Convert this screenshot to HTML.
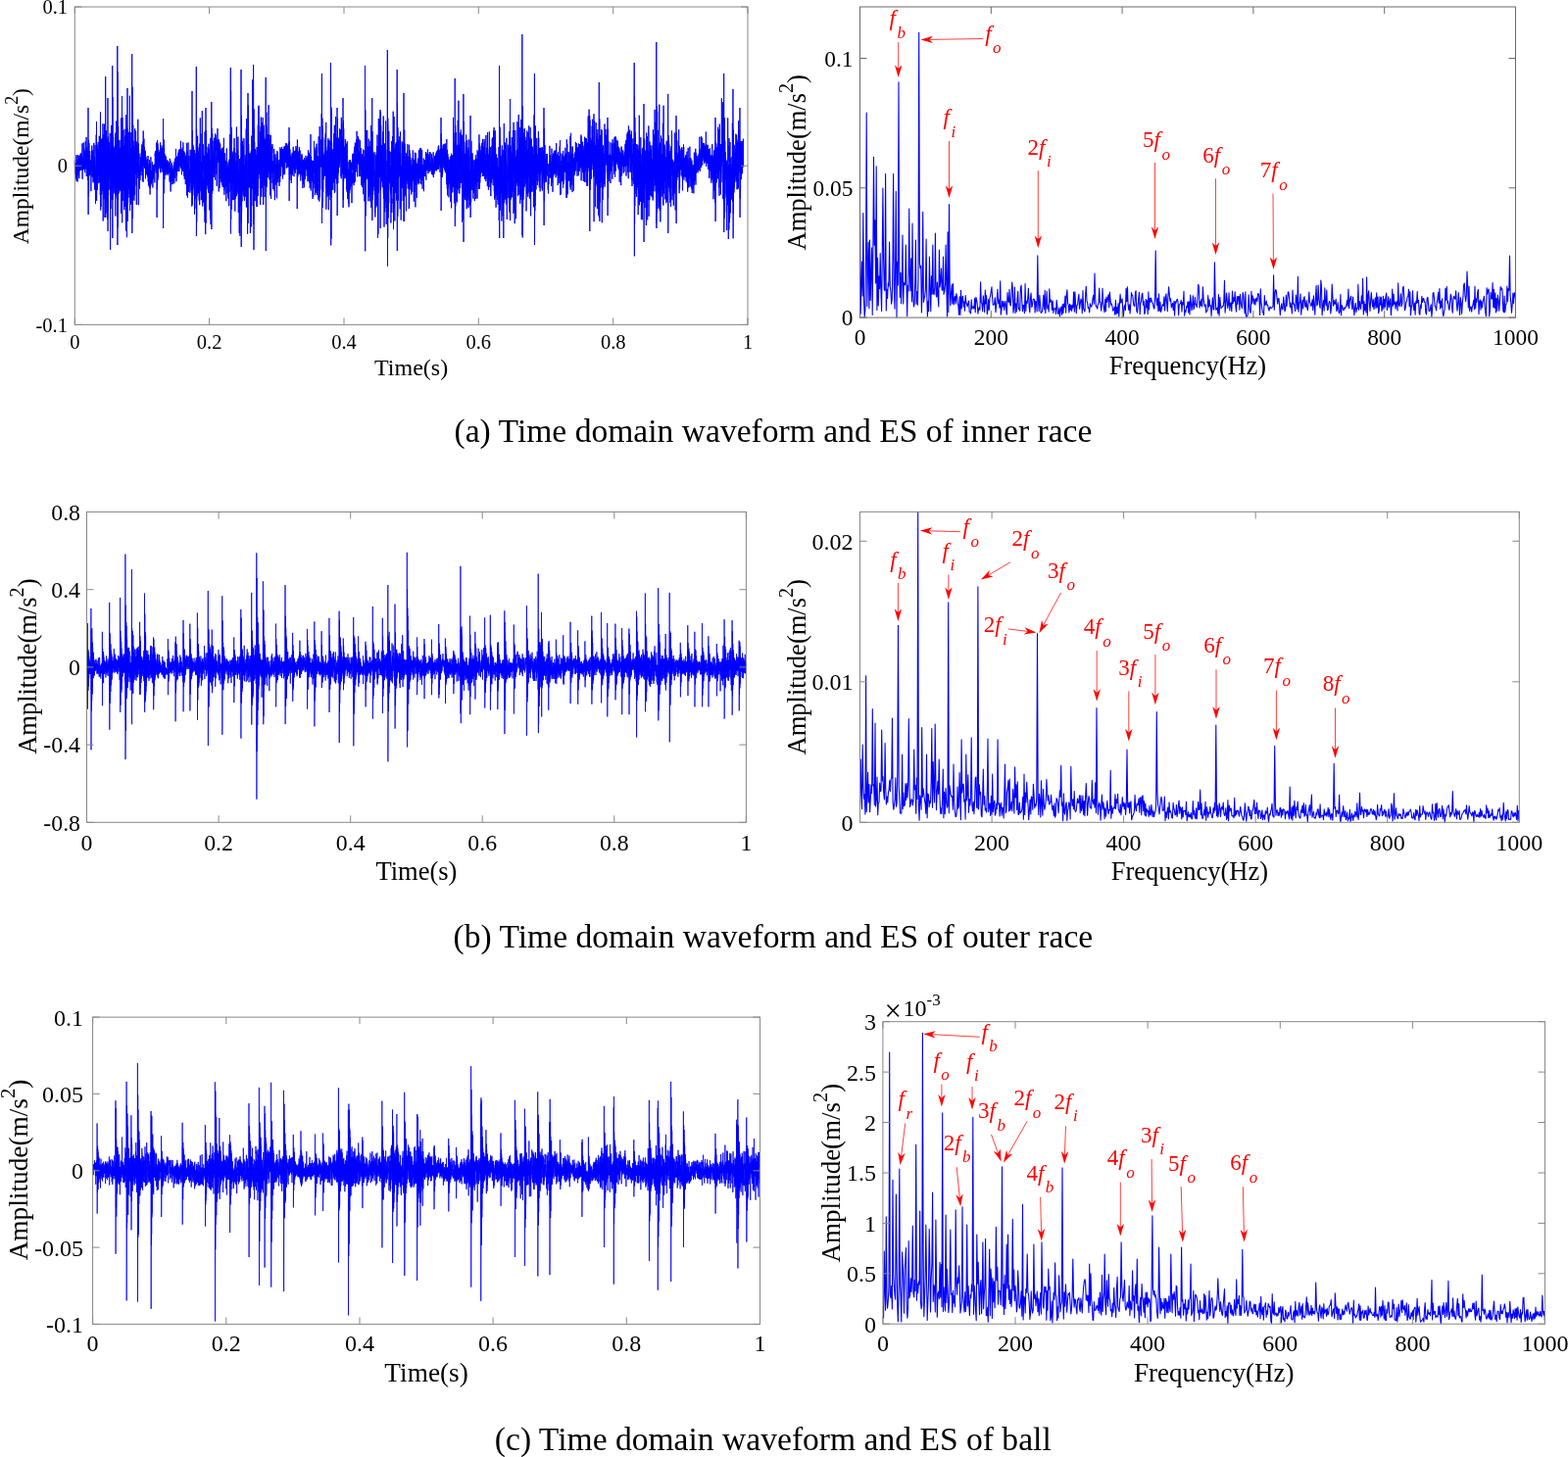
<!DOCTYPE html><html><head><meta charset="utf-8"><title>Time domain waveform and ES</title><style>html,body{margin:0;padding:0;background:#fff}svg{display:block}text{font-family:"Liberation Serif","Times New Roman",serif}</style></head><body>
<svg width="1600" height="1487" viewBox="0 0 1600 1487">
<rect width="1600" height="1487" fill="#fff"/>
<path d="M76.3 163.5l.1 7.3.1 6.6.1-9.2.1 0 .1 9 .1 0 .1-6 .1 3.8.1-6.6.1 12.5.1-14.4.1 9.7.1-6.4.1 12.8.1-16.6.1 5 .1-12.7.1 25.3.1 1.2.1-17.1.1-1.1.1 18 .1-15.6.1-2.7.1-3.2.1 8.5.1 11.3.1 2.6.1-27.3.1 11.3.1-3.9.1 8.7.1-.7.1-.3.1 4.8.1-4.5.1 5.5.1-4.9.1-10.6.1 7.2.1 4.6.1-16.6.1 2.7.1 8.4.1 12 .1-21.1.1-.3.1 12.8.1-14.1.1 15.3.1-4.1.1 1.1.1-4.7.1 2 .1-11.2.1 12.2.1-5.8.1 2.6.1-1.7.1 7.3.1-5.8.1-10.2.1 3.7.1 13.9.1-5.6.1 4.1.1-2.2.1-.8.1 4 .1-12.2.1-3.4.1 5.3.1 4.3.1-4.7.1 6.6.1-13.3.1-9.5.1 36.4.1-22.4.1 2.4.1-1.2.1 3.4.1 9 .1-10.6.1 2.4.1-1.9.1-.8.1 3.4.1-21 .1 26.6.1-6.4.1 6.7.1-8.4.1-13.1.1 12.2.1 6.1.1 3.9.1-14.4.1 9.8.1-10.4.1 10.4.1-1.2.1-3.7.1 12.6.1-22.5.1 18.8.1-10.3.1-2.4.1-15.4.1 15.3.1-2.9.1 11.1.1-3 .1-1 .1-8.9.1 17.3.1-11.7.1-20.7.1 32.4.1 7.7.1-11.2.1-3.3.1-15.5.1 10.2.1-5.7.1 16.3.1-5.8.1-2.9.1 10.2.1-10.1.1 5.2.1-4.6.1 14.9.1 6.1.1-31.5.1 12.3.1-54.6.1 109 .1-34 .1-39.2.1 54.6.1-57.6.1 54.6.1-42.4.1 24.5.1-33.4.1 30.1.1-19.4.1 20.5.1-23 .1 23.6.1-16.2.1 11.1.1-14.6.1 20.8.1-13.9.1 4.6.1-6.1.1 12.4.1-1.1.1-11.2.1 15 .1-12.9.1 3 .1 13.5.1 12.8.1-17.5.1-9.3.1.1.1-14.5.1 14.8.1 1.1.1-5.1.1 9.9.1-26 .1 28.2.1 3.7.1-4.1.1-21.2.1 22.5.1 2.7.1-17 .1-7.5.1 20.8.1-14.4.1 18 .1-27.1.1 33.1.1-10.5.1 2.3.1 7 .1-11.5.1-10.3.1 21.1.1-38.5.1 23.6.1-1.2.1 16.1.1-10.1.1-14 .1 28 .1-4.5.1 2.2.1 7.5.1-29.5.1 22 .1-37.9.1 45.2.1-14.2.1-6.2.1 16.6.1 18.5.1-23.9.1-10.2.1 15.2.1-20.2.1 35.4.1-36.2.1-30.5.1 18.9.1-.9.1-31.6.1 81 .1-17.8.1-42.1.1 40.5.1-31.6.1 24.9.1-31.1.1 46.1.1-40.2.1 27.2.1-23.3.1 21.7.1-26.9.1 24.5.1-6.9.1-1.3.1-15.2.1 23.2.1-20.8.1 19.4.1-2.3.1 14.1.1-.7.1-41.5.1 21.5.1 13.4.1-14.2.1-26.8.1 31 .1 13.5.1-23 .1 25.5.1-28.9.1-10.7.1 17.4.1 13.5.1-12.2.1 34.2.1-66.7.1-18 .1 52.7.1 47.4.1-31.5.1 17.8.1 10.2.1-40 .1.6.1 11 .1-40.9.1 25.3.1 24.3.1-33.3.1 40.5.1-21.8.1 11.7.1-27.3.1 13.9.1 7.7.1-20.7.1-5.1.1 5.6.1-21.8.1 54.4.1-36.4.1-32.4.1 42.3.1 56.9.1-81.6.1 30.3.1-22 .1 9.6.1-9 .1-15.8.1 28.6.1-17.4.1 55.1.1-10.7.1-20.5.1-45.5.1 64.4.1-12.9.1-27.4.1 32.2.1 20.9.1 18.3.1-75.1.1 52.3.1-40.5.1-4.7.1 41.6.1-40 .1-77.7.1 144 .1-6.3.1-77.1.1 78.9.1-75 .1 42.8.1-52.3.1 72.7.1-51 .1 30.1.1-34.7.1 37.7.1-45.9.1 43 .1-22 .1 35.9.1-48.3.1 34.2.1-8.7.1 2.9.1-17.7.1 62.5.1-123.7.1 136 .1-24.4.1-72.1.1 75.1.1-73 .1 57.7.1-55.1.1 38.8.1-30 .1 24.8.1-32.1.1 47.9.1-48.6.1 37.5.1-7.9.1 2.4.1-31.1.1 29.1.1-8.3.1 13 .1-11 .1-32.8.1 30.3.1-9.8.1-4.4.1 103 .1-90.8.1-11.7.1 10.2.1 50.3.1-20.4.1-42.8.1 7.8.1-.8.1 46.7.1-41.4.1-34.3.1 41.3.1-38.2.1 14.3.1 1.3.1 43.9.1-.5.1.8.1-53.1.1-2.8.1-67.8.1 176 .1-1.2.1-142.5.1 104.6.1-65.6.1 57.1.1-56.9.1 51 .1-49.5.1 52.2.1-43 .1 17.1.1 1.4.1 21.6.1-27.1.1 11.7.1-23.3.1 40.4.1-31.3.1 27.1.1-16.7.1 27.5.1-32.5.1-6.6.1 37.3.1-20.7.1-23.6.1-15.7.1 29.6.1 33.2.1 21.9.1-46.8.1 10.9.1 7.9.1 3.1.1-3.6.1-20.3.1-14.7.1 42.4.1-75.8.1 12.5.1 47.3.1-15.7.1-34.1.1 68.7.1-8.4.1-.1.1 11.2.1-48.6.1 26.3.1-135.7.1 203 .1-22.1.1-154.4.1 158.7.1-83.7.1 74.5.1-71.1.1 52.5.1-75.3.1 67.4.1-53.1.1 43.3.1-33.7.1 44.5.1-53.1.1 50.1.1-30.5.1 11.1.1-9.6.1 6.4.1-11.1.1-17.9.1 52.3.1-33.4.1 13.2.1-24.3.1 23.7.1-21.9.1 40.7.1-37.4.1 33.6.1-17.3.1 14.4.1-22.7.1 24.9.1-22.2.1 51.2.1-97.2.1 70 .1-14.2.1 32.3.1-16.7.1-52.3.1 29.5.1 39.1.1-18.2.1-92 .1 29.5.1 99.8.1-91.2.1 46.8.1-62.7.1 72.7.1-44 .1 56.2.1-71.9.1 53.1.1-13.4.1 19.5.1-35.4.1 24.9.1-31.5.1 27.1.1-29.3.1 46.4.1-30.3.1 13.3.1-3.8.1-20.7.1 59.5.1 1.6.1-82.4.1 33.1.1-11.3.1-13.4.1 70.8.1-72.4.1 34.6.1-11.9.1-7.3.1 4.6.1 27.7.1-10 .1-4.9.1-24.1.1 88.3.1-98 .1 63.3.1-83.7.1 45.7.1-34.2.1 53.2.1-52.5.1 35.2.1.1.1-1 .1 78.5.1-26.9.1 3.7.1-45.2.1 8.1.1-91.9.1 124 .1 12 .1-94.6.1 77.2.1-53.2.1 51.3.1-51 .1 35.7.1-28.8.1 39.1.1-39.4.1 31 .1-58.5.1 48 .1-18 .1 16.2.1-21.3.1 30.5.1-32.4.1 26.5.1-23.2.1 27.9.1 8.7.1-100 .1 95.1.1 22.4.1-24.7.1 11.5.1-50.8.1 15.9.1 39.1.1-71.2.1 47.9.1 25.7.1-57.3.1 10.3.1 39.3.1 2.5.1-23 .1 11.8.1-28.5.1 6 .1 33.7.1-2.7.1-19.3.1-35.3.1-91.1.1 183 .1-20.9.1-128.3.1 124.2.1-98.9.1 108.5.1-76.2.1 35.3.1-33.5.1 55.2.1-75.8.1 67.7.1-51.5.1 56.7.1-49.5.1 40.8.1-32.7.1 35.4.1-45.7.1 28.5.1-14.2.1 41.7.1-55.5.1-.1.1 25.4.1 23.4.1-37.9.1 11 .1 27.8.1-67.6.1 25.9.1 32.3.1-3.5.1-29.6.1-7.4.1 11.1.1 1.3.1 16.2.1-43.9.1 42 .1-8.9.1-2.7.1 11.6.1-18.2.1-13.1.1 64.5.1-34.2.1-24.5.1-2.3.1 31.2.1-18.6.1 8 .1.8.1 12.6.1-26 .1-2.9.1-6 .1 20.9.1 2.1.1-15.1.1-33.1.1 53.9.1-2.2.1-27.4.1 42.8.1 20.3.1-51.2.1-5.9.1 1.1.1 4.7.1-1.3.1 25 .1-24.2.1 28 .1 7.6.1-18.4.1 14.2.1-2.8.1-6.2.1-3.2.1-7.5.1 14.9.1-5.7.1-5.9.1-4.1.1-4.2.1-3.8.1 6.5.1-3 .1-2.9.1 8.1.1-2.7.1 12.7.1-13.7.1-9 .1 18.7.1-22.9.1 20.6.1-18.3.1-6.9.1 16 .1 6.5.1-9.5.1 9 .1 5.2.1-21.2.1 31.3.1-30.1.1 17.4.1-18 .1 14.7.1-24.1.1 23.6.1 17.5.1-52.3.1 29 .1 1.4.1-1.2.1 3 .1-6.1.1 10.1.1-28.2.1 27.5.1-12.8.1-6.4.1 14.7.1-10.1.1 13.2.1 4.2.1-1.7.1-17 .1.5.1 17.8.1-17 .1 17.3.1-9.4.1-4.3.1 24.3.1-23 .1 8.3.1 10.4.1-18.2.1 3.7.1-.2.1 5.7.1 3.7.1 5.7.1-8.7.1 7.2.1-4.6.1-6.6.1-2.7.1 3.4.1 1.6.1 4.9.1-9.3.1-1.3.1 13.6.1 0 .1 4.7.1-5 .1 1.5.1-18.1.1 5.1.1 21.3.1-15.9.1 8.2.1 11.8.1-14.8.1 7.4.1-7.1.1-1.2.1 9.1.1-15.7.1 10.5.1 7.1.1 6.6.1-28.3.1 22.6.1-6.1.1-1.4.1-4.2.1 16.5.1 8 .1-18.3.1 11.7.1-8.6.1-16.8.1 19.2.1-9 .1 12.8.1-29.2.1 23.9.1-5.5.1 3.8.1 3.2.1-11.9.1 9 .1 4.7.1-2.8.1-1.8.1-3 .1-.5.1 6.5.1-2.4.1-18.2.1 15.9.1-11.5.1 12.2.1-5.8.1 6.4.1 9 .1-10.2.1-10.2.1-3.1.1.9.1 10.8.1-2 .1 5.2.1-10.2.1-4.1.1 3.5.1 6.2.1-8.3.1 1.6.1-3.1.1 4 .1-3.1.1 5.7.1.3.1 11 .1-19.1.1-.1.1 7.1.1-17.4.1 1.7.1-3.9.1 11.9.1.5.1-4.4.1-4.5.1-4.3.1 16.2.1-5.7.1 12.1.1-12.2.1-8.3.1 1.2.1-11.6.1 11 .1 7.1.1 2 .1-7.2.1 63.5.1-13.7.1-53.2.1 38.5.1-50.6.1 45.5.1-36.7.1 25.6.1-27 .1 33.2.1-37.2.1 27.5.1-12.7.1 19.4.1-19 .1 13 .1-19 .1 16.8.1-14 .1 13.4.1-7 .1-9.7.1 11.2.1-5 .1-.3.1-6.1.1 9.2.1 5.4.1-8.6.1-.5.1-7.4.1 9.7.1-2.3.1 2 .1-.1.1-16.9.1 30.9.1-20.8.1 9.4.1-5.6.1 10.9.1-11.4.1 6.9.1-9 .1-5.1.1 17.6.1 2.5.1-18.1.1-5.2.1 13.2.1 14 .1-3.1.1-16.6.1-5.1.1 12.7.1 8.4.1-16.4.1 16.9.1-4.3.1-.1.1.3.1-7.6.1 10.3.1-7.3.1-42.7.1 112 .1-27.8.1-53.4.1 44.9.1-54.3.1 55 .1-51.9.1 42.4.1-44.7.1 48.5.1-40.6.1 28 .1-20.9.1 24.9.1-25.9.1 16.6.1-13 .1 17.4.1-17.1.1 11.5.1-7.8.1-4.2.1 13.2.1-8.8.1 9.6.1 4 .1-3.4.1-.4.1-15.3.1 13 .1.7.1 1.9.1-6.3.1 0 .1-3.9.1 8.4.1 3.5.1-7.6.1-6.1.1.9.1 11.6.1-3.2.1-5.4.1 6.1.1 5.6.1-10.5.1 3.8.1-4.2.1-3.6.1 9.1.1 4.5.1-2.3.1-10.1.1 4.7.1-4.3.1 7.8.1-7.1.1 8.4.1 1.3.1-3.9.1 1 .1 1.1.1-1.7.1-5.7.1 11.1.1 7.5.1-14.2.1-9.5.1 5.9.1 15.3.1-10.7.1-4.2.1 1.7.1-5.9.1 6.8.1 24.7.1-22.3.1 9.2.1 1.3.1 5.6.1-2.7.1-6 .1-9.7.1-.1.1 3.4.1-3.8.1 11.2.1 3.1.1-18.5.1 9.8.1 5.6.1-7.4.1 10.1.1-15.8.1 19.7.1-5.3.1-2.5.1 0 .1 7.2.1-14.6.1 1.5.1 3.8.1-3.8.1 7 .1-10 .1 10.4.1 3.3.1-6.4.1-.1.1-4 .1-2.5.1-7.3.1 20.7.1 1.6.1-13.3.1-7.5.1 1.6.1 7.7.1.6.1.1.1-14.8.1 13.5.1-4 .1 10.6.1-15.4.1 7.1.1.6.1 0 .1-1.5.1-20.6.1 14.7.1-.7.1 9.9.1 4.4.1 5 .1-11.5.1-5.7.1-.7.1 11.9.1-15.5.1 8.5.1-12.6.1 9.9.1-2.5.1 5.5.1-.6.1-5.5.1-4.3.1-1.3.1 10.4.1 3.8.1-12.6.1-6.7.1 13.2.1-.7.1 0 .1-6.1.1-4.9.1 14.3.1-10.6.1-7.9.1 6.3.1 10.4.1 5.2.1-11.6.1-10.4.1 4.2.1-5.1.1 14.1.1-3.5.1 6.9.1-10.9.1 6 .1 4.7.1-3.2.1-7.7.1-2.6.1.7.1-12.7.1 12.9.1 13.8.1-16.5.1 16.1.1 2.1.1-15.2.1 11.1.1-5 .1 4.4.1-2.6.1 13.4.1-22.7.1-2.8.1 12.9.1-13 .1 3.4.1-3 .1-2.5.1 24.3.1-18.3.1 8.8.1-8.2.1 9.5.1-21.4.1 3.7.1 15.6.1-4.2.1 2.1.1-.2.1-6.4.1 18.3.1 4.5.1-24.5.1 7.6.1 7.9.1 2.3.1 8.2.1-11.9.1 14.7.1-18.7.1-1.3.1 9.9.1-17.2.1 2.7.1 6 .1 10.1.1-.8.1 3.3.1 11.2.1-20.9.1-7.7.1 24.8.1-20.4.1 6.9.1-3.8.1-6.7.1-2.1.1 18.4.1-16.1.1 13.6.1 25.3.1-53.6.1 23.7.1 4.5.1-19.7.1 10.9.1 12.6.1-9.2.1-1.2.1 6.8.1 27.5.1-31.4.1 14.1.1 1.7.1-13.7.1-27 .1 43.8.1-19.4.1 24 .1 2.1.1-16.2.1-17.1.1 8.9.1.3.1-12.8.1 10.4.1 15.4.1 5.5.1-8.8.1-9.1.1 10.1.1-1 .1 5 .1 4 .1 6.2.1-5.6.1-38.3.1 10.7.1-4.5.1 19.5.1 3.9.1-14.2.1 18.7.1-23.6.1 16.1.1-10.3.1 25.2.1-41.5.1 26.1.1-7.4.1 23.4.1-.7.1-23 .1 39.3.1-48.4.1-69.2.1 73.9.1 31.4.1-46.8.1 57.2.1-75.4.1 66.8.1-42.5.1 36.6.1-46.4.1 43.7.1-41.8.1 37.3.1-23.3.1 21.3.1-29 .1 31.6.1-24.2.1 19.2.1-15.1.1 15.5.1-11.7.1-.9.1 28.8.1-46.1.1 65.5.1-49.8.1-1 .1 24.5.1 20.6.1-37.6.1 27.9.1-46.9.1 19.5.1 2.2.1-2.8.1-13.5.1 15.6.1-12 .1 3.5.1 18.2.1-34.2.1-10.8.1-74 .1 173 .1-2.4.1-107.2.1 95.2.1-86.8.1 54.9.1-50.1.1 55.7.1-40.1.1 35.1.1-34.3.1 36.2.1-58.5.1 57.6.1-46.6.1 21.5.1-17.1.1 20.7.1-19.3.1 22.9.1-2.4.1-5.5.1 20.1.1 6.9.1-9.2.1-12.5.1-16.1.1 38.7.1 6.4.1-53.5.1 12.3.1-5.4.1 24.9.1 26.1.1-62.6.1 2 .1 43.1.1-23.4.1-15.6.1-32.3.1 30 .1 15.4.1 18.3.1 5.8.1-9.1.1 14.4.1-30.3.1 11.8.1 9 .1 18.5.1-26.3.1 10.8.1-17 .1 31.8.1-38.2.1 18.9.1-47.9.1 63.5.1-64.6.1-22 .1 69.4.1-49.1.1 21.4.1 55.7.1-15.5.1-37.3.1 16.7.1-13.4.1 10.5.1-24.3.1 40.1.1 19.3.1-9.1.1-15 .1 20.6.1-20.5.1 4.3.1 2.4.1-6.4.1 8.1.1-32.2.1 20.7.1-15.6.1 51.3.1-34.1.1 11.6.1 34 .1-92.3.1 77.3.1-49.3.1 1.5.1-9.4.1 36.4.1 48.1.1-72.8.1 16.5.1-72.8.1 118 .1-42.6.1-52.4.1 71.1.1-67.7.1 55.2.1-23.7.1 25.6.1-43.7.1 30.9.1-25 .1 33.5.1-27.4.1 19.4.1-23.3.1 24.3.1-20.5.1 19.5.1-18.9.1 14.7.1-18.2.1 14.5.1 18.9.1-19.4.1-22.4.1 19.2.1 27.4.1-6.4.1 5.6.1-49.5.1 24.2.1-14.3.1 1 .1 23.4.1-29 .1 24.5.1-8.8.1 46.7.1-38.3.1 6.2.1 6.9.1-19.1.1 28.8.1-19.6.1 44.3.1-45.2.1 9 .1-46.6.1 29.5.1-7.8.1 66.5.1-47.2.1 13.6.1-46.5.1 6.5.1 15.5.1-.9.1-66 .1 130 .1-43 .1-60.2.1 67.2.1-59.9.1 49.2.1-32.4.1 33.2.1-51.7.1 44.2.1-26.2.1 40.4.1-36.8.1 11 .1-4 .1 8 .1-7.8.1 5.9.1-10.2.1 15.8.1-6.9.1-26 .1 19.5.1 2.3.1-15.3.1 30.5.1-39.8.1 9.6.1 3.6.1-1 .1 19.9.1-8.3.1-10 .1 14.7.1-29.5.1 8.1.1-9.1.1 44.6.1-47.2.1 31 .1 4 .1-7.5.1-26.1.1 14.3.1.8.1-9.7.1-.7.1-1.2.1 3.1.1 9.3.1-3.2.1 27.4.1-17.7.1 29.7.1-30.6.1-2.8.1 12.3.1-3.4.1-22.5.1 20.1.1-5.2.1-26.6.1 22.4.1-8.3.1 6.7.1-1.5.1-7.8.1 19 .1-13.3.1 17.3.1-.9.1-14 .1 17.1.1 27.6.1-32.5.1-20.6.1 31.5.1-21.5.1 13.2.1 15.7.1-16 .1 26.8.1-46.7.1 21.5.1-10.1.1 5.4.1 20 .1-14.4.1-20.9.1 5.2.1 16 .1 4.8.1-8.4.1 16.5.1-20.4.1 25.2.1-11.5.1-21 .1 11.4.1 8.9.1-10.4.1 5.6.1-6.6.1-10.8.1 15.9.1 21.3.1-27.9.1 16.5.1-25.6.1 2.4.1 13.5.1-6.1.1 25.7.1 4 .1-18.3.1-8.9.1-13.3.1 27.3.1 3.7.1-.7.1-1.1.1-12 .1 21.7.1-29 .1 28.2.1-47.9.1 32.6.1-2.8.1 24 .1-26 .1 30.2.1-37.1.1 20.5.1-11.9.1-3.2.1-5.5.1-5.5.1 3.3.1 5.6.1 19 .1 7.6.1-25.9.1 6.1.1 12.1.1-6.3.1-13.7.1.7.1 21.4.1 10.4.1 8.8.1-20.5.1-1.9.1 14.7.1-34.1.1-11.9.1 38.5.1-21.7.1 12.5.1-10 .1 5.9.1 3.8.1-15.1.1 3.6.1 16.4.1-13.3.1 16.2.1-8.5.1-9.7.1 2 .1 30.4.1-32.4.1 27 .1-21.7.1-7.5.1 33.6.1-6.6.1-29.3.1 7.5.1 37.1.1-47.5.1 24.4.1 8.7.1-22.8.1 13.9.1-10.9.1-3.8.1-35 .1 23.8.1 10.5.1 2.3.1-4.3.1-2.5.1 17.9.1-18.9.1-97 .1 153 .1 16.5.1-145.9.1 131.3.1-89.9.1 52.8.1-57 .1 83.9.1-71 .1 50.8.1-34.1.1 32.8.1-34.1.1 28.2.1-30.8.1 31.9.1-32.8.1 29.1.1-17.8.1 15.8.1-23.9.1 25.5.1-3.4.1-5.7.1 30 .1-28.6.1 28.4.1-10.9.1-13 .1-10.8.1 7.1.1-24.2.1 17.6.1-8.3.1 19.7.1 3.4.1-43.5.1 62.9.1-53 .1 36.8.1-26.9.1 37.8.1-34 .1 3.7.1 47.3.1-28.1.1-24.8.1-7 .1 14.4.1 17.3.1-9.8.1 25 .1-5.6.1-24 .1 4.9.1-13.9.1 10.8.1-7.8.1 14.1.1-14.2.1-37.4.1 70.5.1-22.7.1 12.6.1-19.6.1.9.1 26.6.1-19.9.1-1 .1 6.9.1-8.8.1-22.5.1 16.5.1 18.5.1-10.5.1-37.5.1 56 .1-37.2.1 38.5.1 20.2.1-19.5.1-22.3.1 12.6.1 10.2.1 1.8.1 4 .1 2.2.1-10 .1 41.8.1-64.8.1 3 .1 4.2.1-18.3.1 33.7.1-13.3.1 58.4.1-63 .1 13.2.1-23 .1-5.7.1 23.3.1 24.7.1-36.8.1-11.8.1-1.7.1 33 .1-122 .1 160 .1 20.9.1-105.4.1 81.1.1-109.7.1 98.6.1-75.6.1 57.6.1-54.6.1 61.6.1-61 .1 51.7.1-34.5.1 7.9.1-25.4.1 42.9.1-26 .1 20 .1-17.2.1 4.3.1-.1.1 26.1.1-30.4.1 17.6.1-33 .1 47.1.1 4.8.1-10.2.1-48.9.1 16.4.1 16.4.1 4.3.1-6.1.1 32.5.1-36.4.1 24.9.1-17.9.1 5.4.1-6.9.1 19.1.1-35 .1 14.9.1 28.2.1-30 .1 19.6.1-18 .1-11.6.1 33.6.1-11.4.1-2.4.1.8.1-50.1.1 42.4.1 37.6.1-31.5.1 16.7.1-75.5.1 77.7.1 12 .1-46.6.1 31.8.1-3.5.1-3.8.1 11.2.1-6.6.1 45.3.1-53.4.1-19 .1-31.3.1-40 .1 133 .1-5.2.1-115.3.1 78.5.1-37 .1 42.9.1-44.9.1 26.4.1-3.6.1 19.7.1-29.3.1 31.2.1-35.3.1 24.9.1-22.5.1 16.8.1-6.9.1 10.7.1-22.3.1 23.7.1-23.1.1 22.2.1 8.6.1 49.7.1-9.3.1-68.3.1 49.5.1-37.3.1-8.8.1 19.7.1-28.9.1 42.3.1-31.6.1 18.3.1 34.7.1 13.2.1-46.3.1-46.5.1 11.9.1 17.5.1-8.3.1-2.7.1 29.2.1-39.7.1 26.6.1 19.6.1-111.3.1 81.2.1 19.9.1-22.6.1 50.2.1.1.1-79.8.1 32.7.1 43 .1-140.1.1 163 .1-4.7.1-91.9.1 122.5.1-143.4.1 89.3.1-69.6.1 64.8.1-38.7.1 47.2.1-59.5.1 60.1.1-46.5.1 19.1.1-10.8.1 32.1.1-27.4.1-1.6.1-17.9.1 16.6.1-3.4.1-11.9.1 14 .1 37.7.1-45.5.1 12.7.1 15.8.1 9.9.1 12.7.1-52.4.1 1 .1 17.5.1 1.9.1 4.9.1-33.6.1 13.4.1 47.7.1-45.8.1-9.7.1 25.6.1-3.4.1 2.4.1-29.7.1 24.5.1-9.3.1-3.1.1-35.1.1 72.4.1-91.4.1 83.7.1-23.7.1 13.7.1-22.4.1-10 .1-42 .1 26.6.1 43.6.1-21.1.1 2.2.1 18.1.1-29.2.1 7.4.1 16.4.1 5.5.1-32.1.1 18.9.1-29.9.1 7.5.1 47.2.1 20.1.1-48.5.1 16.2.1 8.1.1-7 .1-48.5.1 37.3.1-47.1.1 24.9.1 55.8.1-48.2.1-22.9.1 71.8.1-11.2.1-25.4.1 9.6.1-48.7.1 55.4.1-55.4.1 66.9.1-11.8.1-25.5.1-4 .1 7.8.1-31 .1-4.3.1-3.3.1 43.5.1-20.5.1 23.9.1-35.6.1 77.7.1-34.7.1-9.2.1 5.4.1-42.8.1 60.9.1-11.9.1 7.5.1-23.7.1 17.3.1-37.4.1.9.1 59.8.1 0 .1-58.7.1 8.3.1 38.9.1-30.8.1 23.3.1-40 .1 41.1.1-13.8.1-21.2.1 8 .1-19.3.1-57.9.1 177 .1-24.4.1-95.8.1 60.2.1-68.6.1 60.8.1-73.5.1 76.2.1-61.1.1 44 .1-31.4.1 27.5.1-19.2.1 21.9.1-16 .1 25 .1-22.4.1 4.2.1-4.2.1 21.6.1-21.6.1-9.7.1 9.2.1-21.6.1 26.6.1-21.1.1 30.7.1-23.8.1-42.3.1 55.3.1-1.1.1-18.2.1 33.1.1-8.6.1 1.6.1-13 .1 27 .1-45.8.1 21.5.1-.5.1 5.9.1-1.8.1 36.8.1-57.3.1 34.7.1-26.8.1 15.7.1 1.2.1-10.9.1-18.1.1 27.9.1 7.8.1-15.9.1 45.3.1-24.4.1 2.2.1-9.3.1 15.4.1-33 .1 17.5.1-6.4.1 2.1.1 5.1.1 5.3.1-28.2.1 7 .1-9.3.1 24.2.1-6.1.1-.8.1 10 .1-3.9.1 22.6.1-5.9.1-3.6.1 3.2.1-21.6.1 1.2.1-.4.1 9.4.1-17.1.1 1.5.1 5 .1 12.4.1-25 .1 36.7.1 6 .1-4.2.1-32.9.1 14.8.1 9 .1 22.7.1-27.1.1 10 .1 14.1.1-40.5.1 13.6.1-17 .1 17.8.1-7.1.1 15.7.1-16.3.1 12.9.1-12.5.1 5 .1 16 .1-13.6.1-1.7.1 10.5.1-7.1.1-12.4.1-3.6.1 13.9.1 27.6.1-35.7.1-12.7.1 24.2.1 7.1.1-13.5.1 1 .1-7.7.1 17.2.1-27.1.1 9.4.1 21.6.1-23.1.1 12.9.1-9.3.1 3.5.1 3.3.1-3 .1 7.9.1 3.2.1-5.6.1.3.1-7.5.1 2 .1 19.1.1-26.4.1 9.1.1-9.7.1 1.6.1 4.1.1-3.3.1 20.5.1-31.2.1-4.2.1 13.1.1 11.5.1-12.6.1 10.2.1-20.2.1 20.6.1 6.9.1-3.7.1-1.2.1-14.8.1 7.2.1-3.4.1 5.7.1-16.5.1 12.4.1-2.3.1-13.4.1 12 .1 7.6.1-3 .1-13.4.1 6.9.1 10.6.1-18.6.1 24.4.1 6.1.1-11.2.1 8.2.1-16 .1-2.4.1 2.5.1 2.6.1 4.1.1-18.3.1 26 .1-24.5.1 4 .1 2.7.1-4.8.1 17.7.1-22.8.1 4.1.1-5.5.1 27.8.1-20.5.1 3.2.1 18.8.1-17.3.1-3.5.1 7.2.1-10.2.1-1.7.1 8.7.1-1 .1-9.6.1 14.9.1-12.6.1-7 .1 11.4.1-3.4.1 3 .1-6.7.1 19.5.1 1.7.1-7 .1-2 .1-13 .1-3.2.1 6.6.1-5.3.1 13.7.1 1.2.1 8.3.1-21.7.1 5.2.1 4.9.1 10.8.1-2.5.1-11.9.1 4.3.1-8.6.1 7.5.1 7.4.1 4.1.1-9.1.1-12.6.1-2.5.1 21.8.1-9.5.1 10 .1-38.5.1 75 .1-9.7.1-51.1.1 34.8.1-31.9.1 35.3.1-22.7.1 24.3.1-31.6.1 20.6.1-13.5.1 13.8.1-15.5.1 14.6.1-8.9.1 14.2.1-12.6.1 11.8.1-15.2.1 7.3.1-3.2.1-4.5.1 25.6.1-20 .1 11.1.1-15.9.1-2.3.1 1 .1 2.5.1-2.6.1-4.9.1 17.2.1-15.6.1 14 .1 7.7.1-14.7.1-1.3.1 3.1.1 7 .1-9.4.1 6 .1-20 .1 15.3.1-.6.1 6.6.1-8.4.1-8.1.1 17.3.1-2.8.1 11.1.1-13.6.1-12.6.1 20.3.1-6.1.1 2.4.1-3.7.1 3.4.1-3.2.1 5.3.1-10 .1-5.8.1 1.3.1 19 .1-23.5.1 4.2.1-3.3.1 14.5.1-2.2.1-9.5.1-8 .1 19.6.1-9.2.1-1.3.1 5.7.1-5.3.1 6.2.1-13.2.1 21.2.1-14.1.1 6 .1-3.3.1 51.6.1-6.7.1-63.8.1 47.1.1-41.5.1 27.1.1-20.1.1 25.2.1-22.3.1 19.9.1-23.5.1 20.8.1-18.3.1 18.1.1-17 .1 14.1.1-12 .1 8.7.1-4.3.1 8.3.1-5.4.1-4.3.1-12.9.1 27.5.1-12.4.1-4.1.1 8.2.1-5.8.1 2.8.1-6.6.1-6.3.1 15.4.1-4.4.1-.9.1 2.5.1 1.5.1 16.9.1-17 .1 9.3.1-4.6.1-6.5.1-.7.1 8.2.1.4.1-1.1.1 6.3.1-20.3.1-1.3.1 15.6.1-14.2.1 6.9.1 15.1.1-15.8.1 2.2.1 4.3.1 13.3.1-6.7.1 14.1.1-18.4.1 2.3.1 7 .1 1.2.1-21.3.1 23.9.1-18.7.1 5.3.1-9.5.1 24.3.1-14.6.1-9.7.1 12.1.1 10.7.1 4.7.1-10.7.1-15 .1-4.5.1 12.7.1-7.3.1-1.1.1 3.4.1 12.7.1-14.1.1 15.5.1-10.2.1-6.4.1-2.7.1 10.7.1-11.6.1-3.9.1 4.9.1 9.2.1-3.5.1 2.5.1-.5.1-6.6.1-3.8.1 10.1.1-7.3.1 4.6.1.7.1 10.8.1-13.5.1 4.7.1-4.2.1-7.3.1 2.3.1.1.1 12.2.1 11 .1-12.4.1-4 .1-2.3.1-12.1.1 10.8.1-12 .1 19.1.1 7.2.1-20.8.1 21.2.1 4.8.1-10.9.1-9.7.1-8.3.1 11.9.1-9.9.1 10.3.1 18 .1-5.8.1 6.6.1-16.4.1 21.6.1-7.3.1-6.6.1-19.9.1 4.4.1 10.8.1-6.6.1 5.5.1-35.3.1 52.7.1 4.7.1-.9.1-5.6.1-12.9.1-15.5.1 14.7.1.7.1-1.2.1-4 .1 14.3.1-19.3.1 8.9.1-3.5.1-3.8.1 0 .1-2.7.1 21.9.1-17.4.1 27.1.1 7.7.1-22.8.1-10.3.1-.8.1 1.8.1-6.6.1 36.3.1-16.6.1-4.3.1 8.3.1-15.8.1-3.5.1 3.9.1 2.9.1-31.6.1 32.3.1.8.1-17.4.1-9 .1 40.3.1 1.3.1-35 .1 3.4.1 4 .1 16.7.1-14 .1 31.7.1-3.9.1-42 .1 43.8.1-17.2.1-12.5.1 4.9.1 22.3.1-8 .1-18.9.1 16.4.1-34 .1 29 .1-32.3.1 30.1.1-20.8.1 13 .1 6 .1 23.8.1-32.7.1 8.4.1-4.9.1 15.2.1 6.9.1.3.1-15 .1-17.9.1 21.9.1 13.4.1-4.9.1 5.6.1 8.6.1-22.5.1 4.9.1-5.4.1-41.3.1 17 .1-9.7.1 26 .1-4.7.1 19.7.1 17.9.1-3.5.1-23 .1-16.1.1-33.8.1 43.9.1 27.8.1-22.3.1-17.2.1 32.2.1-13.3.1-19.4.1 7.3.1-6.5.1 7.2.1 1.5.1-27.9.1 9 .1 12.9.1-5.8.1 11.7.1-.2.1-9.5.1 3.9.1-48.2.1 47 .1-88.2.1 153 .1-26 .1-73.8.1 70.9.1-78.5.1 91.4.1-81.3.1 75.1.1-48.6.1 27.5.1-42.9.1 42 .1-43.6.1 55.6.1-39.2.1 17.8.1-15.7.1 24.1.1-13.8.1 6.4.1-6.5.1-4.5.1 7.1.1-13 .1 12.3.1-9.1.1 17.6.1-17.9.1 1 .1-7.7.1 8.1.1 16.6.1-7.1.1-30.2.1 35.1.1-7.2.1-33.8.1 21.3.1-.9.1 35.5.1.5.1-26.3.1-41.4.1 88.8.1-2.4.1-50.6.1 7.1.1 28.3.1-42.5.1 16.3.1 15.4.1-8.8.1 10.5.1-19 .1 23 .1 9.9.1-9.3.1-24.6.1-17.2.1 40.2.1 8.8.1-29.9.1-18.6.1 34.1.1-43.2.1 52.2.1-50.4.1 16.9.1 54.3.1-50.8.1 17.1.1-1.1.1 12.6.1-17.2.1 15.2.1-18.1.1-21.2.1-7.2.1 5.9.1 5.2.1 9.8.1 14.3.1 20.6.1-48.4.1 32.6.1-14.3.1 34.9.1-41 .1-21.4.1 33 .1-110.7.1 173 .1 13.4.1-138.2.1 131.4.1-134 .1 81 .1-74 .1 85.4.1-57.9.1 38.9.1-37.4.1 25.8.1-6.7.1 27.4.1-29.3.1 19.6.1-24.8.1 15.7.1-4.5.1 13.9.1-30.3.1 25.8.1 15.8.1-31.8.1 17 .1-13 .1-7.9.1 28.5.1-20.4.1-30.2.1 34.2.1-1.2.1 7.2.1-19.5.1-4.1.1 29.2.1-21.5.1-32.7.1 69.2.1-55.5.1 1.9.1 50.1.1 2.1.1-22.7.1-40.5.1 41.4.1-14.1.1-2 .1 3.7.1-42.4.1 34.4.1 29 .1-30 .1-7.4.1 34.2.1-25.6.1 15.3.1 13.7.1-8.4.1-34.2.1 18.9.1 28.6.1-46.7.1 19.8.1-50.6.1 110 .1-5.8.1-73.3.1 34.4.1-54.7.1 58.4.1-26.5.1 34.5.1-29.5.1 17.4.1-32.7.1 34.3.1-35.8.1 32.4.1-7.4.1 5.6.1-22.9.1 21.1.1-16.5.1 18.1.1-13.6.1-8.9.1-5.9.1-4 .1-7.3.1 24.5.1 11.4.1-10.8.1-4.3.1 4.3.1 8.4.1-31.1.1-1.5.1-.2.1 3.8.1 4.1.1 16.8.1-.7.1-11.5.1 35.6.1-34.6.1 36.7.1-62.4.1 19.9.1 20.7.1-9.7.1 8 .1-32.9.1 7.2.1 16.4.1 9.6.1-17.1.1 5.3.1 5 .1 7.6.1 16.2.1-2.7.1-9.6.1 14 .1-77.8.1 112 .1-13.6.1-59.4.1 64.8.1-80.6.1 62.4.1-54.3.1 45.4.1-27.6.1 29.9.1-28.5.1 31.8.1-27.9.1 21.2.1-24.4.1 16.5.1-10.5.1 16.2.1-9.4.1 10.9.1-3.4.1-17.1.1-12.3.1 19.5.1-15.7.1 35.7.1-15.3.1.1.1-11.6.1 10 .1-6 .1-12.1.1 35.6.1-12.8.1-6.3.1 14.8.1-13.2.1 28.9.1-9.3.1-9.4.1 21.1.1-51.7.1 4.5.1 8.7.1 6 .1-.4.1 15.9.1 0 .1 23.9.1-37.8.1 14.8.1 23.4.1-14.2.1-16.7.1 27.5.1-13.7.1 21.3.1-21.1.1-4.9.1 29.7.1-20.3.1-15.1.1 10.3.1-22.9.1 7.7.1-3.5.1 29.8.1-3.7.1-15.8.1-2.3.1 12.9.1-4 .1 9.2.1-6.2.1-11.1.1-13.1.1 10.6.1-4.2.1 9.7.1-5.8.1-5.9.1 22.7.1-23.4.1 4.3.1-5.5.1 6.6.1 13.3.1-3.2.1-6.2.1 31 .1-21.2.1-3 .1-1.2.1 5.1.1.6.1-10.1.1 3.9.1-24.1.1 15.8.1.5.1-11.5.1 10.8.1-1.1.1-15 .1 2.2.1 14 .1 13.2.1-8.9.1-14.6.1 26.6.1-16.6.1-3.5.1 17.6.1-33.6.1 17.6.1 15.7.1-6.9.1-17.8.1-12 .1 13.1.1 1.1.1 4.5.1-22.8.1 3.8.1 36 .1-20.6.1-7.2.1 9.5.1-8.3.1-2.9.1 19.6.1-28 .1 14.2.1-11.9.1 9.9.1 4.5.1-18.6.1 12.2.1-15.7.1 12.3.1-20.5.1 38.1.1-11.4.1 10.9.1 4.1.1-16.9.1 21.7.1-18.2.1-18.6.1 9.8.1 14.1.1-3.8.1-13 .1-11.5.1 24.2.1-5.2.1-5 .1 9.1.1-7.4.1 1.1.1-14.3.1 26 .1-9.1.1-3.7.1 14.8.1-5.3.1-4.2.1 20 .1-13.4.1 9.2.1-8.6.1 2.6.1-2.5.1-16.7.1-7.5.1 6 .1 23.5.1-15.9.1 23.1.1-26.1.1-2.3.1 15.9.1-5.3.1-11.1.1 1.5.1 19.2.1 2.9.1 14.5.1-19.6.1 4.1.1-8.4.1-8.2.1 29.8.1-9.3.1-6 .1 19.5.1-21.1.1 4.9.1-12.8.1-4.6.1-.2.1 15 .1-7.5.1.7.1-13 .1 45.7.1-24.8.1 8.3.1-13.6.1-14.9.1 13.4.1 1.3.1 13.6.1-16.3.1 1.4.1 20.2.1-26.7.1 18.1.1 27.3.1-31.8.1-11.4.1.8.1 5.3.1 3 .1-104.4.1 147 .1 42.3.1-144.1.1 96.8.1-63.8.1 75.1.1-75.5.1 54.6.1-66.4.1 49.5.1-23.9.1 24.9.1-35.5.1 33.2.1-32.4.1 31.2.1-29.3.1 14.6.1-9.3.1 22.6.1-26.6.1-19.2.1 27.9.1 21.8.1-21.6.1 20.8.1-32.4.1 21.7.1-13.6.1 8.2.1-14 .1 53.6.1-44.3.1 2.8.1-1.8.1 33.3.1-53.5.1 38.7.1-21.3.1 19.1.1-5.9.1 5.2.1 23.1.1-18.8.1-38 .1 48.4.1-24.5.1 37.7.1-56.2.1 49.6.1-4 .1-19.7.1-13.6.1 37.8.1-24.1.1-12.5.1 11.1.1 16.4.1-24.4.1-13.4.1-24.4.1 21.6.1 62.4.1-61.9.1 5.8.1 15.7.1-7.9.1-8.7.1 29.5.1 21 .1-20.1.1-85.4.1 125 .1-19.3.1-71.7.1 69.8.1-41.6.1 35.7.1-37.4.1 22.9.1-29 .1 16.9.1-2.6.1 25.9.1-38.2.1 34 .1-29 .1 14.8.1-14.4.1 11.7.1 1.3.1 5.3.1-8.9.1-7.1.1-6.2.1-2.6.1 24.9.1 18.7.1-7.1.1-9.8.1 35.2.1-14.1.1 18.4.1-47 .1 1.3.1 26.2.1-43.9.1 19.7.1 4.8.1-18.8.1 7.3.1 32.3.1-9.4.1 17.5.1-48.4.1 16.7.1-24.4.1 37.8.1 11 .1-55 .1 6.3.1 54.1.1-60.3.1 42 .1-53.7.1 23.7.1 26.3.1-9.3.1-2.1.1 66.6.1-87.6.1 23.4.1-26 .1 86.3.1-86.1.1 16.2.1 27.8.1-75.8.1 27.7.1 42.6.1-3.5.1-34.3.1-29.8.1 30.8.1 23.1.1-55.3.1 58.8.1-47.5.1 15.7.1 19.6.1 11.7.1-1 .1-13.7.1-35 .1-18.9.1 121 .1-34.7.1-84.1.1 80.2.1-68.9.1 67.2.1-64.5.1 58.2.1-38 .1 32.1.1-27.2.1 27.4.1-24 .1 28 .1-15 .1 9.4.1-31.1.1 32.1.1-11.2.1 9 .1-10 .1 3.8.1 18.9.1-50.4.1 51 .1-14.1.1-43 .1 38.2.1-32.2.1 37.3.1-24.4.1-34.5.1 78.9.1-36.2.1 41.8.1-26.4.1 16.6.1-19.6.1 34.1.1 23.9.1-67.9.1 12.5.1-29.7.1 28.3.1 3 .1 25 .1 13.6.1-38.1.1 33.7.1-64.6.1-.6.1 23 .1-17.1.1 33.6.1 11.8.1-74.8.1 68 .1-38.5.1 53.3.1-30.5.1-11.3.1 64.5.1-4 .1-20.2.1-8.8.1-10.4.1 20.7.1-.2.1 7.5.1-.1.1-35.4.1 22.4.1-149.3.1 180 .1 40.6.1-144.1.1 115.4.1-122.1.1 85.4.1-72.4.1 88.6.1-84.7.1 77.9.1-57.5.1 57.9.1-66 .1 57.1.1-73.1.1 52.9.1-31.8.1 27.2.1-6.5.1 11.4.1-32.9.1 28.8.1-27.1.1 26.8.1-13.6.1 10.5.1-10.6.1 3.7.1-18 .1 39.5.1-7.5.1 11.1.1-16.9.1-11.7.1 9.1.1 49.1.1-30.7.1-4.1.1-5.4.1 7.3.1-6.8.1-31.2.1 7.4.1-20.1.1 73.1.1-14.2.1 4.8.1-54.4.1 6.9.1 30.4.1-1.2.1-19.5.1-24.9.1-5.7.1 51.5.1-36.5.1 25.4.1-42.2.1-23.7.1 47.9.1-1.6.1 74.1.1-73.3.1 52.7.1-26 .1-34.1.1 56.7.1-91.1.1 66.6.1-30.5.1 30.3.1-28.4.1 29 .1-12.1.1 51.6.1-74.7.1 6.1.1 23.4.1-.9.1 17.5.1-8 .1-21.9.1-1.4.1-9.7.1-9.3.1 3.6.1 13 .1 1.4.1 12 .1-31.5.1 43 .1 1.3.1-24.6.1 38.4.1-24.1.1 25.8.1-14.2.1-93.3.1-26.4.1 185 .1-44.2.1-106.7.1 111.4.1-81.8.1 86.2.1-90.9.1 46.3.1-24.7.1 52.9.1-49.6.1 26.5.1-38.5.1 38.3.1-36.8.1 36.9.1-13.6.1 7.3.1-17.3.1 21.6.1-19.8.1 4.5.1 7.9.1-16.6.1 20.8.1-36.8.1 24.3.1 4.2.1 38.3.1 7.2.1-38.4.1 5.2.1-45.7.1 51.4.1 4.3.1-33.6.1 54 .1-40.1.1 26.2.1 28.1.1-18.4.1-30.8.1-2.5.1 4.9.1 12.3.1-17.7.1-3.9.1 4.2.1-28.4.1 12.3.1 34.5.1-4.7.1 5.3.1-19.3.1-15.6.1-9.4.1 25.2.1 13.9.1 8.2.1 10.2.1-58.6.1 36.3.1 3 .1-40.2.1 42.7.1-9.1.1-8.8.1-75.3.1 131 .1-32.7.1-48.7.1 81.3.1-81.6.1 56.5.1-68.3.1 58.7.1-23.7.1 31.7.1-52.4.1 38.1.1-20.2.1 21.1.1-15 .1 9.1.1-20.3.1 20.2.1-12.1.1 5 .1-5.5.1 33.4.1-37.7.1 52.5.1-30 .1-23.5.1-5.6.1 24.5.1.1.1.6.1 2.1.1-2.4.1-22.5.1 13.4.1-18.2.1 17 .1 13.6.1-1.5.1-35.8.1 40.6.1-23.8.1 28.6.1-21.7.1 12.9.1 1.1.1 6 .1-1.7.1-12.8.1-17.1.1 13.8.1 17.8.1-18.5.1 40.7.1-33.5.1-31.8.1 63.4.1-28.3.1-17.7.1-12.1.1 8.6.1 22.7.1-27.9.1 1 .1 25.3.1-5.5.1 12.9.1-7.8.1-21.9.1 33.1.1-30.6.1 10.9.1-.2.1 12.3.1-17.2.1 11.4.1.7.1 17.6.1-20.4.1 5.1.1-15.4.1 9.1.1 2.6.1 5.4.1 1 .1 1.4.1-17.3.1 26 .1.1.1-20.7.1-14 .1 13.1.1 6 .1-27.1.1 21.2.1 10.3.1-8.7.1-9.8.1 16.1.1-13.7.1 13.1.1-5.6.1-2 .1 31.3.1-41.8.1 7.3.1 1.6.1 2.9.1 4.6.1-17.6.1 14.8.1-9.5.1 28 .1-40.2.1 19.1.1-.9.1 13.9.1-1.4.1-14.2.1 39.2.1-48.1.1 21.1.1.4.1-8.8.1-19.6.1 17.4.1-9.2.1 24.2.1-7 .1-15.3.1 20.6.1 14.9.1-19.8.1-3.4.1-1.7.1-9.5.1.6.1 10.6.1-10 .1 6.6.1-2.5.1 10.4.1-16 .1 9.6.1-15.3.1 25.4.1-24.6.1 22.1.1-15.6.1 14.7.1-2 .1-15.5.1 22.2.1-24.2.1-11.2.1 13.1.1 21.1.1-20.4.1 6.8.1-2.5.1 1.8.1-10 .1-5.8.1 12.6.1-9.9.1 17.3.1-25.8.1 30.1.1 1.3.1-6.4.1-10.6.1-1.4.1 22.8.1-15.9.1-1.4.1-18.8.1 25.2.1 9.7.1 2.4.1-12.7.1-6.1.1 2.6.1 2.8.1 6.2.1-6.4.1-.6.1-21.2.1 22.5.1 8.5.1-5.3.1-1.8.1 16 .1-17.6.1-1.7.1.3.1 9.6.1-6.2.1-4.6.1-4.6.1 4.3.1 13.2.1-16.6.1-7.2.1 14.6.1 19 .1-28.3.1-1.8.1 8 .1 3.3.1-12.9.1 2.4.1 6.4.1 1 .1-3.2.1-7 .1 6.9.1 10.1.1-4.7.1-6.5.1-2.1.1 7.2.1-10.7.1 10.6.1-13 .1-5.8.1 6.4.1 5.4.1-4 .1 20.8.1-28.1.1 17.8.1.8.1-4.6.1 4.1.1-7.4.1 2 .1-1.9.1-9.5.1 5.6.1 7.5.1-3.2.1 4.7.1-14 .1 15.9.1-5.3.1-15.6.1 14.7.1-3.6.1-2.6.1 16.1.1-13.7.1-5.9.1 6.1.1-3.1.1 11.3.1-7 .1 2.8.1-2.3.1 10.1.1-5.1.1-8 .1 8.4.1-8.4.1-7.2.1 9.5.1 1.4.1-3.6.1 11.2.1-2.6.1 4.3.1-1.5.1-18.4.1 18.1.1-5.4.1 2.7.1.7.1-.8.1-.4.1-4 .1 4.8.1-5 .1 4.2.1 1 .1-.6.1-13.6.1 20.8.1-7.4.1-6 .1 1 .1 11 .1.7.1-7.4.1-8.7.1 3 .1 5.7.1 1.9.1-.9.1-.5.1 8.7.1-.1.1-9.4.1-14.2.1 11.8.1 14 .1-4.7.1-7.4.1 6.5.1-8.8.1 6.7.1.4.1 3.7.1-12.6.1.6.1-.5.1-2.1.1 5.6.1-9.6.1 15.9.1-12.8.1 8.3.1.4.1 1.4.1-9.1.1 2.6.1-6.6.1 14.5.1-8.2.1 8.4.1-10.8.1-6.6.1 17.2.1-15 .1 15.4.1-18.4.1 9.7.1-3 .1 12.2.1-20.1.1 12.6.1 2.7.1-10.8.1 13 .1-3.8.1.7.1 3.1.1-14.2.1-4.6.1 19.8.1-19.2.1 3.5.1 11.1.1-7.9.1-10.6.1 20.3.1-.7.1 3.3.1-24.1.1 8.2.1 14.1.1-5.3.1-6.5.1 7.2.1-11.5.1 8.7.1-9.8.1 7.2.1.9.1 6.5.1-7.8.1-4.1.1 19.6.1-17.8.1-6.2.1 2.8.1 4.2.1 5 .1 7.3.1-1.5.1-4.7.1 5.9.1-50.9.1 95 .1-30.3.1-48.2.1 44.1.1-39.1.1 39.7.1-25.7.1 22.1.1-29.7.1 33.1.1-17.9.1 11 .1-22.5.1 27.4.1-20.3.1 18.2.1-22.3.1 13.2.1-8.3.1 6.7.1-1.2.1 6.4.1-16.1.1 9.4.1-11.8.1 10.3.1-15.7.1 14.6.1-1.4.1-9.7.1 8 .1-12.2.1 20.4.1 3.5.1-18.9.1 4.3.1 11.6.1 5.8.1-4.4.1-6.5.1 2.5.1 9.4.1-2.3.1-15.2.1-6.2.1-4.3.1 25.9.1 3.9.1-18.6.1 10.4.1-12.1.1-1.5.1 15.5.1-2.6.1 17.7.1 0 .1-26.8.1-16.2.1 46.2.1-2.6.1-11.3.1-14.5.1 32.7.1-23.2.1-16.6.1 46.6.1-13.7.1-23.6.1-5.1.1 25.6.1-21.9.1-.7.1 31.5.1-16.9.1 6.8.1-3.3.1-6.8.1 18.7.1 11.3.1-6.5.1-.6.1-15.4.1-16 .1 21.1.1 3.1.1-2.6.1-18.5.1 13.4.1-2.4.1 10.9.1-9.3.1 5.5.1-23.4.1 16.9.1-17.9.1 11.9.1 3 .1 31.6.1-24 .1 11.7.1-31.1.1 10.6.1-.9.1 9.2.1-25 .1 55.8.1-45.5.1 18.7.1 10.6.1-4.9.1-11.6.1-6 .1-14.1.1 30.8.1 1.3.1-31.4.1-2.1.1 38.2.1-5.7.1-18.6.1 10.9.1-18 .1 26.2.1-2 .1-69.3.1 35.7.1-9.8.1 22.2.1 19.6.1-35.4.1-7.3.1 32.9.1 1.4.1-16.7.1 12.5.1 27.7.1-43.8.1-2.9.1 51.4.1-71.9.1 58.6.1-114.1.1 151 .1-25.9.1-65.5.1 78.5.1-90.3.1 82.4.1-55.8.1 50.4.1-42.8.1 26 .1-53 .1 56.5.1-36.4.1 14.5.1-8.5.1 14.5.1-27.9.1 23.2.1-22.2.1 26.5.1-3.1.1 34.4.1-23 .1-11.8.1 19.3.1 6.1.1-25.4.1 2.6.1 2.8.1-54.1.1 19.5.1 50.9.1-50.5.1 24.3.1 15.1.1-4.9.1-74.7.1 64.3.1 18 .1-16.6.1-20.9.1 14.3.1 8.2.1 17.1.1-6.1.1 16.7.1-32.3.1-11.1.1 1.3.1 12.2.1-32.5.1 21.6.1-4.1.1 39.2.1-16.2.1 2.1.1-35.7.1 28.4.1 1.1.1 1.8.1-41.2.1 49.1.1 5.3.1-23.3.1 7.5.1-34 .1 5.6.1 19.7.1 11 .1-4.1.1-30.9.1 22 .1-4.8.1 71.2.1-28.7.1-22.6.1-18.2.1-.1.1 13 .1 43.6.1-42.8.1 21.4.1 31.7.1-28.6.1-11 .1-13.5.1-74.8.1 151 .1-45.8.1-77 .1 64.9.1-36.7.1 48.9.1-44.5.1 25.1.1-37.2.1 56 .1-44 .1 33.5.1-33.2.1 46.9.1-37.2.1 2.9.1-9.5.1 8.6.1-4.8.1 21.9.1-17.8.1 18.6.1 9.3.1-42.6.1-5.1.1 45.8.1-56.5.1 22.3.1 44.7.1-46.9.1 14.1.1 7.6.1 33.9.1-42.4.1 25.1.1-52.8.1 58.7.1 9.3.1-39.9.1 33.1.1-53.9.1 48.6.1-32.9.1 34.5.1-9.5.1-13.2.1 16.8.1-27.5.1 27.3.1-41.3.1 10.4.1 48.5.1-69.7.1 32.4.1 22 .1-21.3.1 3.2.1-13 .1-.7.1-6.2.1 45.6.1-28.3.1 16.4.1 17.1.1-13.9.1 4.7.1-25.9.1 12.2.1-11.7.1 8 .1-65 .1 104 .1-12.2.1-58.8.1 50.5.1-54.8.1 59.9.1-46 .1 30.3.1-47.2.1 40.2.1-20.5.1 30.7.1-26.7.1 11 .1-21.4.1 23.6.1-24.2.1 15.7.1-15.7.1 18.6.1-3 .1 6.2.1-16.4.1 27.8.1-8.3.1 12.4.1-4.3.1 13.3.1-39.6.1 27.8.1-11.8.1-6.1.1 12 .1 11.6.1-7.2.1 6.6.1-17.2.1 10.5.1-25.2.1 21.2.1-12.7.1 20.6.1 11.9.1-20.5.1-18.4.1-.3.1-3.2.1 22.2.1-.9.1-6.8.1 6.1.1-12.1.1-4.1.1-1.6.1 23.2.1-30.5.1 44.7.1-21 .1 2.6.1-6.7.1 2.8.1-18.4.1 24.4.1-19.7.1 23.8.1-14.4.1-5.3.1-7.9.1 26.9.1 12.6.1-49.3.1 32.7.1-8.2.1-1.8.1-19.8.1 8.1.1-6.1.1-1.8.1 9.8.1 8.6.1-19.4.1 3.8.1 8.1.1 25.6.1-15.3.1-12.7.1 10.7.1-17.4.1-20.8.1 30.2.1-3.5.1-6.3.1-11.2.1 46.2.1-19.8.1-23 .1 17 .1 19.5.1-26.9.1 21.5.1-26.7.1-1.1.1 15.7.1 8.9.1-20 .1 9.9.1-1.1.1 3.3.1-1.5.1 5.4.1-21.5.1-3.9.1 23.1.1 4.8.1-24.1.1-6.5.1 8.4.1-7.2.1 3.9.1 8.2.1 3.8.1 5.7.1-8.1.1 19.5.1-38.1.1 30.3.1-16.4.1-1.2.1 5.2.1-.6.1 8.8.1-4.4.1-13.9.1.7.1 24 .1-14.9.1 20.2.1-19.9.1-1.7.1 17.1.1-33.3.1 33.7.1-30.9.1 34.8.1-28.5.1 32 .1-16.8.1 10 .1-19.3.1 13.9.1-7.1.1-5.2.1 15.3.1-4.6.1-10.1.1 15.1.1-16.3.1 27.2.1-47.1.1 11.8.1 32.4.1-8 .1-5.3.1-11.3.1-2 .1-3.9.1-1 .1 29.3.1-16.1.1 4.5.1-9.6.1 10 .1 21.3.1-16.6.1-38.5.1 32.4.1-15.3.1 16.8.1 3 .1-3.8.1 3.4.1-14.2.1 17.6.1 19 .1-36.6.1 4.7.1 12.9.1-3.5.1-12.3.1 5.3.1 18.7.1-32.2.1-16.5.1 35.1.1 14.2.1-28.8.1-4.7.1 32.1.1 8.8.1-2.2.1-12 .1 8.6.1-9 .1-.1.1 17.5.1-28.3.1-15.5.1 50 .1-26 .1 3.2.1 4.7.1-12.3.1 16.8.1-27.8.1 17.3.1 10.4.1-21.8.1 4.8.1-20.2.1 19.3.1 8.2.1-35.2.1 26 .1-2.3.1-17.2.1 31.4.1-7.1.1 10.6.1-42.9.1 44.5.1 4.2.1.5.1-47.3.1 11.8.1 28.7.1.7.1-49.9.1 48.2.1-10.9.1 12.5.1-52.9.1 53.2.1 12.1.1-26.8.1-1.6.1 10.2.1 7.3.1 19.2.1-15.7.1-47.5.1 60.9.1-50.5.1-17.5.1 16.6.1 17 .1-16.2.1.6.1 46.2.1-33.7.1 28.1.1 19.7.1-54.4.1 32.4.1-19 .1 28.8.1-41.8.1 8 .1 17.3.1 11.5.1-3.2.1-15.8.1 15.6.1 7.3.1-29.6.1 4.6.1-12.2.1 3.1.1 39.6.1-24.5.1 19.5.1 9.7.1-28.5.1 8.2.1-13.2.1 16.7.1-21.2.1 16.6.1-8 .1-15.5.1-13.7.1 42.1.1 32.9.1-8.6.1-55.8.1-93.6.1 158 .1 18 .1-113.6.1 80.3.1-79.6.1 58.9.1-47.7.1 49.2.1-45.2.1 69.4.1-62.2.1 48.7.1-38.5.1 24 .1-28.1.1 38.3.1-33.6.1 16.6.1-19.7.1 12.4.1-12.2.1 17.8.1 10.3.1 37.1.1-38.1.1 10 .1-49.1.1 46.5.1-18 .1-10.7.1 42.2.1.8.1-53.7.1 1.2.1 63.6.1-38.8.1-28.5.1 47.9.1-19 .1-1.3.1 10.2.1 3.7.1 48.5.1-34.5.1-17.7.1-12.7.1-36.1.1-15.9.1 24.5.1 27.1.1 29.6.1-20.9.1-29.6.1 28.1.1-9.4.1-23.9.1 51 .1-5.2.1-51.8.1 21.6.1-9.6.1 15.8.1 30.3.1-55.7.1 40.7.1-21.7.1-2.1.1 2.5.1 38.3.1-39.4.1 42.7.1-39.1.1 17.4.1-46.4.1 50.8.1-10.8.1.2.1 42.9.1-41.2.1-4.7.1 17.8.1-15.2.1-10.8.1-2.8.1-4.3.1-12.7.1-2.3.1 35.1.1-15.4.1 8.7.1 10.7.1.9.1 14.3.1-31.7.1-19.2.1 34.3.1 1.4.1 10.8.1 9.9.1-5.4.1-32.1.1 46.4.1-82.2.1 20 .1 19.1.1 16.4.1-38 .1 31.2.1-57.7.1-24.3.1 124 .1-15.4.1-69.5.1 64 .1-55.5.1 25.8.1-19.8.1 48.3.1-27.9.1 17.5.1-27.6.1 24.2.1-31.8.1 12.1.1 1.8.1 3.8.1-7.2.1 14.9.1-26.6.1 14.4.1-11.2.1 42.1.1-61.3.1 25.3.1 30.5.1-21 .1-4.1.1 6.1.1 14.1.1-58 .1 55.8.1-22.3.1 11.1.1-8 .1 48.4.1-93.2.1 12.9.1 39.9.1-30.7.1 27.2.1-18.8.1 23.4.1 37.4.1-24.6.1-.6.1 3.1.1 34.1.1-46 .1-20.8.1 5 .1 30.4.1-63.7.1 48.2.1-14.9.1 14.6.1 15.4.1-24.4.1 27.5.1 4.1.1 19.7.1-52.7.1-11.3.1 16.7.1 8.5.1-4.6.1-26.6.1 33.7.1-11.6.1-10.9.1 12.1.1-11.5.1-8.5.1 23.6.1-56 .1 65.6.1-17.5.1-6.5.1 7.3.1 27.2.1-29.4.1 24.6.1-20 .1-17.5.1-5.8.1 19.4.1 11.2.1-65.7.1 56.1.1-48 .1 64.3.1-25.4.1-33.6.1 60.9.1 7.6.1-53.7.1-15.3.1 18.7.1 9.1.1 23.8.1-21.9.1-12.8.1 30.7.1 30.3.1-67.2.1 55.7.1 4 .1-21.3.1-38.1.1 57.8.1-32.6.1-44.1.1 35.1.1 14.9.1 14.2.1 17.8.1-70.7.1 65.1.1-35.4.1-20.2.1 37.3.1-9.3.1-29.3.1-106.5.1 205 .1-5 .1-126.5.1 133.9.1-133.2.1 88.5.1-51.7.1 65.8.1-61.4.1 45.1.1-64.1.1 72.2.1-54.4.1 48.7.1-62.3.1 54.3.1-36 .1 40.4.1-47.4.1 21.7.1-12.4.1-4.9.1-4.4.1 43.8.1-39.4.1-20.1.1 11 .1 27.6.1 12.8.1-1.8.1-41.1.1 39.9.1-15.8.1-2.4.1 11.7.1 14 .1-29.4.1 26.3.1-7 .1-33.8.1 9.6.1 62.6.1-22.5.1-40.1.1 36.3.1-36.4.1-5.1.1.5.1-14.7.1 64.8.1-8.3.1-8.1.1-.2.1-29.5.1 10.2.1 27.2.1-7.6.1 16.1.1-17.5.1 20.4.1-66.1.1 22.1.1 24 .1-3.9.1-19 .1 16.5.1-25.5.1 22 .1-42.7.1 33 .1 35.3.1-1.7.1-9.6.1-45.3.1 41.2.1-24.4.1 46.2.1-38.4.1 31.4.1-11.8.1-9.1.1 26.6.1-71.8.1 66.5.1-12.1.1-41.9.1 14.4.1 63.6.1-53.9.1-12.4.1 39 .1-19.2.1 13.7.1 0 .1-46 .1 13.6.1 33.1.1 7.2.1-36.5.1 9.4.1 9.9.1-10.4.1 27.7.1-10.2.1-.4.1-35.4.1 22.2.1 17.3.1-4.8.1-32.2.1 12.5.1 15.4.1-3.2.1-19.2.1 17.9.1-1.1.1 7.3.1 29.7.1-51.6.1 12.7.1-16.8.1-38.3.1 57.8.1-15.7.1 15.7.1-100.2.1 175 .1-32.2.1-77.4.1 74.7.1-72.9.1 67.9.1-67.5.1 56.6.1-70.9.1 55.3.1-23 .1 29.3.1-37.7.1 23.2.1-6.9.1 24.9.1-38.8.1 29.6.1-14.8.1 5.5.1-15.1.1-11.1.1 13.9.1-21.7.1 35.6.1-4 .1-15.6.1 4 .1 28.1.1-10.9.1-20.3.1 6.8.1 12.3.1-6.3.1-2 .1.9.1-9.6.1-2.7.1 20.3.1-43.5.1 28.4.1 6.1.1-27.9.1 26.1.1 16.5.1 2 .1-9.9.1.7.1 15.3.1-18.2.1 6.5.1-28.6.1 11.4.1 17.3.1-24.5.1 16.3.1 23.9.1-25.7.1-18.8.1 18 .1 9.2.1-8.8.1 8.7.1-14.7.1 4.1.1 7.9.1-14.2.1-10.7.1 17.3.1-11.7.1 6 .1 12.7.1-2.7.1-17.3.1 13.5.1-6.8.1 30.9.1-28 .1 30.2.1-44.1.1 19.8.1-6.6.1 18.6.1-7 .1 12.1.1-1.5.1-13.5.1 6.5.1-.4.1-1.4.1-17.5.1 4.2.1-10 .1 24.1.1 3.9.1-71.7.1 120 .1-31.7.1-67.2.1 74.3.1-65.3.1 51.2.1-42.8.1 37.1.1-37.7.1 38.3.1-21.7.1 15.1.1-17.3.1 22.9.1-23.4.1 19 .1-18.5.1 9.1.1-4.6.1 4.2.1.2.1-14.3.1 20.2.1 8.7.1-3.3.1-4.2.1-6.8.1 2.3.1-14.1.1 14.6.1 1.3.1.5.1-9 .1 4.7.1-14.6.1 20.5.1-2 .1 1 .1 3.1.1-3.6.1 4.6.1 12.7.1-4.6.1-5.6.1 14.2.1-16.9.1-13.6.1 3.2.1 18.1.1-.9.1-9.2.1 2.4.1-12.8.1 4.2.1-1.2.1 4.9.1-11.1.1 6.7.1-22.5.1 17 .1 5.1.1 3.5.1 3.3.1 3.9.1-10.9.1-3.1.1-9.3.1 11.2.1-5.6.1 5.4.1 4.7.1-6.8.1-.4.1 7.4.1 0 .1-1.1.1 17 .1-20.9.1 15.3.1-32.9.1 21.5.1-3.9.1-.8.1 18.3.1-28.7.1 18.7.1-15.2.1-2.3.1 3.5.1 33.1.1-15.2.1-6.2.1 7 .1-10.7.1-14.2.1 2.7.1 14.3.1 5.9.1-16.5.1.1.1 8.7.1 5 .1-21.4.1-1.5.1 3.6.1 3.9.1 10.6.1-6.3.1 12 .1-23.6.1 23.3.1-2.9.1-4.4.1-1.2.1-14.7.1 5.6.1 14.2.1-10 .1.2.1-11 .1 28.1.1-9.8.1 4.3.1-11.2.1-6.5.1 10 .1-21.9.1 28.8.1-10.1.1 7.5.1 6.9.1-8.9.1-4.4.1 7 .1-.1.1-5.7.1 6.1.1-15.3.1 3.2.1 5.4.1-9.2.1 31.7.1-12.1.1-21.7.1 21.5.1-18 .1 5.2.1 3.5.1 3.2.1 10.2.1 3.7.1 2.5.1-21.8.1 5.1.1-3.4.1 15.3.1-12 .1-10.8.1 19.7.1-2.5.1-1.2.1-26 .1 10.2.1-8.9.1-7.6.1 31.8.1-6 .1 30.2.1-27.7.1 7.2.1-6.3.1-.7.1 26.5.1-28.7.1 9.1.1 9.8.1-7.7.1-16.6.1 17.5.1-24.9.1 10.6.1 6.5.1 11.5.1-.9.1-24.8.1 14 .1-3.2.1-.5.1-7.6.1 1.1.1 13.9.1-8.7.1 6.1.1-9.5.1 26.6.1-17.2.1-20.4.1 34.1.1-7.9.1-12.2.1 19.3.1-17.6.1-3.4.1-6.5.1 7.9.1-1.8.1 9.9.1-9.7.1-.3.1-3.1.1-4 .1-.3.1.7.1 6 .1 2.4.1 8.4.1-16.8.1-8.4.1 24.7.1-16.1.1 11 .1.8.1 12.3.1-10.9.1-12.9.1 2 .1-5 .1 22.4.1 22.8.1-43 .1 11.3.1-10.5.1-17.3.1 11.7.1 47.6.1-24 .1-2.2.1-28.6.1 35.3.1-6.1.1-21 .1 43.2.1-18.2.1 12.6.1-4.3.1-22.9.1 6.4.1 2.8.1-1 .1 5.7.1-5.4.1-8.4.1 19.1.1-13.6.1 8.9.1-20.6.1-4.2.1 8.2.1-5.3.1 21.7.1-2.2.1-7.7.1 7 .1-12.7.1 10.8.1 15.6.1-3.8.1-18.1.1-29.7.1 31.6.1 23 .1-24.9.1 12.8.1 8.6.1-54.3.1 3.1.1 33.1.1-.2.1 3.1.1-15 .1-.3.1-3.4.1 28.5.1-10.9.1-14.3.1 8.4.1 20.8.1-19.3.1-12.9.1 39.6.1-46.7.1 21.2.1-20.6.1 6.3.1 7.1.1 5.5.1.8.1 6.2.1-10.3.1-2.4.1 21.8.1-10.8.1 20.4.1-9.6.1-9.1.1-14.8.1 5.4.1-1.2.1 6.3.1 7.3.1-22 .1 1.4.1 20.5.1-9.6.1-7.5.1 15.6.1-3 .1-13.5.1 3.2.1-9 .1 13.2.1-10 .1 1.1.1-14.4.1 27.5.1-7.5.1 9.5.1-16.5.1-1.1.1-9.7.1 18.6.1-10.6.1 6 .1-14.7.1 16.2.1 2.2.1-10.4.1 9.1.1 5.8.1 10.4.1-22 .1-7.7.1 10.7.1-8.6.1 13.3.1-11.1.1-1.1.1 11.9.1 9.4.1-11 .1-2.8.1-6.8.1 25.2.1-32.6.1 8.3.1 7.9.1 7.6.1-4.1.1-10.2.1-.1.1.4.1 18.6.1-10.9.1-4.2.1 1.7.1 3.9.1-7.6.1-10.4.1 24.2.1-24.6.1 21.4.1-.1.1.6.1-17.7.1 3 .1-6 .1 18.5.1 4.1.1-33.2.1 15.8.1 30.9.1-14.5.1-11.2.1-14.5.1-4.4.1 30.9.1-18.2.1 9.4.1 1.2.1 1.4.1 8.9.1-3.2.1-5.8.1-8.8.1 20.6.1-31.4.1 20.5.1-13.1.1 20.3.1 2.8.1-26.5.1 6.5.1 29.8.1-28.7.1 25.3.1-24.6.1-3.9.1 9.5.1 4.2.1-1.7.1-1.4.1 9.8.1-15.8.1 13.2.1 14.7.1-26.4.1-19.5.1 9.4.1 16.3.1 7.6.1-3 .1-25.5.1 7.8.1 22.3.1-15.4.1-18.1.1 19.9.1-.9.1 9.7.1 16.2.1-37.8.1 3.1.1-1.5.1-8.6.1 20.1.1 4.7.1-13.4.1 25.6.1 11.4.1-25.4.1 4.1.1 3.7.1-16.1.1-10.7.1 22.1.1 22.5.1-5.2.1-13.5.1-12.1.1-3.8.1-9.2.1-27.4.1 52.6.1-36 .1 21 .1-6.7.1 8.6.1-26 .1 3.7.1-12.4.1-11.7.1 63.1.1-23.4.1-19.4.1-2.5.1 8.3.1-19.8.1 118 .1-49 .1-64.5.1 71.4.1-45.2.1 39.4.1-39.6.1 30.9.1-38.9.1 42.8.1-29.2.1 24.2.1-35.3.1 21.4.1-2.8.1 15.6.1-17.1.1 22.4.1-39.8.1 26.8.1-7.7.1-4.8.1 10.6.1-39.1.1 17 .1 18.4.1-7.6.1-15.7.1 2.4.1-12.2.1-9.1.1 40.2.1 11.3.1-11.1.1-13.4.1 17.2.1-20.7.1 35.6.1-26.8.1-8.2.1 27.5.1-36.7.1-20.3.1 109.9.1-52.5.1-13.6.1-22 .1 41.9.1-27.1.1-29.3.1 26.9.1 20.3.1 1.1.1-19.2.1-4.6.1 2.1.1 9 .1 52 .1-31.2.1-11.9.1-11 .1-8.5.1 28.1.1-31.4.1-20 .1 25.4.1-6.3.1 28.9.1 14.1.1-34.8.1 2.7.1-15.6.1 33.3.1 16.7.1 0 .1-29 .1 52.4.1-76.7.1 41 .1-9.4.1 6.6.1-42.6.1 67.5.1-47.2.1 7.2.1-17.4.1 7.6.1 44.2.1 13.3.1 12.5.1-41.8.1-17.9.1 7.6.1 12.8.1-20.3.1-76.1.1 138 .1-26.1.1-72.2.1 82.2.1-84.7.1 104.6.1-65.2.1 46.3.1-69.1.1 57.8.1-43.7.1 39.7.1-51.3.1 38 .1-11.7.1 17.8.1-17.8.1 24.8.1-34.7.1 29.4.1-10.7.1 4.1.1-45.9.1 36.1.1-37.6.1 24.6.1-23.7.1 23 .1 1.3.1 70 .1-31.2.1-.2.1-21.4.1-24.3.1 4.1.1 2.3.1 47.4.1-17.4.1-15.6.1-13.3.1 6.3.1 19 .1 9.8.1-44.5.1 35.1.1-15.1.1-3.5.1-8.3.1 20.8.1 7.2.1-17.6.1 11.2.1-17.7.1 27.5.1-19 .1 14 .1-56.4.1 64.2.1-21 .1-3.5.1 3.5.1 11 .1-5.4.1-12.3.1-25.9.1 2.6.1-7.9.1 34.6.1-10.8.1-17 .1 11 .1 4.6.1 1.7.1-10.7.1 19.8.1-12 .1 15.9.1-21.8.1 2.8.1 8.2.1 18 .1-16.2.1-23.1.1 29.3.1-11.4.1 27.5.1-62.2.1 100 .1-28.9.1-59.3.1 55.3.1-48.3.1 63.6.1-42.1.1 21 .1-36.9.1 26.2.1-11 .1 25.4.1-25.9.1 19.6.1-20.2.1 14.8.1-13 .1 10 .1-6.7.1 9.3.1-14.3.1 13.9.1-8.8.1 9.7.1-16.6.1 21 .1-2.6.1-17.3.1 29.1.1-41.6.1 12.9.1 8.5.1 1.8.1-9.2.1 1 .1 14.5.1-12 .1 10.2.1-3.8.1-5.3.1-1.2.1 3.6.1-2.4.1 2.9.1-1.3.1-19 .1 1.1.1 22.7.1 12.3.1-29.8.1-10.6.1 20 .1-6.3.1 3.1.1-3.4.1 7.8.1-5.1.1 1.8.1 0 .1-4.6.1 14.5.1-24.1.1 9.3.1-1.3.1 8.3.1 12.2.1-18.3.1 3.2.1 18.2.1-34 .1-3.5.1 16.9.1-7.4.1-9.6.1 8 .1 32.6.1-38.4.1 28.9.1-13 .1-19 .1 22.4.1 6.6.1-12.9.1 1.8.1 17.4.1-33.6.1 14.3.1 1.4.1-1.9.1-.2.1-11.3.1 14.8.1 4.1.1-9.9.1 2 .1-3.5.1 15 .1-12.4.1-.7.1 15.5.1-14.4.1 5.6.1-13.4.1-2.1.1 13.2.1 14.2.1-10 .1 8.4.1-.3.1-19.5.1 7 .1 8.7.1 7.7.1-11.9.1-10.8.1 7.6.1 3.8.1.1.1-10.6.1 5 .1 6.9.1 22.6.1-27.3.1 5.2.1 2.5.1-11.5.1 19.4.1-10.8.1 1.9.1 16.1.1-12.4.1-3.2.1-9.7.1 5.7.1 5.8.1-7.9.1 29.5.1-17.2.1 3.8.1-13.4.1-12.8.1 10.6.1-2.7.1 1.6.1-8.5.1 28.9.1-17 .1 14.1.1-3.9.1-13 .1-1.5.1 10.1.1-13.2.1 11.9.1 1 .1-1.8.1-.6.1-12.1.1.7.1 15.9.1-2.5.1 3.1.1-11.7.1 1.9.1-1.9.1 17.7.1-16 .1 9.8.1 4.7.1-12.6.1 3.9.1-9.8.1-.1.1 5.4.1-6.8.1 2.3.1 3.9.1 8.4.1-21.5.1.3.1-1.8.1 23.7.1-.3.1-14.6.1-8.3.1 9.7.1-13.6.1 25.6.1-19.6.1 30.2.1-13.9.1 2.9.1-21.1.1 14.8.1-7.8.1-11.2.1 18.5.1-19.7.1 23.6.1-29.1.1 29.2.1 2.6.1-20.9.1-12.8.1 41.3.1-36.5.1-2.6.1 10.7.1 23.2.1-4.8.1-20.1.1 36.4.1-44.8.1-9 .1 42.1.1-1.9.1-25.6.1 19.6.1-19 .1 15.9.1 1 .1-5.2.1-11 .1 1 .1 9.7.1-20.5.1-2 .1 11 .1 32.1.1-10.4.1-6.2.1-10.3.1-11.6.1 29 .1-27.4.1 37 .1-22.4.1 11.8.1-2.3.1-22.4.1 25 .1-6.8.1-24.9.1 23 .1 25.9.1-4.3.1-8.8.1-11.1.1-.3.1 31.9.1-8.7.1 2.9.1-20 .1-6.2.1 9.8.1-11.3.1 11.5.1-4.2.1-22.5.1 11.3.1 22 .1-3.2.1-24.5.1 19.7.1 11.1.1-19 .1 29 .1-25.1.1 12.3.1-14.3.1-32.2.1-64.4.1 151 .1 46.4.1-162.6.1 130.1.1-80 .1 61.3.1-90.3.1 77.7.1-62.5.1 56.4.1-50.8.1 31.6.1-27.5.1 45.8.1-38.6.1 30.3.1-20.3.1 17.7.1-20.6.1 25.3.1-24.1.1 40.7.1-7.6.1-18.4.1 19.4.1-17.4.1-29.8.1 18.8.1-18.4.1 39.8.1-30.2.1 20.4.1-23 .1 36.9.1-23.9.1-16.3.1 15.4.1-1.4.1 11.7.1 42.2.1-30.1.1-1.6.1-33.3.1 16.4.1 23.4.1-39.1.1 11.1.1 42 .1-59.9.1 19.1.1-49.5.1 36.5.1 55.2.1-56.4.1 19.8.1 13.4.1-14.6.1-6.7.1 21.7.1 12.7.1-32.9.1 5.8.1 33.7.1-53.4.1 34.4.1-46.7.1 9.1.1 35.7.1-20.8.1 40.6.1-26.5.1 45.9.1-16.6.1-23.3.1-15.1.1-5.5.1-6.4.1 2.9.1 33.6.1-8.3.1 12.3.1-15.2.1 41.6.1-22.2.1-51.1.1 28.6.1 19.5.1-31.5.1 9.3.1 7.6.1 7.4.1 15.1.1-23.2.1-3.5.1 2 .1-34.7.1 34.6.1-76.1.1 141 .1-37.4.1-68.4.1 64.1.1-47.1.1 44.2.1-59.4.1 50.8.1-38.1.1 56.4.1-54.9.1 29.9.1-31.2.1 23.5.1-25.7.1 28.6.1-17.1.1 13.1.1-11.6.1 20.5.1-18.5.1 29.9.1 20.5.1 10.9.1-34.1.1-8.1.1-52.3.1 61.3.1 2.4.1-16 .1-22.5.1 52.2.1-25.3.1-38.8.1-9.5.1 60.9.1 24.2.1-40 .1 2 .1-33.3.1 4.7.1 21.2.1 23 .1-30.4.1 30.4.1 2.1.1-23.1.1-52.5.1 4.7.1 8.2.1 79.4.1-58 .1 35.8.1-32.7.1-10.7.1 4.6.1 35.3.1 8.9.1-45 .1-14.5.1 52.3.1 2.9.1-19.6.1 11.2.1-40.3.1-2.5.1 5.8.1 37.6.1 7 .1-14.8.1-12.1.1-19.3.1 11.1.1 20.1.1-24.5.1-5.9.1 24.1.1 22.4.1-38.4.1-13.1.1 7.1.1 45.5.1-38.7.1 8.7.1 8.7.1-2.2.1 10.4.1 3.4.1-25.7.1 8.3.1-3.3.1 33.8.1-36.4.1-35.8.1 70.1.1-30.5.1 2.8.1-7.5.1-11.8.1 35.1.1-38.9.1 5.8.1 25.4.1-24.5.1-15.3.1-5.6.1 42.9.1-27.4.1 22.2.1 20.3.1-83.5.1 35.1.1 7.1.1 27.6.1-12.9.1 17.6.1-61.8.1 64.6.1-15.7.1-21.7.1 26.5.1-27.3.1 17.2.1 9.1.1-1.9.1 52.4.1-76.6.1-108.2.1 190 .1-4.8.1-97.9.1 87.3.1-109.3.1 101.5.1-62.2.1 67.5.1-101.4.1 92.9.1-56.1.1 46.7.1-64.3.1 60.5.1-38.5.1 13.6.1-15.5.1 40.6.1-15.6.1-11.3.1 4.5.1 41.6.1-22.6.1-5.1.1-24.2.1 32.3.1 5.2.1-44 .1 45.4.1-93.2.1 103.8.1-37.2.1-27.8.1 28.5.1 41.2.1-40.1.1-28 .1 45 .1 22.1.1-39.4.1 51.7.1-65.2.1-6.5.1 14.5.1 31.9.1-55.7.1-6.9.1 4.6.1 38.5.1-22.6.1 29.4.1-47.2.1 40.4.1 18.9.1-24.5.1-18.9.1 15.7.1 1.5.1 19.2.1-25.6.1 4.1.1-4 .1 5.4.1-2.1.1 17.8.1-63.2.1 81.9.1-44.3.1-22.3.1 68.5.1-1.5.1-57 .1-43.5.1 35.1.1 34.3.1 3.4.1.8.1 16.1.1-15.1.1-35.5.1 27.9.1-16.1.1-10.2.1 33.7.1-6.7.1-12.9.1 22.4.1-20.6.1-12.4.1 13.6.1 37.9.1-43.5.1 10.5.1-3.8.1 25.2.1-27.3.1 3.8.1 10.2.1 4.2.1-13.3.1 37.9.1-46.7.1 16.3.1-33.2.1 61.9.1-29.2.1-16.6.1.8.1 14.8.1-29.5.1 30.4.1-20.6.1 11.9.1 4.5.1 10.8.1-1.7.1-2.6.1-18.1.1-64.5.1 142 .1-33.1.1-66.9.1 53.7.1-47.7.1 46.2.1-41 .1 36.2.1-39.9.1 36.8.1-34.8.1 31.7.1-20.4.1 10.4.1-7.3.1 33.6.1-41.2.1 23.5.1-16.4.1 12.6.1 4.4.1 28.6.1-30.9.1 22.5.1-36.4.1 2.3.1 18 .1-23.4.1 52 .1-34.1.1-17.8.1-8.5.1 15.1.1-16.8.1 20.1.1 10.2.1-8 .1-37.9.1 5 .1 32.4.1-1.9.1 0 .1 35.3.1-16.7.1-11.5.1 16.3.1-9.5.1 17.5.1-19.1.1-18.4.1 16 .1-12.8.1 16.8.1 10.6.1-15.6.1 32 .1-17.2.1-7 .1 3.8.1-15.6.1 18.8.1-27.8.1 1.5.1 11.3.1 12.5.1 7.5.1-28.5.1 14 .1-47.5.1 29.2.1-8.9.1 36.3.1-13.5.1 6.3.1 29.5.1-41.3.1 9.8.1-2.2.1-10.7.1-9.9.1 6.2.1-17.6.1-30.8.1 110 .1-15.2.1-55.7.1 29.9.1-51.6.1 44.9.1-22 .1 25.7.1-40.6.1 33.9.1-20.3.1 20.2.1-18.4.1 20.4.1-16.7.1 13.8.1-15.3.1 13.4.1-4.4.1 11.2.1-17.8.1 12.7.1-20.9.1 11 .1-3.3.1 4.2.1-34.9.1 21.1.1 5.7.1-2.1.1 40.4.1-20.1.1-27.4.1-1 .1 26.6.1 17 .1-10.1.1-23.5.1 9.2.1-16.4.1 16.9.1-6.4.1-3.1.1 8.1.1 4.1.1 2.2.1-5.2.1-2.8.1-11.6.1 11.4.1 7.6.1 6.5.1-3.7.1-14 .1 3.5.1-14.5.1 17.6.1 3.4.1-21.3.1 5 .1-2.3.1 28.4.1-13.5.1-3.3.1.5.1 29.3.1-27.3.1.9.1-12.6.1 15.1.1-3.2.1 2.8.1 10.3.1-19.2.1-13.8.1 31.6.1-27.3.1-1.7.1 33.7.1-.9.1-5.3.1 1.7.1-2.5.1 3.5.1-7.3.1-8.5.1-3.6.1 10.6.1 8.3.1-16 .1-.7.1 14.6.1-12.3.1 15.7.1-4.1.1-8.3.1 3.6.1-13.7.1 12.9.1-4 .1-8.9.1 26.9.1-21.9.1-5.1.1 13.7.1-12.9.1 21.8.1-2.2.1 4.6.1-28.7.1 24.1.1-13.4.1 21.4.1-25.1.1 22.2.1-6 .1 17.8.1-12.2.1-21.3.1 22.5.1-28.2.1-5.6.1 22.7.1 11.3.1-9.3.1-5.6.1 21.5.1-12.8.1-7.4.1-2.3.1 21.6.1-16.8.1-1.3.1-9 .1 7.6.1-6.8.1 4.8.1 13 .1-32.5.1 19.2.1 3.9.1 6 .1-17.3.1 13.5.1-4.2.1 3.4.1 3.3.1 13 .1-8.7.1-20.3.1 13.4.1 8.3.1 2.1.1-.3.1-3.6.1-2.1.1-13.9.1 9.6.1-11.4.1 29.1.1-12.7.1 14.9.1 2.2.1-20.3.1 17.1.1-15.7.1 8 .1-17.2.1-.4.1 23.3.1-19.6.1 6.4.1-4.5.1 8.6.1-14.6.1 1.9.1 8.4.1 12.6.1 6.4.1-27.9.1 6.4.1 13.1.1-4.1.1-29.3.1 30 .1-12 .1-8 .1-8.6.1 16 .1-1.6.1 13.2.1-13.5.1 3.8.1 8.1.1.2.1-19.6.1 1.3.1-13.1.1 23.7.1 13.1.1-32.7.1 10.9.1-8.9.1 18.7.1-2.7.1-15.4.1 17.8.1-6.1.1-.7.1-7.5.1-1.5.1 13.9.1-13.7.1 8.7.1-1.3.1-2.3.1-6.5.1 7.7.1-4.8.1 9.3.1 4.8.1-2.7.1-10.9.1 1 .1-.9.1 11.2.1-4.6.1-6.5.1-5.4.1 1.2.1 6.1.1 2.7.1 5.8.1-7.7.1-13 .1 10.2.1 2.3.1-6.5.1-18.9.1 24 .1 3.7.1 5.3.1 2.2.1-18.6.1.4.1 7 .1-7.9.1-1.6.1 10.1.1-8 .1-4.6.1 17.5.1-10.3.1-1.9.1 14.1.1-32.1.1 10.1.1-6.5.1 25.3.1-10.7.1-9.4.1 12.5.1-19.7.1 24.1.1-8.2.1 2.5.1 9.8.1-10.9.1-1.8.1 8.1.1-4.5.1-11.1.1.7.1 3 .1-2 .1-4.5.1 11.3.1 4.1.1-6.3.1-.4.1 6.3.1-6.9.1-.5.1-5.8.1 15.6.1-17 .1 11.2.1 9.6.1-19.5.1 4.5.1 3.2.1 10.1.1-15.7.1 15 .1.5.1-7.9.1-8.1.1 7.5.1-.6.1 8.5.1-14.8.1 10.6.1-7.8.1-18 .1 21.5.1 10.5.1 3.5.1-3.6.1.5.1-10.5.1-8.8.1 11.3.1 2.9.1-7.7.1 12.8.1-5 .1-9.7.1-2.4.1 13.9.1.3.1 1.3.1-6.7.1-10.7.1 13.2.1 11.3.1-19.9.1.1.1-.4.1 3.1.1 11.3.1 6.5.1-14.5.1 8.1.1-3.5.1-11 .1 29.9.1-.5.1-2 .1-7 .1-5.4.1-3.9.1 11.4.1-19.2.1 14.8.1-10.3.1-8.8.1 5.4.1 14.9.1-2.2.1-5.7.1-3.2.1 21.3.1-.3.1-5.2.1-17.7.1 9.6.1 3.7.1 14.9.1-.1.1-19.2.1 16.4.1-22.9.1 21.1.1-11.7.1-6.4.1 2.2.1 7.1.1-26 .1 27 .1-6.1.1 9.4.1-16.6.1-2.4.1.3.1 11.4.1-8.4.1 25.3.1-8 .1-13.6.1 37.8.1-7.7.1-30.7.1 6.9.1 6.2.1-.9.1-23.6.1 14.2.1 11.5.1 15.8.1-22.9.1 18.2.1-13.8.1 8.2.1-30.2.1 29.3.1-10.4.1-22.2.1 55.6.1-26.4.1-60.4.1 106 .1-21.3.1-60.4.1 43 .1-37 .1 38.1.1-36.6.1 35 .1-40.3.1 20.9.1-10.8.1 29.3.1-35.4.1 26.5.1-15.5.1 10.4.1-16.8.1 10.8.1 0 .1 1.7.1-4.3.1-5.5.1-8 .1 22.4.1-2.4.1-40.1.1 52.4.1-29.8.1-16 .1-3.6.1 33.3.1 16.8.1-43.1.1 33.6.1-11.3.1 15.2.1 14.1.1-16.4.1-7.3.1 32.2.1-68 .1 35.8.1-41 .1 10.3.1 37.5.1-11.7.1 9.4.1-9.5.1-2.6.1-6.6.1-1 .1 6.1.1 18 .1 22 .1-41.1.1 10 .1-20.3.1 30.3.1-20.6.1 29.3.1-32.2.1 15.9.1-16.6.1-53 .1 43.5.1 22.7.1-9.6.1 6.4.1 1.9.1-2.5.1 1.5.1.6.1-25.3.1.7.1-19.3.1 32.2.1 1.2.1-49.9.1 98.8.1-42.2.1-6.9.1-3.8.1 33.6.1-6.2.1 28.3.1-23.9.1-107 .1 162 .1-37.9.1-52 .1 55.3.1-82.2.1 102.4.1-102.3.1 87.5.1-43.8.1 34.5.1-54.8.1 55.1.1-37.5.1 21.2.1-27.4.1 18.6.1-17.7.1 11.3.1-6.1.1 22.3.1-20.6.1 22.3.1 1.3.1 4.4.1 10.5.1-2.2.1 17.4.1-52.2.1 7.3.1 63.4.1-41.9.1-13.1.1 29.6.1-39.1.1 27.9.1-16.5.1 27.2.1-31.3.1 1.4.1-58.9.1 20.2.1 38.9.1 3.2.1-.3.1-5 .1 66.6.1-58.1.1-18.2.1 16.4.1 33.6.1 8.9.1 7.9.1-93.4.1 24.2.1-16.4.1 44.4.1 11.7.1 22.1.1-52.1.1 47.9.1-16.9.1-52.7.1-8.3.1 45.8.1-29.9.1 18.9.1-9 .1 46.5.1-41.8.1.9.1-4.1.1.1.1 6.5.1-11.2.1 33.2.1-28.7.1 31.4.1-25.7.1 13.6.1 6.4.1-3.5.1-.7.1-33.8.1 36.9.1-26.9.1-3.9.1-40.4.1 29.3.1 45.3.1 5.7.1-30.3.1-9.6.1-75 .1 133 .1 19.3.1-110.7.1 85.2.1-75.3.1 55.1.1-41 .1 24.2.1-33.2.1 48.8.1-48.3.1 43.4.1-28.7.1 12.4.1-5.7.1 8.4.1-11.7.1 20.2.1-30.1.1 19.3.1-5.8.1 0 .1-10.6.1 14.2.1-5.6.1-16.8.1 29.3.1-8.2.1-35.4.1 40.5.1 7.1.1-15 .1-17 .1 33 .1-10.7.1 6.7.1-43.6.1 9.3.1 16.1.1-14.6.1 44.7.1-11.2.1-18.8.1-18.2.1 48.2.1-31.4.1 10.3.1-.3.1-7.1.1 19.7.1-41.9.1 32.4.1-15.1.1 23.2.1-6.9.1 16.3.1-50.8.1-18.4.1 39.4.1-4.7.1-25.2.1 39.8.1-13.9.1 14.1.1-22.8.1 5.6.1-9.5.1.8.1 29.3.1-66.1.1 112 .1-38.2.1-33.9.1 52.9.1-52.6.1 45.4.1-51.2.1 36 .1-20.5.1 23.2.1-39.1.1 39.1.1-36.8.1 23.2.1-6.8.1 16.4.1-16.9.1 8.3.1-13.9.1 17.9.1-5.6.1-11.1.1-13.9.1 10.2.1 4.6.1 18.5.1-25.3.1 10.6.1-3.9.1-.9.1 6.4.1 5.3.1-11.2.1-4.5.1-12 .1 21 .1 8" stroke="#0000ff" stroke-width="0.95" fill="none" stroke-linejoin="bevel"/>
<rect x="76.3" y="7" width="686.7" height="324.4" fill="none" stroke="#888888" stroke-width="1"/>
<path d="M76.3 331.4v-7M76.3 7v7M213.6 331.4v-7M213.6 7v7M351 331.4v-7M351 7v7M488.3 331.4v-7M488.3 7v7M625.7 331.4v-7M625.7 7v7M763 331.4v-7M763 7v7M76.3 331.4h7M763 331.4h-7M76.3 169.2h7M763 169.2h-7M76.3 7h7M763 7h-7" stroke="#888888" stroke-width="1" fill="none"/>
<text x="76.3" y="355.6" font-size="20.5" text-anchor="middle">0</text>
<text x="213.6" y="355.6" font-size="20.5" text-anchor="middle">0.2</text>
<text x="351" y="355.6" font-size="20.5" text-anchor="middle">0.4</text>
<text x="488.3" y="355.6" font-size="20.5" text-anchor="middle">0.6</text>
<text x="625.7" y="355.6" font-size="20.5" text-anchor="middle">0.8</text>
<text x="763" y="355.6" font-size="20.5" text-anchor="middle">1</text>
<text x="69" y="338.6" font-size="20.5" text-anchor="end">-0.1</text>
<text x="69" y="176.4" font-size="20.5" text-anchor="end">0</text>
<text x="69" y="14.2" font-size="20.5" text-anchor="end">0.1</text>
<text x="419.6" y="382.5" font-size="24" text-anchor="middle">Time(s)</text>
<text transform="translate(29 169.6) rotate(-90)" font-size="23.5" text-anchor="middle">Amplitude(m/s<tspan font-size="17.9" dy="-11.3">2</tspan><tspan dy="11.3">)</tspan></text>
<svg x="877.5" y="7" width="669.0" height="318.1" viewBox="877.5 7 669.0 318.1" overflow="hidden"><polyline points="877.5,217.5 878.2,320.3 878.8,296.3 879.5,267.1 880.2,302.1 880.8,217.5 881.5,305.2 882.2,323.4 882.9,315.6 883.5,265.6 884.2,115.0 884.9,312.5 885.5,277.0 886.2,247.0 886.9,314.8 887.5,245.0 888.2,306.4 888.9,279.1 889.5,252.7 890.2,321.5 890.9,250.3 891.5,160.2 892.2,250.3 892.9,224.7 893.6,289.0 894.2,169.8 894.9,316.4 895.6,263.4 896.2,311.9 896.9,281.8 897.6,294.6 898.2,258.5 898.9,294.6 899.6,317.6 900.2,264.7 900.9,192.0 901.6,264.7 902.3,295.3 902.9,296.8 903.6,177.5 904.3,317.0 904.9,295.2 905.6,304.4 906.3,288.9 906.9,291.9 907.6,247.0 908.3,292.6 908.9,296.8 909.6,310.2 910.3,305.6 911.0,264.3 911.6,177.5 912.3,293.7 913.0,315.2 913.6,273.6 914.3,195.3 915.0,323.7 915.6,267.4 916.3,291.0 917.0,83.9 917.6,265.4 918.3,303.5 919.0,278.2 919.6,309.8 920.3,286.3 921.0,240.0 921.7,310.1 922.3,288.3 923.0,290.8 923.7,290.8 924.3,250.0 925.0,290.8 925.7,322.6 926.3,291.3 927.0,297.1 927.7,213.0 928.3,279.4 929.0,296.8 929.7,263.9 930.4,307.7 931.0,228.0 931.7,300.2 932.4,313.0 933.0,310.7 933.7,288.5 934.4,245.0 935.0,310.2 935.7,297.6 936.4,311.2 937.0,287.1 937.7,33.3 938.4,267.7 939.0,273.7 939.7,271.4 940.4,319.0 941.1,292.8 941.7,216.4 942.4,308.5 943.1,304.4 943.7,302.3 944.4,295.6 945.1,244.0 945.7,297.9 946.4,323.0 947.1,307.4 947.7,317.6 948.4,262.0 949.1,296.2 949.8,317.8 950.4,281.7 951.1,300.2 951.8,250.0 952.4,299.5 953.1,300.7 953.8,292.7 954.4,238.0 955.1,300.3 955.8,303.2 956.4,288.0 957.1,302.0 957.8,312.9 958.4,255.0 959.1,293.0 959.8,286.1 960.5,274.0 961.1,295.8 961.8,296.2 962.5,262.0 963.1,300.4 963.8,297.1 964.5,290.8 965.1,250.0 965.8,290.8 966.5,322.9 967.1,236.8 967.8,318.8 968.5,208.6 969.2,296.5 969.8,311.8 970.5,299.1 971.2,290.5 971.8,310.0 972.5,289.5 973.2,310.9 973.8,305.6 974.5,302.4 975.2,310.3 975.8,299.6 976.5,302.3 977.2,309.0 977.9,312.1 978.5,321.3 979.2,302.9 979.9,321.6 980.5,296.4 981.2,314.9 981.9,303.5 982.5,302.2 983.2,313.2 983.9,307.8 984.5,317.3 985.2,301.5 985.9,308.8 986.5,310.2 987.2,313.0 987.9,309.3 988.6,307.0 989.2,318.3 989.9,318.6 990.6,319.9 991.2,305.8 991.9,315.2 992.6,313.1 993.2,312.9 993.9,315.0 994.6,304.5 995.2,318.7 995.9,303.3 996.6,305.9 997.3,310.8 997.9,320.2 998.6,315.6 999.3,313.4 999.9,316.5 1000.6,287.8 1001.3,309.0 1001.9,309.2 1002.6,317.8 1003.3,301.7 1003.9,308.2 1004.6,318.6 1005.3,296.1 1005.9,310.0 1006.6,301.5 1007.3,320.7 1008.0,315.9 1008.6,305.5 1009.3,316.5 1010.0,303.8 1010.6,302.0 1011.3,297.0 1012.0,292.9 1012.6,304.5 1013.3,311.2 1014.0,311.3 1014.6,309.9 1015.3,303.8 1016.0,318.7 1016.7,311.4 1017.3,304.3 1018.0,295.3 1018.7,309.7 1019.3,306.1 1020.0,314.3 1020.7,286.8 1021.3,321.2 1022.0,316.2 1022.7,307.3 1023.3,312.9 1024.0,307.5 1024.7,316.5 1025.3,310.4 1026.0,307.4 1026.7,316.1 1027.4,321.1 1028.0,298.5 1028.7,307.6 1029.4,308.6 1030.0,295.4 1030.7,310.9 1031.4,311.9 1032.0,301.9 1032.7,288.1 1033.4,295.8 1034.0,319.2 1034.7,313.6 1035.4,293.1 1036.1,319.5 1036.7,309.7 1037.4,317.9 1038.1,304.6 1038.7,297.2 1039.4,315.6 1040.1,314.5 1040.7,317.3 1041.4,294.2 1042.1,291.1 1042.7,305.3 1043.4,317.8 1044.1,311.2 1044.8,312.4 1045.4,319.6 1046.1,289.6 1046.8,317.4 1047.4,307.3 1048.1,309.4 1048.8,303.7 1049.4,294.3 1050.1,313.3 1050.8,318.9 1051.4,304.4 1052.1,299.0 1052.8,313.5 1053.4,312.1 1054.1,305.7 1054.8,305.1 1055.5,305.9 1056.1,318.9 1056.8,307.2 1057.5,309.9 1058.1,318.0 1058.8,260.8 1059.5,307.4 1060.1,317.5 1060.8,301.2 1061.5,310.1 1062.1,319.2 1062.8,319.0 1063.5,318.0 1064.2,310.1 1064.8,301.3 1065.5,315.7 1066.2,296.4 1066.8,319.6 1067.5,310.1 1068.2,297.4 1068.8,314.9 1069.5,311.2 1070.2,318.1 1070.8,294.8 1071.5,308.4 1072.2,305.9 1072.8,307.0 1073.5,316.5 1074.2,307.0 1074.9,319.5 1075.5,314.7 1076.2,314.9 1076.9,314.8 1077.5,320.4 1078.2,306.4 1078.9,313.7 1079.5,320.2 1080.2,320.2 1080.9,314.0 1081.5,323.0 1082.2,316.1 1082.9,313.0 1083.6,321.3 1084.2,310.6 1084.9,319.8 1085.6,310.1 1086.2,313.7 1086.9,302.1 1087.6,319.2 1088.2,301.0 1088.9,295.8 1089.6,309.3 1090.2,311.4 1090.9,318.9 1091.6,310.4 1092.2,316.3 1092.9,311.3 1093.6,317.5 1094.3,311.4 1094.9,314.1 1095.6,298.1 1096.3,318.3 1096.9,297.9 1097.6,311.1 1098.3,319.7 1098.9,311.5 1099.6,311.3 1100.3,303.9 1100.9,300.2 1101.6,315.3 1102.3,309.9 1103.0,305.0 1103.6,306.9 1104.3,319.6 1105.0,296.6 1105.6,314.8 1106.3,316.5 1107.0,318.0 1107.6,301.2 1108.3,292.2 1109.0,307.6 1109.6,308.7 1110.3,314.4 1111.0,314.0 1111.7,318.9 1112.3,309.7 1113.0,312.5 1113.7,313.1 1114.3,311.0 1115.0,304.8 1115.7,301.4 1116.3,310.3 1117.0,279.0 1117.7,304.8 1118.3,312.9 1119.0,312.6 1119.7,315.2 1120.3,310.4 1121.0,310.3 1121.7,294.1 1122.4,308.6 1123.0,308.8 1123.7,317.2 1124.4,308.2 1125.0,294.3 1125.7,309.5 1126.4,314.6 1127.0,318.8 1127.7,305.4 1128.4,317.6 1129.0,303.0 1129.7,308.5 1130.4,304.0 1131.1,300.5 1131.7,313.8 1132.4,298.1 1133.1,306.2 1133.7,311.1 1134.4,310.0 1135.1,313.5 1135.7,317.1 1136.4,316.4 1137.1,313.5 1137.7,321.2 1138.4,306.2 1139.1,320.7 1139.7,313.5 1140.4,319.6 1141.1,309.6 1141.8,323.0 1142.4,310.0 1143.1,300.2 1143.8,309.1 1144.4,307.9 1145.1,304.8 1145.8,316.9 1146.4,323.0 1147.1,313.2 1147.8,311.2 1148.4,316.7 1149.1,294.4 1149.8,307.8 1150.5,292.9 1151.1,310.9 1151.8,316.5 1152.5,310.7 1153.1,320.0 1153.8,310.4 1154.5,298.6 1155.1,301.3 1155.8,301.8 1156.5,309.4 1157.1,311.8 1157.8,312.5 1158.5,298.3 1159.1,296.8 1159.8,317.1 1160.5,319.2 1161.2,311.4 1161.8,304.8 1162.5,298.2 1163.2,320.8 1163.8,309.2 1164.5,308.0 1165.2,300.9 1165.8,299.2 1166.5,311.3 1167.2,307.5 1167.8,320.4 1168.5,318.9 1169.2,305.3 1169.9,314.0 1170.5,306.5 1171.2,320.5 1171.9,297.7 1172.5,316.0 1173.2,304.4 1173.9,308.5 1174.5,304.0 1175.2,307.1 1175.9,309.0 1176.5,309.9 1177.2,314.0 1177.9,315.1 1178.5,304.8 1179.2,255.9 1179.9,305.5 1180.6,311.7 1181.2,304.3 1181.9,317.4 1182.6,299.9 1183.2,317.5 1183.9,308.4 1184.6,318.5 1185.2,315.8 1185.9,312.1 1186.6,310.5 1187.2,312.2 1187.9,302.9 1188.6,317.0 1189.3,304.1 1189.9,299.9 1190.6,308.9 1191.3,317.8 1191.9,302.7 1192.6,292.7 1193.3,301.1 1193.9,307.3 1194.6,304.7 1195.3,313.9 1195.9,311.0 1196.6,309.5 1197.3,316.6 1198.0,307.2 1198.6,322.0 1199.3,307.7 1200.0,309.2 1200.6,306.8 1201.3,305.3 1202.0,307.9 1202.6,321.8 1203.3,311.4 1204.0,310.4 1204.6,309.0 1205.3,306.4 1206.0,318.1 1206.6,308.6 1207.3,310.9 1208.0,297.4 1208.7,322.2 1209.3,316.5 1210.0,318.5 1210.7,312.5 1211.3,313.7 1212.0,307.8 1212.7,319.0 1213.3,307.9 1214.0,321.0 1214.7,301.0 1215.3,308.5 1216.0,316.6 1216.7,311.0 1217.4,301.7 1218.0,315.8 1218.7,313.0 1219.4,303.4 1220.0,310.8 1220.7,311.3 1221.4,313.5 1222.0,302.0 1222.7,290.2 1223.4,292.7 1224.0,314.1 1224.7,307.7 1225.4,312.0 1226.0,305.4 1226.7,312.9 1227.4,292.8 1228.1,304.9 1228.7,309.8 1229.4,313.0 1230.1,310.7 1230.7,319.0 1231.4,317.2 1232.1,316.9 1232.7,301.5 1233.4,313.2 1234.1,305.8 1234.7,312.2 1235.4,311.8 1236.1,322.5 1236.8,311.1 1237.4,303.8 1238.1,315.9 1238.8,316.0 1239.4,267.8 1240.1,303.2 1240.8,316.1 1241.4,315.8 1242.1,314.1 1242.8,320.1 1243.4,300.5 1244.1,322.2 1244.8,303.4 1245.5,311.7 1246.1,314.8 1246.8,313.3 1247.5,312.6 1248.1,312.7 1248.8,307.8 1249.5,286.2 1250.1,319.1 1250.8,311.2 1251.5,299.0 1252.1,305.2 1252.8,314.4 1253.5,310.1 1254.1,298.9 1254.8,316.9 1255.5,309.7 1256.2,309.0 1256.8,317.7 1257.5,297.1 1258.2,309.8 1258.8,303.7 1259.5,307.5 1260.2,297.9 1260.8,312.0 1261.5,318.2 1262.2,302.6 1262.8,310.4 1263.5,302.6 1264.2,302.6 1264.9,316.2 1265.5,300.3 1266.2,308.3 1266.9,312.9 1267.5,314.8 1268.2,298.5 1268.9,301.2 1269.5,311.4 1270.2,320.0 1270.9,297.9 1271.5,322.8 1272.2,323.3 1272.9,322.7 1273.5,318.7 1274.2,300.9 1274.9,313.0 1275.6,319.0 1276.2,319.1 1276.9,297.3 1277.6,310.0 1278.2,301.8 1278.9,304.9 1279.6,310.2 1280.2,305.2 1280.9,311.1 1281.6,304.8 1282.2,304.2 1282.9,307.8 1283.6,299.5 1284.3,299.9 1284.9,303.2 1285.6,321.4 1286.3,294.8 1286.9,307.7 1287.6,313.1 1288.3,318.1 1288.9,319.3 1289.6,321.5 1290.3,301.5 1290.9,311.3 1291.6,310.4 1292.3,307.0 1292.9,311.7 1293.6,311.3 1294.3,315.0 1295.0,317.2 1295.6,313.8 1296.3,313.1 1297.0,314.8 1297.6,314.3 1298.3,313.5 1299.0,312.7 1299.6,280.8 1300.3,316.3 1301.0,299.4 1301.6,295.6 1302.3,296.6 1303.0,303.9 1303.7,310.1 1304.3,305.0 1305.0,304.6 1305.7,313.7 1306.3,321.6 1307.0,314.6 1307.7,309.8 1308.3,315.0 1309.0,315.9 1309.7,303.0 1310.3,309.0 1311.0,317.8 1311.7,316.1 1312.3,301.2 1313.0,312.4 1313.7,304.4 1314.4,297.8 1315.0,299.1 1315.7,305.6 1316.4,313.8 1317.0,309.0 1317.7,313.3 1318.4,320.0 1319.0,296.0 1319.7,310.2 1320.4,310.0 1321.0,312.7 1321.7,317.7 1322.4,301.1 1323.1,306.1 1323.7,315.5 1324.4,282.4 1325.1,318.3 1325.7,310.1 1326.4,308.6 1327.1,300.1 1327.7,321.2 1328.4,312.2 1329.1,306.4 1329.7,315.0 1330.4,304.0 1331.1,302.8 1331.8,312.4 1332.4,313.3 1333.1,306.6 1333.8,314.2 1334.4,316.6 1335.1,309.1 1335.8,298.1 1336.4,308.2 1337.1,309.4 1337.8,312.4 1338.4,311.3 1339.1,305.8 1339.8,316.8 1340.4,301.9 1341.1,310.2 1341.8,321.1 1342.5,302.4 1343.1,291.6 1343.8,311.8 1344.5,310.8 1345.1,291.1 1345.8,304.5 1346.5,310.9 1347.1,314.5 1347.8,286.1 1348.5,292.9 1349.1,321.6 1349.8,312.2 1350.5,306.5 1351.2,317.1 1351.8,293.9 1352.5,308.3 1353.2,311.9 1353.8,296.0 1354.5,316.5 1355.2,316.1 1355.8,310.2 1356.5,307.4 1357.2,309.0 1357.8,320.0 1358.5,314.4 1359.2,290.1 1359.8,301.1 1360.5,312.2 1361.2,306.5 1361.9,310.7 1362.5,309.1 1363.2,305.3 1363.9,317.7 1364.5,315.8 1365.2,308.5 1365.9,317.0 1366.5,319.8 1367.2,317.5 1367.9,300.5 1368.5,321.7 1369.2,311.5 1369.9,313.4 1370.6,316.5 1371.2,316.5 1371.9,313.9 1372.6,314.8 1373.2,313.2 1373.9,311.1 1374.6,306.3 1375.2,312.6 1375.9,295.0 1376.6,314.6 1377.2,307.9 1377.9,304.2 1378.6,302.2 1379.2,309.9 1379.9,315.8 1380.6,303.1 1381.3,314.7 1381.9,321.8 1382.6,313.6 1383.3,309.3 1383.9,318.6 1384.6,314.5 1385.3,314.9 1385.9,290.3 1386.6,316.4 1387.3,307.6 1387.9,312.1 1388.6,315.4 1389.3,301.9 1390.0,309.8 1390.6,284.4 1391.3,321.0 1392.0,307.9 1392.6,316.9 1393.3,310.5 1394.0,319.0 1394.6,282.9 1395.3,322.3 1396.0,301.4 1396.6,296.7 1397.3,308.7 1398.0,317.5 1398.7,305.8 1399.3,298.6 1400.0,307.6 1400.7,313.2 1401.3,305.5 1402.0,315.8 1402.7,309.7 1403.3,303.8 1404.0,314.7 1404.7,298.9 1405.3,313.6 1406.0,303.0 1406.7,319.7 1407.3,316.8 1408.0,302.9 1408.7,311.3 1409.4,303.2 1410.0,317.4 1410.7,313.3 1411.4,302.2 1412.0,315.5 1412.7,305.3 1413.4,313.3 1414.0,302.6 1414.7,299.1 1415.4,316.4 1416.0,312.0 1416.7,302.7 1417.4,313.8 1418.1,308.4 1418.7,304.8 1419.4,321.7 1420.1,312.2 1420.7,295.0 1421.4,312.3 1422.1,300.1 1422.7,310.5 1423.4,308.0 1424.1,315.2 1424.7,308.9 1425.4,307.6 1426.1,317.0 1426.7,288.9 1427.4,310.5 1428.1,312.8 1428.8,307.1 1429.4,299.9 1430.1,312.8 1430.8,309.9 1431.4,293.9 1432.1,292.3 1432.8,302.6 1433.4,316.7 1434.1,314.8 1434.8,308.0 1435.4,308.0 1436.1,303.0 1436.8,302.2 1437.5,295.4 1438.1,312.6 1438.8,297.9 1439.5,321.7 1440.1,314.1 1440.8,311.5 1441.5,296.7 1442.1,309.6 1442.8,316.7 1443.5,309.4 1444.1,321.1 1444.8,307.3 1445.5,309.5 1446.2,297.6 1446.8,309.0 1447.5,306.2 1448.2,320.1 1448.8,321.3 1449.5,311.0 1450.2,314.6 1450.8,302.2 1451.5,308.6 1452.2,305.0 1452.8,304.5 1453.5,308.3 1454.2,308.4 1454.8,319.0 1455.5,320.9 1456.2,304.3 1456.9,303.4 1457.5,309.9 1458.2,317.4 1458.9,317.7 1459.5,314.6 1460.2,310.8 1460.9,323.1 1461.5,316.9 1462.2,299.2 1462.9,298.6 1463.5,304.8 1464.2,312.7 1464.9,313.1 1465.6,317.0 1466.2,308.6 1466.9,305.4 1467.6,298.4 1468.2,309.2 1468.9,294.6 1469.6,315.1 1470.2,307.0 1470.9,313.7 1471.6,304.8 1472.2,320.0 1472.9,322.7 1473.6,317.9 1474.2,315.9 1474.9,294.3 1475.6,306.3 1476.3,292.5 1476.9,309.3 1477.6,307.3 1478.3,314.5 1478.9,316.4 1479.6,308.4 1480.3,300.4 1480.9,302.3 1481.6,315.0 1482.3,319.3 1482.9,305.4 1483.6,302.2 1484.3,304.6 1485.0,305.2 1485.6,296.7 1486.3,308.9 1487.0,317.2 1487.6,310.6 1488.3,298.6 1489.0,311.7 1489.6,321.5 1490.3,303.5 1491.0,309.3 1491.6,320.1 1492.3,309.1 1493.0,301.9 1493.6,290.9 1494.3,289.0 1495.0,301.7 1495.7,307.6 1496.3,301.3 1497.0,277.1 1497.7,293.3 1498.3,314.1 1499.0,292.3 1499.7,317.5 1500.3,313.6 1501.0,313.0 1501.7,318.2 1502.3,312.9 1503.0,311.1 1503.7,306.3 1504.4,315.6 1505.0,292.2 1505.7,314.8 1506.4,304.9 1507.0,308.1 1507.7,298.4 1508.4,295.5 1509.0,320.5 1509.7,307.9 1510.4,306.1 1511.0,316.3 1511.7,307.2 1512.4,314.0 1513.1,307.3 1513.7,305.6 1514.4,302.2 1515.1,312.9 1515.7,318.1 1516.4,322.8 1517.1,293.9 1517.7,300.1 1518.4,296.0 1519.1,295.1 1519.7,322.8 1520.4,317.2 1521.1,298.2 1521.7,304.4 1522.4,305.1 1523.1,288.6 1523.8,313.5 1524.4,295.2 1525.1,314.4 1525.8,299.1 1526.4,318.9 1527.1,304.6 1527.8,317.2 1528.4,301.1 1529.1,306.4 1529.8,317.2 1530.4,308.0 1531.1,292.6 1531.8,295.6 1532.5,294.1 1533.1,296.8 1533.8,317.3 1534.5,318.7 1535.1,302.1 1535.8,318.7 1536.5,311.1 1537.1,310.4 1537.8,292.3 1538.5,307.7 1539.1,294.6 1539.8,296.4 1540.5,261.0 1541.1,301.2 1541.8,308.9 1542.5,319.3 1543.2,310.5 1543.8,299.4 1544.5,309.7 1545.2,298.6 1545.8,300.5 1546.5,304.9" stroke="#0000ff" stroke-width="1.1" fill="none" stroke-linejoin="round"/></svg>
<rect x="877.5" y="7" width="669.0" height="317.1" fill="none" stroke="#6a6a6a" stroke-width="1"/>
<path d="M877.5 324.1v-7M877.5 7v7M1011.3 324.1v-7M1011.3 7v7M1145.1 324.1v-7M1145.1 7v7M1278.9 324.1v-7M1278.9 7v7M1412.7 324.1v-7M1412.7 7v7M1546.5 324.1v-7M1546.5 7v7M877.5 324.1h7M1546.5 324.1h-7M877.5 191.8h7M1546.5 191.8h-7M877.5 59.5h7M1546.5 59.5h-7" stroke="#6a6a6a" stroke-width="1" fill="none"/>
<text x="877.5" y="351.5" font-size="23.4" text-anchor="middle">0</text>
<text x="1011.3" y="351.5" font-size="23.4" text-anchor="middle">200</text>
<text x="1145.1" y="351.5" font-size="23.4" text-anchor="middle">400</text>
<text x="1278.9" y="351.5" font-size="23.4" text-anchor="middle">600</text>
<text x="1412.7" y="351.5" font-size="23.4" text-anchor="middle">800</text>
<text x="1546.5" y="351.5" font-size="23.4" text-anchor="middle">1000</text>
<text x="870.5" y="332.3" font-size="23.4" text-anchor="end">0</text>
<text x="870.5" y="200" font-size="23.4" text-anchor="end">0.05</text>
<text x="870.5" y="67.7" font-size="23.4" text-anchor="end">0.1</text>
<text x="1212" y="381.8" font-size="26.5" text-anchor="middle">Frequency(Hz)</text>
<text transform="translate(822 165.8) rotate(-90)" font-size="26.5" text-anchor="middle">Amplitude(m/s<tspan font-size="20.1" dy="-12.7">2</tspan><tspan dy="12.7">)</tspan></text>
<text x="907.5" y="26.4" font-size="23" fill="#ff0000"><tspan font-style="italic">f</tspan><tspan font-style="italic" font-size="17" dx="1.5" dy="12.5">b</tspan></text>
<path d="M916.7 43.0L916.7 70.1" stroke="#ff0000" stroke-width="0.75" fill="none"/>
<path d="M916.7 79.0L913.0 66.5L916.7 70.1L920.4 66.5Z" fill="#ff0000"/>
<text x="1005.2" y="41.5" font-size="23" fill="#ff0000"><tspan font-style="italic">f</tspan><tspan font-style="italic" font-size="17" dx="1.5" dy="12.5">o</tspan></text>
<path d="M1003.2 39.5L948.4 40.4" stroke="#ff0000" stroke-width="0.75" fill="none"/>
<path d="M939.5 40.6L951.9 36.7L948.4 40.4L952.1 44.1Z" fill="#ff0000"/>
<text x="962.6" y="127" font-size="23" fill="#ff0000"><tspan font-style="italic">f</tspan><tspan font-style="italic" font-size="17" dx="1.5" dy="12.5">i</tspan></text>
<path d="M968.5 144.0L968.5 193.1" stroke="#ff0000" stroke-width="0.75" fill="none"/>
<path d="M968.5 202.0L964.8 189.5L968.5 193.1L972.2 189.5Z" fill="#ff0000"/>
<text x="1048.5" y="157.5" font-size="23" fill="#ff0000"><tspan>2</tspan><tspan font-style="italic">f</tspan><tspan font-style="italic" font-size="17" dx="1.5" dy="12.5">i</tspan></text>
<path d="M1059.3 174.2L1059.3 244.1" stroke="#ff0000" stroke-width="0.75" fill="none"/>
<path d="M1059.3 253.0L1055.6 240.5L1059.3 244.1L1063.0 240.5Z" fill="#ff0000"/>
<text x="1166" y="150" font-size="23" fill="#ff0000"><tspan>5</tspan><tspan font-style="italic">f</tspan><tspan font-style="italic" font-size="17" dx="1.5" dy="12.5">o</tspan></text>
<path d="M1178.5 166.0L1178.5 235.2" stroke="#ff0000" stroke-width="0.75" fill="none"/>
<path d="M1178.5 244.1L1174.8 231.6L1178.5 235.2L1182.2 231.6Z" fill="#ff0000"/>
<text x="1227.3" y="165.5" font-size="23" fill="#ff0000"><tspan>6</tspan><tspan font-style="italic">f</tspan><tspan font-style="italic" font-size="17" dx="1.5" dy="12.5">o</tspan></text>
<path d="M1240.5 182.3L1240.5 251.1" stroke="#ff0000" stroke-width="0.75" fill="none"/>
<path d="M1240.5 260.0L1236.8 247.5L1240.5 251.1L1244.2 247.5Z" fill="#ff0000"/>
<text x="1285.8" y="181" font-size="23" fill="#ff0000"><tspan>7</tspan><tspan font-style="italic">f</tspan><tspan font-style="italic" font-size="17" dx="1.5" dy="12.5">o</tspan></text>
<path d="M1299.0 197.6L1299.4 266.1" stroke="#ff0000" stroke-width="0.75" fill="none"/>
<path d="M1299.5 275.0L1295.7 262.5L1299.4 266.1L1303.1 262.5Z" fill="#ff0000"/>
<path d="M88.5 681.5l.1.9.1-1 .1-.8.1-.8.1-6 .1 3.1.1-1.3.1-39.6.1 87.6.1-10.5.1-50.6.1 36.8.1-32.7.1 38.3.1-41.4.1 37.3.1-32.6.1 27.6.1-24.9.1 16.3.1-21.5.1 26.6.1-22.2.1 14.4.1-11.7.1 12.4.1-6.9.1 7.9.1-11.6.1 9 .1-8 .1 12.4.1-9.6.1 7.6.1-9.6.1 11.7.1-10.6.1 6.1.1-3 .1 5.3.1 1.5.1-1.7.1-11.8.1-52.9.1 144.3.1-32.4.1-89.5.1 60.7.1-49.4.1 70.9.1-75.3.1 65 .1-74.1.1 65.9.1-49.2.1 50.8.1-53 .1 45.1.1-44.9.1 37.2.1-32.5.1 29.1.1-21.9.1 21.6.1-20.1.1 18 .1-19.8.1 24.7.1-26.5.1 22 .1-16.9.1 15.1.1-11.7.1 14.3.1-13.9.1 5.7.1-2.9.1 1 .1 11.1.1-12.7.1 1.5.1 5.3.1-2.2.1-2.6.1-5.2.1 4.4.1-1.1.1.6.1 1.4.1 5.4.1-6.1.1 6.6.1-6.1.1-2.3.1-3.7.1 6.5.1 4.1.1-4 .1-1.4.1-1.3.1 3.7.1.4.1.9.1.8.1 5.2.1-13.3.1 2.1.1 11.2.1-6.1.1 4.2.1-7.7.1 7.3.1-1.1.1-.7.1-3.1.1 5.7.1-5.7.1-.5.1-8.4.1 12.3.1-2.7.1 1.1.1 5.5.1-3.1.1-6.6.1-.6.1 13.4.1-11.4.1-2.3.1-2.1.1-4.2.1 2.7.1.1.1 16.5.1-4.9.1-4.1.1 3.6.1-5.9.1 7.2.1 3.3.1-4.2.1 3.8.1 3.6.1-11.7.1 3.9.1.5.1 2.2.1-8.7.1 3.6.1 1.7.1 2.4.1-5.8.1.6.1-4.4.1 10 .1-8.8.1 5.1.1-1.6.1-36.7.1 75.5.1-29.6.1-28.7.1 35.1.1-32 .1 29.2.1-27.3.1 29.2.1-30.8.1 29.2.1-29.3.1 31.8.1-29.4.1 17.2.1-14.2.1 15.2.1-11.4.1 10.7.1-10.6.1 13.3.1-10.5.1 10.4.1-13.9.1 8.7.1-5.9.1 9.7.1-11.4.1 5.1.1-4 .1 6.7.1-2.9.1-2 .1-1.8.1 5.2.1 10.2.1-5.4.1-3.7.1-2.7.1 6.2.1-9 .1 10.1.1-17.7.1 8.3.1-2.8.1 7 .1-2.2.1 9 .1-3.3.1-5.1.1 1.6.1-.1.1-2.7.1-2 .1 9.5.1-10.6.1-3.4.1 14.4.1 3 .1-12.6.1 7.6.1-6 .1 1.1.1.9.1-.8.1-5.3.1 6.8.1-7.1.1 6.9.1 1.7.1-13 .1 11.5.1-1.9.1-64.8.1 129.8.1-17.8.1-81 .1 56.6.1-54.8.1 70.1.1-64 .1 60.9.1-50.9.1 35.6.1-30.1.1 36.7.1-48.6.1 31.9.1-25.6.1 35.7.1-30.7.1 27.7.1-29.6.1 22.8.1-22.1.1 26.8.1-19.7.1 18.5.1-16.9.1 11.8.1-12.1.1 8.9.1-9.7.1 12.4.1-12.6.1-4.5.1.7.1 2.2.1 12.8.1-7.2.1.8.1-3.2.1.7.1 5 .1-6.6.1 4.7.1-6.1.1 3.1.1-1.6.1-13.5.1 16.2.1-6 .1 11.9.1-14.1.1 9 .1 7.4.1-17.3.1 14.1.1-13.4.1 9.9.1 6.3.1-5.9.1-12.6.1 7.5.1 2.8.1-1.6.1-1.3.1-.7.1-2.4.1 3.5.1-3.2.1 13.3.1-.2.1-5.7.1 3.7.1-4.8.1-3.1.1 4.4.1-1.5.1-3.6.1 3.9.1 1.2.1-3.5.1 10.4.1-13.6.1 14.9.1-8.4.1 2.1.1 3.5.1-5.1.1-5.8.1 3.3.1.3.1 3.2.1-12.3.1 11.6.1-1.9.1.6.1-8.9.1 1.7.1 8.4.1-8.4.1.7.1 10.3.1-6.5.1 9.1.1-2.7.1 11.1.1-5.8.1-6.6.1-7.8.1-3.8.1-60 .1 117 .1-10.5.1-72.7.1 75.8.1-68.9.1 48.2.1-34.8.1 31.5.1-35.7.1 27.2.1-32.1.1 51.9.1-45.2.1 42.6.1-34.8.1 17.4.1-10.2.1 20.4.1-26.5.1 19.5.1-20 .1 19.4.1-22.2.1 13 .1-9.8.1 20 .1-15.8.1 9.9.1-4.2.1 7 .1-8.9.1-1.2.1-2.2.1-2.9.1 13.6.1-8.2.1-8.4.1 9.2.1-10.5.1 11.9.1 5.8.1-18 .1 19.3.1-12.4.1 4.8.1 4.2.1-1.5.1-10.3.1 8.4.1 1.7.1 13.9.1-7.9.1-122.2.1 209.5.1-18.5.1-138.9.1 117.5.1-106.1.1 116.9.1-92.5.1 58.1.1-76.6.1 76 .1-72.2.1 74.5.1-59.1.1 45.1.1-49.8.1 57.7.1-54.6.1 43.9.1-35.9.1 41.3.1-38.9.1 39.1.1-40.8.1 34.5.1-29.3.1 28.1.1-12.1.1 8.2.1-16.7.1 17 .1-18.8.1 13.3.1-6 .1 7.1.1-3.8.1-9.2.1-12.7.1 6.8.1.6.1 17.1.1 10.5.1-17.8.1-13.4.1 17.7.1 4.4.1-6.6.1-1.6.1 13.7.1-7.2.1-9 .1 14 .1-.3.1 14.7.1-21.9.1-2 .1 0 .1-4.6.1 11.3.1 1.9.1 6.7.1-14 .1-12.3.1 2.4.1 17 .1-107.9.1 145.2.1 12.9.1-97.7.1 65.3.1-56.4.1 52.1.1-52.2.1 57.7.1-63.9.1 59.8.1-55.9.1 46.7.1-27.9.1 40.9.1-59.5.1 43.4.1-31.9.1 34.4.1-28.5.1 30.9.1-30.8.1 26 .1-22 .1 24.2.1-26 .1 20.5.1-12.7.1 6.6.1-11.8.1 9.2.1-7 .1-10.3.1 20 .1 11.1.1-22.2.1 5 .1 10.4.1-12.5.1-1.7.1-1.1.1-1.4.1 19 .1-1.8.1-3.2.1-20.9.1 31.6.1-24 .1 5.5.1-3.1.1 17.6.1-21.7.1 22.3.1-.3.1-29.4.1 12.6.1 12.1.1-15.8.1 19.1.1-28.2.1 18.2.1 11.5.1-12.9.1 12.8.1-24.1.1 15.2.1-16.9.1 3.6.1-9.1.1 5.9.1-2.2.1 12.3.1 7.4.1-19.5.1 24.7.1-14.2.1-.4.1 2.4.1-11.9.1 4 .1 15.1.1-15.1.1-33.4.1 62.3.1 11.4.1-59.3.1 59.8.1-41.1.1 33.8.1-47.3.1 47.8.1-45.1.1 36.6.1-18 .1 10.1.1-14.8.1 26 .1-27.2.1 23 .1-17.5.1 11 .1-12.7.1 11.6.1-10.4.1 10 .1-14.3.1 19.5.1-13.7.1 11.3.1-5.1.1 2.8.1-2.9.1 2.8.1-11.5.1 1.4.1 12.4.1-.9.1 3.4.1-17.6.1 9.5.1-6.2.1-5.2.1 21.5.1-2.2.1 5.4.1-31 .1 16.7.1-16.7.1 17.1.1-5.5.1-10 .1-60.3.1 119.9.1 1.5.1-100.4.1 90.4.1-65.4.1 42.8.1-49.3.1 70.1.1-52.5.1 36.4.1-50.4.1 61.2.1-40.1.1 36 .1-32.6.1 27.2.1-32.2.1 26.4.1-30.8.1 28.8.1-23.4.1 21.5.1-23.2.1 21.5.1-18 .1 21 .1-11.4.1 9.4.1-9 .1 7 .1-17.1.1 6 .1-12.6.1 26.4.1-4.8.1-1.2.1 3.4.1-2.1.1 5.8.1-15 .1-8.8.1 13.8.1-13.4.1 12.4.1 14.2.1-4.2.1-13.8.1 3.5.1-3.3.1-2.9.1 14.8.1-5.9.1-.7.1 2.2.1-3.1.1 11.2.1-19.1.1 2.3.1-.3.1-6.4.1.4.1-10.3.1 29.6.1-25.2.1 21.5.1-7.7.1 11.5.1-30 .1 18.4.1 7.7.1 6.5.1-14 .1.9.1 2.8.1 1.7.1-6.1.1 4.7.1-14 .1 29.3.1-13.7.1-6.6.1 14.5.1-4.7.1-26 .1 19.7.1 6.6.1-1.1.1-5.5.1 18.5.1-26.8.1-21.4.1 73.9.1-12.9.1-58.9.1 57.3.1-44.2.1 29.8.1-32.2.1 37.3.1-27.5.1 22 .1-34.4.1 29.3.1-24.3.1 28.2.1-19.4.1 17 .1-23.1.1 22.2.1-13 .1 12.1.1-13.4.1 10.5.1-12.9.1 10.6.1-8.2.1 12.3.1-8.6.1 3.2.1-6.5.1 5.9.1-3.1.1-2.4.1 2 .1-6.6.1.4.1 15.6.1-20.3.1 3.6.1 17.3.1-7.9.1-13.3.1 15.1.1-15.3.1 23.7.1-7.8.1-3.9.1 1.4.1-3.8.1.6.1 14.6.1-10.4.1-1.7.1-4.2.1-2.3.1 2.2.1 11 .1-2.5.1 3.5.1-19.7.1 2.5.1 5.3.1 9.7.1-11.9.1 3.6.1.6.1 8.4.1-9.1.1-.8.1 4.8.1.5.1-2.4.1-3.4.1 9.5.1-7.2.1.9.1-.4.1 7.6.1-.3.1-3.2.1-3.9.1 2 .1-1.2.1 1.3.1 7.5.1-5.8.1.3.1 2.6.1-.7.1-3.1.1 6.3.1-9.3.1-8.9.1 13.7.1 1.4.1-7.2.1 6.4.1-1.3.1 6.6.1-9 .1 10.6.1-16.9.1 1.1.1 3.2.1-4 .1 10.3.1-7.6.1 5.8.1 7.6.1-2.3.1-2.1.1 6 .1-16.7.1 6.7.1 9.7.1-13.3.1-1.1.1-1.8.1 16.8.1-12.4.1 2.1.1 1.7.1-.6.1-2.5.1 2.2.1 5.6.1-6.8.1-.7.1 3.2.1 2.6.1-2.3.1-2.3.1 1.2.1 1.6.1 3 .1-1.7.1-2.3.1-.9.1 4.1.1-5 .1 1.5.1 4.4.1-5.7.1-10.3.1 5.6.1 3.1.1-4.4.1 1 .1-25.6.1 57.1.1-11.1.1-35.2.1 31.8.1-30.1.1 30.9.1-19.2.1 11.2.1-16.7.1 21.9.1-16.1.1 15.6.1-20.5.1 15.1.1-9.9.1 10.1.1-9.6.1 5.8.1-3.9.1 5 .1-6.8.1 8.3.1-6.5.1 5 .1-9 .1 8.6.1-4.2.1 6 .1-6.7.1 2.5.1-5.2.1 4 .1.3.1 4.5.1.1.1 2.5.1-11.5.1 8.9.1-5.5.1-7.6.1 10.7.1-.3.1-2.3.1 1 .1 6.1.1-15.4.1 3.4.1 4.2.1 5 .1-3.7.1-1 .1-1.3.1-9.5.1 8.7.1 1.9.1-1.9.1-.8.1 5 .1-.1.1 1.7.1-8.8.1 15.6.1-9.6.1-1.5.1-4.1.1 10.8.1.3.1-4.8.1-.8.1-8 .1 8.1.1-6.6.1 5.8.1-2.4.1-4.6.1-17.5.1 81 .1-39.4.1-47.3.1 57.8.1-47.6.1 44.3.1-36.1.1 27.8.1-28.8.1 26.1.1-35.8.1 28.9.1-20.8.1 27.9.1-20.7.1 18.6.1-18.7.1 13.6.1-15.8.1 23.4.1-19.1.1 18.3.1-22.3.1 15.3.1-9.6.1 8.4.1-10.9.1 16.2.1-8.1.1 5.5.1-11.1.1.3.1 7.8.1 1.5.1-4.2.1 1.6.1.3.1-4.1.1.6.1 2.4.1.1.1-2.8.1 1.4.1 8.7.1-12.8.1 9 .1-17.5.1 13.4.1 4.6.1-11.1.1 7.1.1 2.9.1-6.3.1 5.2.1-9.6.1 3.3.1-7.3.1 13.2.1-.6.1 3.1.1 1.2.1 2 .1-2.2.1-11.3.1-.8.1 2.7.1 6.5.1 1.7.1-6.3.1 1.1.1 2 .1-1.7.1 6.3.1 1.6.1-4.5.1 4.6.1 6.2.1-14.3.1 0 .1-48.3.1 93.3.1-18.8.1-61.3.1 51.2.1-42.7.1 46.1.1-35.1.1 29.3.1-31.2.1 32.9.1-31.1.1 28 .1-31 .1 31.1.1-19.2.1 15 .1-19.6.1 17.2.1-18.2.1 18.9.1-13.6.1 14.6.1-17.2.1 15.4.1-11.8.1 10 .1-10.7.1 7.9.1-4.7.1 5.4.1-5.2.1.9.1-1.7.1-5 .1 7.9.1-11.3.1 11.1.1-6.3.1-2 .1 7.8.1-8.3.1 4.4.1-2.7.1 9.9.1.1.1-12.8.1 1 .1.7.1 5 .1-1.3.1 4.1.1.6.1 1.6.1 1 .1-4.8.1 0 .1 4.2.1-1.1.1-11.3.1 5.9.1.2.1-5.9.1 8.3.1-3.1.1-7.1.1 11.9.1-1 .1-42.2.1 88.8.1-24.4.1-48.8.1 56.6.1-50.9.1 40.6.1-29.1.1 26.2.1-26.3.1 20.3.1-17.7.1 14.2.1-18.9.1 22.5.1-18.7.1 22.2.1-20.8.1 17.2.1-15.8.1 16.4.1-15.1.1 10.8.1-14.1.1 15 .1-11.2.1 8.7.1-5.9.1 7 .1-7.5.1 2.9.1-5.6.1 1.2.1 3.1.1 5.7.1-9.5.1 3.7.1.7.1.4.1.5.1-.6.1-2.1.1 7.3.1-13.9.1 8.6.1 3.8.1-4.9.1 1.9.1-3.9.1 4 .1-1.8.1 2.4.1-5.8.1 7.5.1.7.1-3 .1-3.4.1 10.6.1-1.4.1-5.5.1-7.2.1 1.4.1 6.6.1 6.9.1-18.1.1 17.6.1-9 .1 8.4.1-2.9.1-6.5.1 6.7.1-1.6.1.1.1-.4.1-12.2.1 12.9.1-58.7.1 109.2.1-33.1.1-60.9.1 73.8.1-54.3.1 33.9.1-27.7.1 35.4.1-42.1.1 39.4.1-42 .1 35.3.1-27.7.1 35.3.1-29.8.1 26.9.1-25.2.1 20.2.1-21.7.1 18.2.1-16.8.1 14.4.1-7.8.1 13.7.1-13.2.1 8.4.1-14.8.1 11.5.1-4.1.1 5.2.1-5.4.1-1.2.1 1.2.1 4.9.1-15.1.1 10.4.1.4.1 11.1.1-16.5.1 24.8.1-20.4.1-.7.1 7.9.1 8.7.1-14.7.1-3.8.1 13 .1-12.9.1-2.4.1-1.8.1 1.5.1 19.9.1-18.6.1 12 .1-7.9.1 3.3.1-11.2.1 8.6.1-4.9.1 2.9.1-1.3.1-1 .1 4 .1 7.5.1-9 .1 5.2.1-2.2.1-1.8.1-.1.1 1.2.1-21.6.1 2.5.1 9.6.1 17.3.1 4.5.1-8.4.1-1.2.1-3.6.1 3.6.1-9.1.1 2.4.1 3.6.1-9.6.1.6.1 7 .1 5.7.1-12.5.1-5 .1 14.7.1 1 .1 4 .1 3.9.1 0 .1-13.6.1 1.7.1 9.8.1-10 .1.2.1 6.3.1-11.6.1-.4.1 3.4.1-9.7.1 10.9.1.4.1 6.1.1-8.4.1-2.1.1-70 .1 157.8.1-29.4.1-86.5.1 75.4.1-61 .1 53.3.1-70.4.1 79.2.1-53.5.1 26.1.1-22.4.1 33.3.1-47.7.1 34.4.1-23.7.1 27.7.1-35.5.1 29.3.1-26.7.1 28.1.1-23.7.1 28 .1-32.7.1 34.1.1-31 .1 18.8.1-17.8.1 21.4.1-9.6.1 7.3.1-7.3.1-1.5.1-8.7.1 7.2.1 10.1.1 13.5.1-40.7.1 16.4.1 25.4.1-57.5.1 36.2.1 28.4.1-42.4.1 38.5.1-40.9.1 32.1.1-35.5.1 36 .1-30.5.1 30.1.1-34.7.1 29.2.1-15.5.1 15 .1-15.7.1 7.2.1-10.2.1 7.9.1-4.6.1 18 .1-18.6.1 13.3.1-10.2.1 9.4.1-9.7.1 11.4.1-12.7.1 9.7.1-6 .1 2.6.1-5 .1-8.3.1 14.1.1 19.6.1-11.5.1-1.4.1-6.4.1 7.7.1 3.1.1-19.3.1 9.9.1-4 .1-10.8.1 9 .1-.8.1 10.6.1-12.6.1 7.6.1 3.1.1-9.2.1 9.7.1-9.2.1 4.6.1 1.9.1-3.6.1 2.5.1-6.7.1 5.1.1 1.5.1 6.9.1-6.1.1 3.8.1-.7.1 1.3.1-5.6.1-18.1.1 11.3.1-5.4.1 15.8.1-6.3.1-4.5.1 1.3.1 19 .1-14.4.1-2.2.1 8.8.1 7 .1-9.9.1-3.9.1-12 .1 15 .1 4 .1-17.3.1 14.9.1-1.8.1 0 .1-4.9.1 20.9.1-6.4.1-6 .1-8.2.1 4.5.1-1.6.1-1.2.1-2.4.1-.4.1-.1.1-.2.1 15.5.1-10.2.1-3 .1 12.7.1-21 .1-62.3.1 141.6.1-10.2.1-106.3.1 64 .1-36.2.1 40.1.1-44.8.1 47.7.1-48.4.1 42.3.1-38 .1 44.1.1-43.4.1 37.2.1-30.3.1 27.5.1-22.3.1 15 .1-24.2.1 25.6.1-20 .1 25.5.1-24.3.1 22.6.1-20.9.1 13.4.1-10.5.1 10.1.1-10.4.1 11.5.1-13.3.1 5.2.1 9.6.1-15.3.1 11 .1.9.1-.3.1.9.1-.4.1-8.2.1 9.1.1-8.4.1 7 .1-4 .1-4.7.1 6.6.1.6.1-10.1.1 9.1.1-2.3.1 2 .1 7.5.1-5 .1-5 .1-1.8.1 6.9.1-5.8.1.4.1-4.3.1 23.2.1-22.4.1 4.6.1 5.2.1 1.2.1-5.7.1 2.4.1-7.1.1 17.3.1-11.1.1-.6.1 2.3.1 8.5.1-9.1.1 1.5.1 0 .1-6.3.1 2.5.1-.6.1 5.3.1-5.6.1-5.9.1 1.2.1-.1.1 13.8.1-3.4.1-3.6.1 9.1.1-15.7.1 15.6.1-13.6.1-1.5.1 5.3.1 16.2.1-23.3.1 9.5.1-1.6.1-2.4.1 4.5.1-4.2.1 6.5.1-9.6.1-3 .1 11 .1-10.9.1 1.8.1 9.9.1-14.1.1 4.3.1 8.7.1-1.8.1 8.1.1-14.4.1-3.6.1 5.2.1 2.8.1 9.1.1-6.6.1 1.3.1-8.5.1-25.3.1 66.6.1-21.2.1-32.7.1 32 .1-31.2.1 36.6.1-28.3.1 17.8.1-13.9.1 13 .1-21.5.1 19.9.1-17.8.1 16.8.1-12 .1 13.8.1-9.9.1 10.1.1-11.7.1 10.8.1-8.9.1 4.9.1-9.4.1 8.7.1-6.3.1 9 .1-4.7.1 3.4.1-4.7.1 5 .1-5.5.1 9.6.1-2.8.1-2.7.1-8.7.1 18.3.1-5 .1-4.4.1 6.1.1-19.5.1 10.4.1 1.2.1-10.7.1 5.6.1 10.9.1-.6.1-7.8.1-.1.1 3.7.1-5.4.1 2.9.1 7.1.1-6.9.1 3.4.1-2.7.1 7.9.1-19 .1 8.2.1 15.6.1-12.6.1-7.6.1 3.8.1 7.4.1-.7.1-11 .1-4.6.1 17.4.1-2.8.1-4.6.1 4.4.1-60.8.1 131.6.1-52.9.1-70 .1 86.5.1-72.3.1 72.5.1-60.1.1 51.8.1-39 .1 29.4.1-35.6.1 41.9.1-40.6.1 37.1.1-39.7.1 29.5.1-26.8.1 27.7.1-22.1.1 23.4.1-22.4.1 17.5.1-19.8.1 18.6.1-13.3.1 13.4.1-15.2.1 15.1.1-13.7.1 14.3.1-13.8.1 4.4.1 2.9.1-23.5.1 24.7.1-4.7.1 16.4.1-18.4.1 8.8.1-7.9.1 11.9.1-2.4.1-9.8.1-.2.1 2.2.1 7 .1-9.9.1 9.3.1-12.7.1.5.1-.5.1 9 .1-2.6.1 16.5.1-17 .1 3.8.1-10.2.1-.1.1 2.1.1 8.1.1-14 .1 15.6.1-10.9.1-10.9.1 32.1.1-24.3.1 14.2.1-.7.1-2.5.1 2.2.1-13.7.1-3.9.1 25.5.1-8.6.1-13.8.1 17.6.1 4.8.1-1.8.1-9.1.1 1.6.1-2.6.1 16.9.1-11.8.1-7.1.1-1.3.1.9.1 10.4.1-15.1.1 8.3.1-4.7.1 13.4.1-20 .1 7.5.1 8 .1-2.4.1 8 .1-7.6.1-8.7.1-.8.1 6.6.1 16.1.1-27 .1 8.7.1-5.8.1-3 .1 13 .1-6.4.1 8.3.1-79 .1 134.7.1-26.5.1-61.6.1 64.3.1-72.2.1 76.1.1-66.8.1 50 .1-49 .1 37.4.1-23.6.1 44.4.1-49.7.1 47.3.1-48.9.1 45.1.1-39.3.1 25 .1-28.9.1 29.5.1-24.1.1 21.2.1-20.4.1 20.3.1-11.8.1 17.2.1-22.3.1 11 .1-5 .1 9.4.1-13.2.1 9.5.1 4.8.1 4.1.1-34.4.1 10.1.1 13.2.1-18.8.1 10.4.1 8.2.1-3.6.1 10.6.1-23.5.1 25.8.1 6.8.1-8.8.1-5.9.1 8 .1-21.5.1 19.7.1-124.9.1 251.4.1-41.3.1-184.6.1 177 .1-117.8.1 65.5.1-69 .1 62 .1-77.7.1 110.5.1-103.8.1 88.4.1-89.7.1 74.5.1-56.6.1 63.4.1-56.3.1 55.2.1-53 .1 41 .1-35.5.1 23.8.1-34 .1 34.5.1-18.8.1 26.3.1-30.4.1 24.4.1-20 .1 13.9.1-14.5.1 14.8.1-6 .1 2.2.1-16.7.1-.5.1 12.7.1-4 .1-4.2.1 13.2.1-5.9.1 10.9.1-16.1.1 6 .1 11.4.1-8.3.1 1.1.1 4.9.1-15.3.1 3.5.1 7.4.1-8.3.1 35.8.1-34.1.1 0 .1 1.8.1 10.1.1-15.5.1 10.1.1-9.1.1 17.2.1-17.6.1-1.8.1 27.7.1-22.9.1-84.3.1 130.7.1-5.7.1-96.4.1 117.4.1-116.2.1 108 .1-62.7.1 37.8.1-56.9.1 49.9.1-34.8.1 29.7.1-30.7.1 31.8.1-41.4.1 45 .1-41.3.1 35 .1-22.2.1 22.5.1-25.6.1 19.5.1-17.7.1 29.4.1-26.1.1 16.1.1-17.4.1 20.4.1-16.6.1 14.1.1-11.2.1 12.5.1-10.1.1 3.4.1-2.4.1 8.1.1-9.7.1 5.3.1-7.1.1 9.8.1-6.5.1-4.8.1 23.7.1-12.9.1-5.4.1-10.7.1 9.2.1-9.4.1 13.9.1 3.7.1-5.3.1-5.1.1-2.6.1-.4.1 11.4.1-10.8.1 2.6.1 8.9.1-11.1.1-1.2.1 14.9.1-9.1.1 2.8.1 21.9.1-26.7.1 14.1.1-10.8.1 9 .1-3.6.1-4.8.1-.1.1-.1.1-1.4.1 4.4.1-.7.1-4.9.1-5.2.1 7.8.1.6.1-2 .1-1.7.1 9.4.1-14.2.1 11.5.1 4.8.1-21.3.1 1.2.1 18.3.1-3.8.1-3.6.1-10.2.1-4 .1 13.9.1-4.7.1-1.9.1 3 .1 10.8.1-6.3.1 3.4.1-6 .1-1.2.1 8.3.1-4.5.1 2.4.1-1.9.1-11.2.1 14.2.1-9.7.1 12.9.1-.7.1-13 .1 5 .1 1.1.1 5.2.1-6 .1 10.8.1-1.7.1-14.4.1 4.7.1 2.6.1.8.1-12.6.1 14.6.1-6.5.1-4.7.1-4 .1.8.1 15.6.1-9.9.1-1.3.1-38.5.1 84.8.1-10.6.1-58.6.1 39.3.1-30.1.1 35.7.1-36.9.1 34.1.1-36.2.1 38.7.1-25.1.1 19.4.1-23.7.1 25.4.1-15.3.1 15.1.1-23.4.1 20.6.1-20.4.1 24.8.1-20.8.1 15.1.1-11.4.1 8.8.1-11.5.1 9.2.1-8.5.1 10.7.1-12.1.1 14.9.1-9.2.1-8.7.1 13.3.1-.8.1-1 .1 2.7.1-16.7.1 14.9.1-7.5.1 3 .1 3.7.1-7.9.1 5.6.1 7.4.1-13.6.1 16.3.1-11.3.1 1.2.1.2.1 5.2.1-.6.1-2.1.1 3.2.1.5.1-8.3.1-2.8.1 11.7.1-16.2.1 10.1.1-5.4.1 16.5.1-9.1.1 2.6.1-.1.1 1.4.1-2.1.1 0 .1-9.4.1 6.8.1-.1.1-3.2.1.9.1-4 .1 6 .1 5.6.1-2.8.1-8.1.1 1.7.1 2.3.1 3.7.1 8.3.1-17.9.1 5.8.1 7.8.1 1.2.1 1.1.1-6.4.1-8.5.1 10.9.1-10.8.1 8.5.1-4 .1 2.8.1-6.2.1-79.6.1 142 .1-18.6.1-91.9.1 92.4.1-72.6.1 72.2.1-79.8.1 70.6.1-62.4.1 47.8.1-45.5.1 61.8.1-50 .1 40.1.1-40.6.1 27.2.1-27.8.1 29.5.1-25.3.1 25.9.1-21.1.1 22.5.1-25.9.1 18.2.1-9.7.1 9.8.1-20.9.1 23.8.1-10.5.1 11.7.1-17.6.1 17.5.1-9.6.1-5.7.1 12.7.1-11.6.1 2 .1-3.6.1-1.7.1 10.2.1 4.9.1-12.6.1 5.6.1 4 .1-2.9.1-5.1.1 6 .1-5.7.1-6.2.1 9.7.1 2.1.1-2.3.1 17.6.1-26.4.1 8.9.1-6.3.1 6.7.1 6 .1-2.9.1-7.6.1 5 .1 1.8.1-5.3.1 6.4.1-5.2.1 5.3.1-15.8.1 18.5.1-1.6.1-5.8.1 3.6.1-.8.1-3.4.1 7.2.1-5.4.1-34.7.1 69.9.1-12.2.1-45.3.1 45.8.1-39.3.1 35.2.1-30.2.1 31.7.1-37.4.1 31.4.1-23.8.1 12.1.1-12 .1 15.2.1-15.1.1 19.5.1-18.5.1 15.8.1-15.3.1 11.2.1-9.9.1 8.8.1-6.8.1 9.3.1-9.5.1 9.9.1-9.7.1 7.7.1-8 .1 4.8.1.1.1-3.6.1 7.2.1-1.4.1-5.5.1 3.7.1-2.6.1.9.1 6.1.1-4 .1 6.1.1-5.7.1-7.6.1 2.5.1 12.7.1-12 .1 5.8.1-8.4.1 12.7.1-2.2.1-10.4.1 1.2.1 3.8.1-8.2.1 5.3.1 2.2.1-4.1.1-3.9.1.4.1 10 .1-8.4.1 2.1.1 1.2.1 6 .1-13.4.1 14.2.1-5.3.1-6.7.1-4.7.1 24.4.1-20.1.1 3 .1-20.9.1 20.8.1 17.2.1-21.5.1 21.1.1-26.2.1 22 .1-13.8.1 14.4.1-15.8.1 10.2.1-13.8.1 19.2.1-16.2.1 16.5.1-14.3.1 14.5.1-11.9.1 9.7.1-12.6.1 12.1.1-14 .1 13.6.1-7.1.1 2.5.1-5.1.1 3.8.1 0 .1-.2.1.1.1 3.2.1-.4.1-12.5.1 10.1.1-10.5.1 7.3.1-1.3.1 1.1.1 8.1.1-6.1.1 6.3.1-4.1.1-3.7.1 4.2.1-1.5.1-8.3.1 6.4.1-.7.1-3.7.1 8.1.1-5.9.1 3.7.1.9.1 1.9.1 4.7.1-9.4.1-1.9.1 6.8.1 1 .1 2.6.1-18.4.1 11.4.1 3.2.1 3.9.1-13.5.1 6.3.1 1.4.1 1.4.1-1.4.1 3.1.1-1.8.1-11.5.1 13.7.1-7 .1.8.1.9.1-35.9.1 81.7.1-30.6.1-40 .1 50.1.1-44.3.1 45.1.1-34.5.1 31.7.1-31.6.1 20.3.1-16.2.1 18.3.1-17.7.1 10.7.1-19.7.1 22.7.1-18.7.1 13.1.1-10.5.1 13.3.1-13.6.1 19.5.1-13.9.1 11 .1-10.2.1 7.5.1-9 .1 8.5.1-8.7.1 7.8.1-3.9.1-4.7.1-4 .1 9.2.1-4.5.1 5.4.1-1.2.1 8.3.1 2.7.1-1 .1-13.5.1.3.1 1.3.1 2.4.1 8.5.1-5.7.1-3.4.1 5.1.1-1 .1-11.7.1 5.7.1-2.5.1 12.4.1-7.1.1 17.5.1-23.2.1 7.7.1 10 .1-1 .1-10.3.1-2 .1-4.7.1 12.6.1-20.1.1 12.8.1-5 .1 8.1.1-5.3.1 4.5.1-13.1.1 10.7.1 11.5.1-57.4.1 107 .1-39.5.1-48.7.1 62.2.1-58.2.1 43.1.1-40.7.1 47 .1-48.4.1 43.8.1-32.7.1 31.6.1-37.8.1 24.3.1-16.4.1 14.5.1-13.2.1 18.8.1-20.1.1 13 .1-15.9.1 19.4.1-14.3.1 14.8.1-12.5.1 11.9.1-9.4.1 6.5.1-9.5.1 10.4.1-9.9.1 3.1.1.9.1 5.5.1-4.8.1-10.5.1 13.9.1-9.1.1 6.7.1 2 .1-6.1.1-4.3.1 6.7.1 8.7.1-18.3.1 8.1.1 7 .1.7.1 1.7.1-9 .1.9.1 4.7.1-5.6.1 5 .1-3.6.1-3.6.1 13.2.1-10.1.1-3.9.1 2.9.1-2.2.1 4.2.1-3.2.1 5.6.1 4.9.1-.8.1 1.5.1-10.7.1 3.5.1 5.8.1.2.1-3.7.1-39.2.1 40.2.1 17.6.1-43.9.1 32.4.1-21.5.1 26.1.1-25.8.1 18 .1-15.9.1 25.2.1-26.6.1 20.6.1-16.9.1 15.5.1-19.2.1 18.9.1-16.2.1 14.5.1-11.9.1 11.1.1-7.6.1 12.4.1-13.5.1 7.5.1-6.7.1 8.2.1-7.4.1 5.2.1-6.3.1 4 .1-4 .1 6.6.1-2.7.1 3.1.1-9.7.1 13.2.1-9.6.1 5.4.1 2 .1 8.1.1-11.8.1-7.4.1-6.8.1 7.5.1 1.5.1 13.2.1-5.1.1-8.5.1 7 .1.5.1 1.7.1 1.4.1-2.5.1.1.1 3.5.1-12.1.1 11 .1-7.6.1 7.4.1-8.5.1 4.7.1 1.2.1-8.8.1 1.8.1-3.2.1 13 .1 5.1.1-8.6.1 4.1.1-13.9.1 4.5.1-4.2.1 10.6.1-9.9.1 8.1.1 7.3.1-2.2.1-57.9.1 96.2.1-19.1.1-43.2.1 39.2.1-55.4.1 46 .1-22.9.1 32.2.1-39.2.1 23 .1-19.5.1 26.1.1-21 .1 9 .1-17.7.1 33.9.1-28.7.1 18.7.1-16.9.1 17.9.1-13.5.1 7.4.1-6.8.1 14.4.1-7 .1 4.8.1-17.4.1 14.6.1-9.6.1 8.1.1-4.2.1-6.5.1-6.8.1 19.1.1 4.1.1-8.8.1-.6.1 1.7.1 1.1.1 8.8.1-22.3.1 4.5.1 4.8.1-10.8.1-3.5.1 18.4.1-5 .1-2.7.1 7.3.1-12.7.1 14.8.1 1.2.1-13.6.1 22.7.1-13.7.1-8.3.1 22.1.1-3.3.1-10.4.1 1.1.1 1.5.1-4.7.1 9.4.1-23.6.1 32.1.1-7.9.1-7.7.1 14.4.1-14.7.1 2.6.1 1.2.1 8.3.1-6.2.1.3.1-3.5.1 3.1.1-4.7.1-6.5.1 8 .1-.3.1 1.2.1-11.3.1 14.2.1-12.2.1 9.9.1-4.5.1-4.8.1 4.8.1-4.4.1-7.5.1 12.8.1.8.1 5.1.1 9.2.1-13.5.1 10.3.1-10.1.1-3.5.1-8.1.1 13.7.1 7.2.1-69.6.1 134.3.1-42.5.1-82.8.1 94.1.1-66.4.1 57.2.1-59 .1 45.7.1-54.2.1 48.8.1-47.5.1 46.6.1-35.2.1 25.8.1-27.5.1 30.7.1-32.7.1 31.6.1-24.4.1 26.4.1-27.8.1 30.7.1-19.9.1 13.9.1-16.1.1 19.6.1-15.8.1 12.5.1-12.1.1 9.3.1-12.7.1 7.2.1-7.6.1 12.2.1-6.8.1-8.8.1-.2.1 7.5.1-1.2.1 11.2.1-5.6.1-30.7.1 34.1.1 18.6.1-44.9.1 33.9.1-23 .1 15 .1-19.5.1 31.8.1-24.2.1 18.9.1-17.5.1 3.7.1-7.9.1 19.7.1-16.5.1 14.8.1-12.7.1 6.1.1-7.2.1 9.8.1-12.8.1 13.2.1-13.8.1 12.8.1-6.4.1 5.5.1-4.8.1 4.5.1-9.5.1 10 .1-11.7.1-.7.1 5.6.1 5 .1-2.8.1-2.7.1.9.1 6.7.1 6.7.1-14.5.1 7.9.1-5.4.1 9.2.1-8.9.1-7.6.1 7.1.1-10.7.1 3.8.1 8.7.1 2.7.1-8.9.1 7.7.1 4.5.1-5.7.1 4.5.1-10.1.1 8.7.1-5.1.1-2.2.1 15.9.1-11.2.1 1 .1-6.6.1 12 .1-16.1.1 7.9.1 4 .1 4.5.1.8.1-6.1.1-4.4.1 0 .1 4.4.1 1.1.1 4.1.1-5.5.1-4.7.1 15.9.1-5.9.1-15.5.1-.6.1 13.7.1-5.9.1.9.1-2.8.1-4.6.1 9.5.1-2.2.1-1.1.1-7.9.1 2.7.1 6.2.1 2 .1 9.7.1-15 .1 5.1.1-.5.1-2.3.1 1.6.1 4.7.1 12.7.1-24.9.1 11.5.1-54 .1 131.3.1-27.7.1-85 .1 71.2.1-69.6.1 78.4.1-68.3.1 48.2.1-43.5.1 32.2.1-46.1.1 55.8.1-49.7.1 33.3.1-32.6.1 36.9.1-30 .1 23.7.1-22.4.1 33.2.1-33.3.1 23.8.1-19.7.1 23.3.1-20.6.1 16.4.1-18.4.1 20.2.1-20.6.1 18.8.1-13 .1 5.6.1-4.3.1-.4.1-.4.1 9.3.1-8.1.1 2.4.1.3.1-1.3.1-6.8.1 3.4.1 7.6.1-6.9.1 11.3.1-2.8.1-4.7.1 5.4.1-36.5.1 29.9.1 21.6.1-30.7.1 25.5.1-28.5.1 25.8.1-20.3.1 20.4.1-28 .1 32.1.1-24.4.1 13.7.1-10.8.1 11.5.1-12.8.1 14.5.1-14.5.1 12.6.1-15.1.1 16.8.1-14.5.1 8 .1-6.2.1 12.3.1-9.2.1 7.7.1-8.3.1 7.2.1-6.8.1 1.8.1-1.1.1 1.3.1 0 .1 2.6.1 1.4.1-4.2.1 1.3.1 3.9.1 3.1.1-5.2.1-3.6.1 7.4.1-7.5.1 6.6.1.3.1-3.4.1 2.1.1-5.3.1-11.2.1 28.9.1-8.2.1-12 .1-3.9.1 14.8.1-9.7.1 2.9.1-.3.1-4.3.1.5.1 5.1.1-.7.1 5.5.1-3.7.1-4 .1-.1.1-3.9.1 2.6.1 1.7.1-4.1.1 13.9.1-3.7.1.3.1-2.1.1-29.8.1 66.6.1-23.2.1-25.2.1 31.1.1-45.5.1 31.1.1-19.6.1 20.4.1-26.7.1 32.3.1-23.8.1 22.3.1-19.1.1 9.1.1-11.1.1 19.1.1-18 .1 10.7.1-8.6.1 11.4.1-8.7.1 8.2.1-6.3.1 8.7.1-15.6.1 11 .1-5.5.1 8.2.1-8.3.1 4.3.1-7.8.1 9.8.1-4.2.1-1.2.1-3.5.1 7.7.1 1.9.1-1.5.1-6.6.1 6.6.1-14.9.1 8 .1-1.6.1 4.8.1-5.6.1 7.6.1 4.8.1 8.5.1-26 .1 16.7.1-8 .1 6.6.1-4 .1-4.3.1 5.3.1-2.3.1 8.4.1-4.4.1-9.6.1 3.3.1 2.9.1-5.5.1 6.3.1-2.7.1-4.2.1-1.5.1 7.6.1 2.7.1 1.1.1-4.6.1 2.2.1-.5.1-63.5.1 114.7.1-12.6.1-63.4.1 55.8.1-58.7.1 55.2.1-41.7.1 30.3.1-41.2.1 42.9.1-39.2.1 30.1.1-28.9.1 39.7.1-38.8.1 30.5.1-22.9.1 21.2.1-20.1.1 20.9.1-20.4.1 17.7.1-12.1.1 10.2.1-13.7.1 11.2.1-12.1.1 11.9.1-6.8.1.9.1-7.4.1 7.8.1-2 .1 7.1.1-6.6.1 3.4.1 1.9.1-5.3.1 3.7.1-3.6.1-3 .1 1.9.1 14.5.1-20.7.1.1.1-5.1.1 15.2.1 17.2.1-33.2.1 31.7.1-13.7.1-3.7.1-5 .1 1 .1 1.8.1 14.9.1-4.7.1 1.3.1-4.2.1-3.4.1-11.6.1-6.3.1 12.5.1 6.1.1-7.4.1 5.9.1-2.2.1 4.2.1-.1.1-10.2.1 10.2.1-.4.1-2.3.1 5.2.1-10.2.1 14.1.1-8.7.1-.1.1 7.3.1 1.6.1-8.3.1-6.1.1 6.3.1-4.8.1 3.2.1 9.8.1-2.5.1-5.3.1 2.8.1-19.5.1 19.7.1-6.9.1 1.8.1 2.2.1-.3.1 9.1.1-19.4.1 13.5.1 4.1.1-57.6.1 97.2.1-30.4.1-48.4.1 53.4.1-38 .1 46.2.1-47.2.1 39 .1-33.6.1 28.8.1-28.2.1 20.2.1-12.5.1 8.4.1-14.5.1 22.3.1-17.8.1 11.8.1-13.1.1 19.8.1-16.6.1 9 .1-13.8.1 12.1.1-16.7.1 16.4.1-12.6.1 11.3.1-3.1.1-2.8.1 1.7.1-7.8.1-1.3.1-.1.1 6.7.1 14.8.1-7.9.1-14.1.1 8 .1-10.1.1 23.2.1-23.1.1 17.1.1-14.9.1 23.5.1-2.2.1-17.4.1-4.8.1 20.2.1-20.6.1 18.4.1-20.2.1 14.9.1 1.3.1-85.6.1 180.2.1-49.3.1-79 .1 62.3.1-59.8.1 74.3.1-73.8.1 62.4.1-55.4.1 34.1.1-33.7.1 48 .1-62.6.1 49.3.1-40.1.1 46.9.1-40.8.1 36.5.1-19.6.1 16.2.1-28.1.1 27.2.1-19.2.1 18.8.1-27.8.1 30.2.1-25.5.1 20.4.1-18 .1 14.4.1-10 .1 7.2.1-2.8.1 3.8.1 6 .1-10.7.1 4.6.1 11.7.1-4.8.1-1.5.1-16.1.1-16.5.1 9.2.1 16.5.1-3.6.1 18.7.1-27.6.1 9.6.1-1.6.1-8 .1 9.2.1-4.9.1 11 .1-26.5.1 9.7.1 13.1.1-4.5.1 5.5.1-10.7.1 12.1.1-17.7.1 12.6.1 11.4.1 1.2.1-8.3.1 2.9.1 2.2.1-15.3.1 27.2.1-4.5.1-10 .1-68.8.1 127 .1-29 .1-54.2.1 59.7.1-74.4.1 63.8.1-44 .1 31.1.1-31.6.1 33.7.1-29.5.1 33.5.1-39.4.1 30.1.1-21.8.1 28.6.1-37.4.1 27.5.1-19.1.1 18.7.1-16.8.1 19.2.1-20.3.1 13.8.1-19.1.1 18.5.1-10.2.1 7.1.1-9.2.1 9.7.1-6.1.1-4.7.1 13.9.1-8.9.1-1.1.1 10.7.1-17 .1 14.2.1-8 .1-7.5.1-1.4.1 11.9.1-4.6.1 12.2.1 11.2.1-10.2.1-14.4.1 12.4.1-18.7.1 2.7.1 11 .1 21.8.1-21 .1 12.1.1-25.6.1 20.2.1-8.2.1 6.7.1-.8.1-8 .1-.7.1-2.6.1 14.9.1-11 .1 16 .1-6.4.1-14.2.1 1.9.1-18.4.1 20.9.1-19.4.1 19.2.1-1.6.1-6.5.1 9.6.1 9.8.1-40.7.1 35.5.1 7.9.1-22.4.1 31.8.1-35.5.1 28 .1-20.3.1 17.2.1-26.1.1 27.6.1-16.4.1 17.8.1-20.3.1 16.7.1-14.1.1 14.6.1-17.4.1 14.2.1-7 .1 7.1.1-8.4.1 9.9.1-11.2.1 7.1.1-7.2.1 4.2.1-8 .1 9.4.1-5.7.1 5.7.1-6 .1 5.9.1 5.8.1-2.6.1-3.8.1-1.6.1.4.1-7.6.1 13.8.1-12 .1 5.8.1 2.6.1-.2.1 5.7.1-9.5.1-115.8.1 169.8.1 28.9.1-161.5.1 145.7.1-126.3.1 125.3.1-117.2.1 78.9.1-56.2.1 68 .1-61.7.1 41.5.1-55.7.1 74.7.1-57.6.1 38.2.1-32.1.1 35.1.1-31.8.1 33.6.1-44.3.1 44.3.1-32.2.1 31.6.1-40.3.1 27.9.1-28.6.1 34.2.1-21.3.1 17.6.1-23 .1 12.4.1 8.3.1-18.5.1 3.5.1 18.8.1-12.9.1 2.8.1-10.7.1 12.3.1-3.8.1-7.7.1-4.4.1 7 .1-2.6.1 10.2.1 4.8.1-15 .1 7.1.1-6.4.1 2.1.1.5.1 1.3.1.7.1 6.9.1-1.6.1.3.1-7.5.1 7.5.1 1.5.1-12.4.1 15.6.1 4.2.1-28.9.1 22.8.1-7.9.1-6.2.1 13.4.1-5.9.1-10.9.1 14.6.1-2.5.1 6.2.1-13.7.1.4.1 1.3.1 15.4.1-19.3.1-1.5.1 3.3.1 6.9.1-5.5.1-3.3.1 7.8.1-5.4.1 1.3.1 2.5.1 8.8.1-3 .1-5.3.1-3.4.1 7.4.1-8.2.1 3.7.1-2.7.1-5.4.1 17.4.1-10.7.1 3.5.1-4.6.1-3.4.1-22.2.1 58.8.1-6 .1-43.1.1 27.9.1-18.1.1 25.8.1-20.6.1 17.6.1-18.3.1 19.1.1-20.9.1 18.5.1-17.6.1 14.7.1-12.9.1 10.5.1-7.3.1 4.7.1-9.6.1 12.1.1-12.3.1 12.5.1-9.9.1 7.2.1-5.3.1 5.2.1-2.3.1.9.1-6.9.1 7.7.1-1.9.1 3.1.1 10.5.1-7.7.1-2.4.1 5 .1-5.4.1-9.4.1 13.6.1-15 .1.9.1 9.4.1-8.7.1 5.7.1 11.6.1-6.3.1 6.7.1-.8.1-9.2.1 16.6.1-21.7.1 7.2.1.2.1-1.1.1 5.5.1-3 .1-8.5.1-8.5.1 18.1.1-10.8.1 5.9.1-.2.1-2.4.1 10.3.1-8.2.1-7.9.1 5.8.1.2.1 7.5.1-4.4.1-9.9.1 16.9.1-2.9.1-34.8.1 61.1.1-20.4.1-35.4.1 34.6.1-28.3.1 28.6.1-20.4.1 16.5.1-13 .1 12.6.1-15.1.1 16.5.1-19 .1 17.6.1-16.8.1 17.5.1-16.1.1 16.8.1-12.8.1 8.1.1-7.4.1 8.8.1-6.2.1 4.9.1-7.2.1 7.6.1-7.8.1 7.1.1-3.8.1 2.5.1-2.7.1 7.1.1-9.6.1 4.1.1-3.9.1-2 .1 3.4.1.2.1 2.4.1-5.1.1 8 .1 2.5.1-10.9.1-1.7.1 5.2.1 2.7.1-3.8.1-1.8.1 1.9.1-10 .1 15.5.1-3.5.1-5.7.1 3.3.1-7.6.1 11.2.1-3 .1 1.3.1 2.6.1-4.6.1-5.6.1 8.8.1-3.9.1-2.3.1 11.4.1-15.9.1 9.6.1 4.3.1-2.2.1.3.1 9.4.1-17.1.1 7.3.1-2.8.1-27.4.1 56.6.1-18.2.1-22.6.1 29.1.1-30.5.1 25.1.1-17.4.1 15.2.1-13 .1 13.1.1-20 .1 17 .1-10.8.1 10.9.1-12.1.1 13.7.1-8.7.1 3.2.1-4.5.1 7.8.1-9.5.1 8.9.1-7.3.1 6.7.1-5.9.1 8.3.1-11.1.1 9.3.1-9.3.1 6.1.1-3.1.1 2 .1-1.3.1-7.1.1 20 .1-14.7.1 6 .1-1 .1-3 .1-4.4.1 1 .1 1.2.1-.8.1 2.8.1 4.2.1-8.9.1 7.1.1-10.1.1 3.1.1 4.2.1-4 .1 5.2.1 7.4.1-11.7.1-1.8.1 3.5.1-1 .1-6 .1 7 .1 2.8.1 1.9.1-5.1.1 7.9.1-5.6.1-6.8.1 4.8.1-2.7.1 4.6.1 4.1.1-7.3.1 3.3.1-1.4.1-42 .1 75.5.1-12.3.1-36.1.1 44.8.1-52.3.1 35.2.1-30.2.1 40.5.1-38.3.1 26 .1-21.8.1 22.2.1-21.4.1 18.9.1-19.3.1 22.9.1-14.2.1 16.5.1-25.6.1 19 .1-9.3.1 7.7.1-10.6.1 12.3.1-12.5.1 8.6.1-4.7.1 8 .1-9.4.1 6 .1-6.4.1 3 .1 5.3.1-1.7.1-10.2.1 3.5.1-4.4.1 7 .1-2.4.1.8.1-1.7.1-8.9.1 10.6.1-4.2.1 4.6.1-4.2.1-.4.1 6.3.1-1.2.1-5.1.1 7.2.1-6.6.1 5.9.1-2.2.1 5.5.1 2.4.1-11.6.1 3.4.1 4.7.1 1.8.1 2.8.1-8 .1 10 .1-13.4.1 3.6.1-4.3.1-23.1.1 66.5.1-27.4.1-29.1.1 34.5.1-35.9.1 38.6.1-31.3.1 29.1.1-29.3.1 27.5.1-24.7.1 16.9.1-14.5.1 13.5.1-12.3.1 15.3.1-11.1.1 15.1.1-20.3.1 13.5.1-12.2.1 14.3.1-15.4.1 11.1.1-7.3.1 13.8.1-13.2.1 6.3.1-4.1.1 6.3.1-10 .1 2.3.1 13.6.1-6.2.1 6.7.1-14.8.1 9.8.1-2.1.1-5 .1 5.3.1-4.3.1-3.8.1 10 .1-11.1.1 4.3.1-8.4.1 16 .1-1.6.1-8.9.1-3.4.1 13.3.1-6.6.1.3.1 7.7.1-6.8.1-4.5.1 9.5.1-7.2.1 4.9.1-2.5.1-4 .1 6.9.1-7.3.1-5.5.1 3.9.1 7.9.1 7.6.1-5.1.1-2.2.1-3.7.1 4.5.1-8 .1-4.1.1 15.2.1-7.5.1 2.4.1 2.6.1-15.2.1 8.7.1 11.3.1-11.9.1 8.4.1-6.5.1-16.6.1 44 .1-11.7.1-30.4.1 32.1.1-28.6.1 21.2.1-22 .1 14.5.1-14.1.1 15.8.1-16.7.1 20.3.1-14.9.1 10.7.1-13.5.1 13.3.1-10 .1 11 .1-6.5.1 9.9.1-12 .1 8.9.1-8.7.1 6.1.1-9.5.1 8.8.1-4.8.1 7 .1-5.2.1 7 .1-8.9.1 3.1.1 15.4.1-13.4.1-3.9.1 4.8.1-5.4.1 2.6.1 3.1.1 4.4.1-1.2.1-7.3.1 2.8.1-4.9.1 7.2.1-10 .1 3.2.1-5.9.1 23.2.1-16.8.1-2.5.1 5.2.1-.3.1 2.2.1-.6.1-1.1.1 2.3.1 6.2.1-12.6.1 13.4.1-3.4.1-7.3.1 3.8.1 1.5.1 9.7.1-13.3.1 2.9.1.9.1 8 .1-12.5.1-102.8.1 144.7.1 5.9.1-86.9.1 96.7.1-79.3.1 65.1.1-81.4.1 58.2.1-54 .1 67.8.1-75.3.1 65.6.1-54.9.1 64.3.1-46.8.1 38.3.1-35.9.1 27 .1-29.1.1 24 .1-20.8.1 27.7.1-33.1.1 33.2.1-23.7.1 22 .1-26.8.1 20.1.1-17.5.1 14.4.1-9.5.1 3.5.1-1.1.1-7.1.1 31.7.1-18 .1-.6.1.5.1-9.2.1-1.9.1 18.7.1-17.1.1 7.6.1 4.5.1-12.9.1 6 .1-7.3.1 4 .1 2.3.1-3.5.1 7 .1 1.5.1 7.4.1-10.9.1-11.6.1 19.9.1-16.3.1 3.6.1-2 .1 15.6.1-20.8.1 6 .1 9.1.1 6.4.1-5 .1-7.6.1-2.3.1 8.9.1-5.1.1 6.2.1-3.1.1 12.5.1-7.8.1-3.1.1 1.4.1-8.9.1 5.3.1-4.7.1 17 .1-11 .1 2.5.1 16.7.1-8.6.1.9.1-21.9.1 24.8.1-18.5.1-.6.1 8.7.1-17.7.1 14.7.1 1.9.1-11.5.1 2.9.1 11.8.1-63 .1 100.6.1-.8.1-80.8.1 63.6.1-48.9.1 36 .1-30.7.1 24.2.1-26.5.1 28.2.1-27.5.1 19.5.1-19.2.1 27.4.1-12.1.1 6.3.1-7.9.1 10.1.1-17.1.1 23.6.1-23.3.1 22.5.1-22.6.1 18.2.1-16.1.1 9.7.1-13.5.1 14.8.1-7.5.1 10.3.1-15.7.1 19.7.1-16 .1 5.9.1-14.3.1 3.7.1 17.8.1-9.2.1-7.2.1 5.8.1-7.2.1 27.6.1-20.9.1 1.5.1-5 .1 7.3.1-10.8.1 2.7.1 1.9.1 13.6.1-12.4.1 2.2.1-35.3.1 68.8.1-2.8.1-53.9.1 33.7.1-18.6.1 21.9.1-34.2.1 32.4.1-30.8.1 29.9.1-12.4.1 15.1.1-18.9.1 11.3.1-15.9.1 18.1.1-14.6.1 10.8.1-6.8.1 6.8.1-9.9.1 10 .1-6.3.1 4.6.1-3.9.1 7.3.1-11.4.1 10.4.1-3.9.1.2.1-4.8.1 1.7.1-16.9.1 7.4.1 9.3.1.7.1 10.2.1-21 .1 14.5.1-7.1.1 8.8.1-16.3.1 9.7.1.5.1-.7.1-4.2.1-8.4.1 1.8.1 14.2.1-4.1.1-2.7.1 15.6.1-10.2.1 8.5.1-3.2.1-4.8.1 10.9.1-7.4.1-.2.1 2.2.1-9.2.1 3.3.1 6.2.1-3.5.1-7.5.1-2 .1 11.6.1-4.6.1-8 .1-8.9.1 18.3.1-10.6.1 9.8.1.1.1-5.7.1 1.7.1 16.7.1-25 .1 13.6.1-6.4.1 0 .1 5.2.1-1.8.1 2.8.1-6.3.1-5.5.1 2.9.1-11.9.1 22.1.1-10.7.1-1 .1 6.6.1-4.4.1 6.1.1 4.7.1-2.2.1-14.6.1-37.3.1 92.1.1-10.4.1-42.2.1 34.6.1-46.1.1 48.6.1-38.1.1 22.4.1-20 .1 26.8.1-36.6.1 33.7.1-22.1.1 17 .1-19.4.1 20.9.1-20.2.1 15.3.1-19.9.1 20.1.1-16.1.1 21 .1-20.8.1 11.1.1-8.2.1 11.1.1-6.2.1 6.3.1-11 .1 7.6.1-6.3.1 4.3.1-7.2.1 9.7.1-.3.1-5.5.1-6 .1 10.8.1-4.2.1 10.3.1-10.8.1 12.4.1 1 .1-1.5.1-10.7.1 3.9.1.1.1 1.8.1-4 .1 5.4.1-1.7.1-.1.1 4.7.1-.2.1-2.9.1-4.8.1-52.2.1 97 .1-23.9.1-34.4.1 39.5.1-47.9.1 39.9.1-33.6.1 33.5.1-37.2.1 32.2.1-24.6.1 22.3.1-21.6.1 23.2.1-26.6.1 32.8.1-20.9.1 10.4.1-18.7.1 19.8.1-9.9.1 9.4.1-11.4.1 7.5.1-12 .1 19.7.1-15.3.1 11.4.1-8.1.1 5.9.1-9.6.1-5.7.1 9 .1 6.3.1-3.5.1-3.4.1 1 .1 3.9.1.7.1.5.1-6.3.1 4.8.1 3.7.1.6.1-6.1.1-2.4.1 9.1.1-12.4.1 18.3.1-18.6.1.3.1 7.9.1-6.2.1.2.1 6.3.1-4.2.1 5 .1-5.8.1 1.2.1 10.4.1-6.8.1.2.1-6.9.1 4.2.1-4.5.1 6.8.1 1.7.1-2.1.1-8.3.1 5.5.1.7.1-1.3.1-.9.1-23.5.1 68.1.1-13.2.1-42.2.1 36.8.1-40.6.1 31 .1-40.5.1 46.2.1-39.1.1 31.9.1-19.9.1 16.9.1-23.1.1 20.3.1-13.4.1 18.7.1-26 .1 21.1.1-12.3.1 14.3.1-18.4.1 11.7.1-10.6.1 13 .1-8.4.1 7.7.1-8.9.1 10.2.1-9.1.1 5.7.1-4.3.1-2.1.1 2.4.1 1 .1 5.9.1-7.4.1-.1.1 9.3.1-11.2.1 9.4.1-1.9.1-5 .1 8.1.1 4.1.1-13.2.1-2.8.1 13.8.1-15.9.1 13.4.1-9.6.1 5.3.1-1.2.1-3.3.1 9 .1-1.7.1 7.2.1-3.6.1.6.1-17 .1 15.5.1-7.2.1 6.8.1-4.1.1-9.9.1 5.2.1 1.3.1 1.2.1 2.8.1-6.8.1 14 .1-68.5.1 125.8.1-25.4.1-88.6.1 89.7.1-78.7.1 70.6.1-66.6.1 56.2.1-44.5.1 35.5.1-43 .1 41.5.1-26.2.1 23.7.1-20.8.1 17 .1-11.6.1 12.9.1-15.8.1 16.8.1-23.7.1 21.3.1-17.5.1 19.9.1-16.4.1 14.4.1-16.8.1 20.2.1-16.4.1 9.4.1-9.1.1-3 .1 7.5.1 6.1.1-1.8.1 3 .1-8.3.1 3.8.1-5.8.1 2.9.1 0 .1 10 .1-3 .1-9.4.1-2.8.1 8.4.1-12.6.1 19.5.1-11.2.1 11.6.1-9.7.1-5.7.1 5.3.1 1 .1 7.4.1-3.3.1-2.2.1 3.9.1.3.1-12.9.1 14.6.1-9 .1-4.6.1-.2.1-.5.1 2.6.1-.7.1 7.6.1-8.7.1 3.3.1-1.8.1 6.5.1-7 .1 7.4.1-4.6.1-1.4.1.2.1-3.2.1.1.1.8.1.1.1 14.8.1-15.1.1 1.9.1-1.4.1 1.3.1 1.6.1 2 .1 2.5.1-11.2.1 8.5.1-10.3.1 7.5.1-4.3.1-37.9.1 91 .1-29.2.1-43.6.1 47.8.1-34.5.1 33.3.1-32.5.1 29.8.1-41.6.1 44.2.1-36 .1 22.3.1-19.1.1 23.7.1-17.5.1 15.3.1-19 .1 18.4.1-20.9.1 21 .1-22 .1 18.9.1-12.7.1 9.4.1-6 .1 6.5.1-7.1.1 9 .1-7 .1 4 .1-4.7.1-1.2.1 4.6.1.1.1.6.1-16.4.1 3.6.1-5.3.1 6.8.1 2.5.1-3.4.1.5.1 6.4.1-2.8.1 5.8.1-3.5.1-.3.1.8.1-4.2.1 8.7.1-1.1.1-.4.1-4.9.1 4 .1-11.5.1 9.1.1-6 .1 3 .1-3.7.1 18.6.1-11.2.1 2.5.1-2.3.1-2.3.1 3.2.1 6.2.1-9.3.1 10 .1-13.8.1 9 .1-5.9.1-2.6.1 3.9.1 3.3.1-3.2.1 3.5.1-1.5.1 5.3.1-.6.1 4.1.1-7.2.1-2 .1 3.2.1 2.9.1-11.3.1 3.4.1-5.5.1-3.6.1 22.8.1-11.9.1-3.6.1 4.6.1 1.9.1-10 .1 6.3.1 4.3.1-.9.1-9.9.1 10.5.1-7.9.1-2.4.1 7 .1 6.1.1-9.6.1 9.1.1-.8.1-7.5.1 2.4.1.5.1 1.2.1-.1.1 7.1.1-6 .1 3 .1 1.3.1-3.7.1 1 .1-9.9.1 3.1.1-4.1.1 7.3.1-3.5.1 2.4.1-5.2.1 3 .1 2.1.1-.2.1 3.7.1-9 .1 7.6.1-61.2.1 132.5.1-51.7.1-57.8.1 70.4.1-52.8.1 57.5.1-64.8.1 48.5.1-35.7.1 45.7.1-43.1.1 28.1.1-31.2.1 34.2.1-28.7.1 22.6.1-27.8.1 29.7.1-19.4.1 21.5.1-26.7.1 18.1.1-18.4.1 23.1.1-21.3.1 16.8.1-10 .1 9.2.1-8.9.1 2.7.1-6.2.1-1.1.1 12.5.1-10.9.1 2.9.1-.2.1-10 .1 10.9.1 8.3.1 5 .1-10.8.1-9.1.1 11.9.1 2.2.1-6.8.1-.7.1-.3.1-8.4.1 10.8.1-3.1.1-1.3.1-3.4.1 1.3.1 8.7.1.7.1-17.6.1 11.7.1 5.8.1-6.1.1-2.1.1.1.1 12.7.1-13 .1 17.8.1-11 .1 3.7.1.9.1-.8.1-8.1.1 2.2.1 15.4.1-5.2.1-1.8.1-5.7.1 12.3.1-22.7.1 19.9.1-17 .1 20.1.1-18.8.1 6 .1-9.5.1 7.7.1-2.5.1.1.1 8.2.1-2.5.1-8 .1-1.4.1 4.8.1 5.2.1-11 .1-3.2.1 6.4.1 4.7.1 13.9.1-2.7.1-13.4.1-2.1.1 3.2.1 2.6.1 9.1.1-5.3.1-6.6.1-7.4.1 15 .1-.2.1-22.4.1 18.4.1-10.7.1 1.5.1 3.4.1 3.9.1 3.2.1-13.7.1.8.1 32.4.1-118.4.1 148 .1 14.5.1-93.6.1 84.1.1-96.8.1 62.6.1-46.7.1 40.3.1-36.8.1 59.8.1-63.6.1 52.4.1-48.2.1 41.2.1-46.7.1 36.5.1-37.5.1 37.7.1-25.1.1 33.5.1-42.8.1 36.4.1-20.2.1 19.9.1-18.1.1 19.4.1-20.3.1 12.8.1-15.5.1 22 .1-19.6.1-2.5.1-47.8.1 89.8.1 16.8.1-75.5.1 46.2.1-50.1.1 46.6.1-46.7.1 47.5.1-33.4.1 23.6.1-22.9.1 25.4.1-27.5.1 25.1.1-16.6.1 15.8.1-19.2.1 11.1.1-4.5.1 17.8.1-18.9.1 14.4.1-18.9.1 18.3.1-12.7.1 12.8.1-8.5.1 3.8.1-9.5.1 12.3.1-10.4.1-6.9.1 7.3.1 12.3.1-14.7.1 6.1.1-1.8.1-2.3.1 1.5.1 2.7.1 8.3.1-10 .1 14.3.1-7.1.1-11 .1 10.9.1-3.8.1-8.2.1 11.4.1-3 .1 6.7.1-2.3.1-15.1.1 3.2.1 1.3.1 21 .1-30.3.1 8.6.1 7.9.1-3 .1-8.8.1 4.1.1 5.9.1-8.7.1 24.4.1-13 .1-12.6.1 27.1.1-15.4.1 3.7.1-31.7.1 68.8.1-9.8.1-54.9.1 41.4.1-47.3.1 37.2.1-22.4.1 25.1.1-23.1.1 17.2.1-24.5.1 31.6.1-24.3.1 25.8.1-25.3.1 19.4.1-15.7.1 12.7.1-8.9.1 3.4.1-4.8.1 10.2.1-12.5.1 11.5.1-12 .1 8.4.1-4.1.1 9 .1-11.8.1 12.7.1-8.5.1-6.7.1 11.4.1 8 .1-23.1.1 13.3.1 3.2.1-6.3.1.2.1 7.8.1-.8.1-2.1.1 5.4.1-3.8.1 5.9.1-3.7.1-.1.1-12.7.1 4.1.1 8.5.1-11.1.1 7.6.1-5.2.1-3.7.1 16.4.1-14.9.1 2.8.1 5 .1 2.2.1-6.4.1-2.8.1 7.5.1-13.7.1 12.1.1 8.3.1-9.6.1-3.8.1 5.8.1-6.2.1 18 .1-19 .1 9.1.1.7.1-11.9.1 11.7.1-9.6.1 7.7.1-33.3.1 37.1.1 2.9.1-26.5.1 31.9.1-28.3.1 23.1.1-21.8.1 16.8.1-12.6.1 14.4.1-20.7.1 17.4.1-13.2.1 12.6.1-16 .1 17 .1-8.1.1 12.9.1-19.1.1 13.5.1-5.2.1 2.6.1-2.1.1 5.3.1-7.1.1 7.6.1-6.7.1 4.7.1-2.3.1-.3.1-3 .1-.9.1 11 .1-21.2.1 19.4.1 3.9.1-11.9.1 3 .1 5.5.1-10.6.1 5.1.1 4.7.1-5.8.1-2.8.1 8.7.1-2.7.1 4.5.1-4.3.1-4 .1 11.9.1-15.9.1 6.3.1-11.9.1 12 .1 3.6.1-10 .1-2.2.1 1.8.1 2.8.1-7.2.1 11.5.1.5.1-.1.1-4.1.1-3.6.1 6.2.1-2.6.1 3.3.1 7.7.1.4.1-10.9.1-13.6.1-18.7.1 43.1.1 4.8.1-24.7.1 27.3.1-29.9.1 29 .1-23.8.1 16.1.1-14.3.1 13.4.1-19.3.1 19.8.1-17.5.1 16.1.1-17.9.1 14.6.1-9.8.1 10.8.1-8.8.1 6.7.1-11.9.1 14 .1-9.1.1 7.5.1-6.1.1 7.8.1-10.3.1 8.4.1-5.3.1 4.7.1-5.5.1 4.3.1-5.1.1.9.1 2.6.1 1 .1-4.9.1-3.3.1-3 .1 14 .1-7.9.1 2.4.1-3.2.1-3.4.1 5 .1 1.1.1-5 .1 2.9.1 7.1.1-7.8.1 3.7.1-9.9.1 3.8.1 4.4.1-1.4.1 8.5.1-6.9.1-.2.1 6.7.1-2.8.1-5.9.1-3.7.1 12.4.1-8.4.1-2.7.1.7.1 5.7.1-7 .1-.2.1 4.4.1 6.6.1-9.9.1-38.9.1 83.2.1-16.1.1-34.7.1 26.4.1-21.2.1 18.5.1-34.9.1 40.9.1-30.5.1 23.3.1-24.1.1 22.6.1-21.6.1 21.5.1-13.3.1 15.7.1-20.8.1 22 .1-14.1.1 10.9.1-12.3.1 5.1.1-7.5.1 11.4.1-10.5.1 7 .1-7.7.1 13.3.1-11.1.1 6.5.1-7 .1.8.1 3.1.1-1.1.1-6.7.1 1.4.1 2.5.1-.1.1-3.3.1 3.2.1 5.9.1-9.3.1 1.5.1 4.5.1 1.9.1-6.8.1 4 .1 10.8.1-12.6.1 2.9.1 5.2.1-.3.1-5.4.1-8.7.1 10.1.1 8.4.1-12.5.1 9.2.1 2.6.1-6.3.1-7.1.1 3.6.1-4.2.1 9.4.1-3.7.1-.7.1 2.9.1-.7.1-.5.1 5.9.1-1.9.1 2.8.1-4.8.1-5.8.1 3.6.1-36.1.1 75.4.1-24.7.1-31.7.1 42.1.1-45.3.1 34.5.1-19.2.1 21.9.1-29.7.1 22.9.1-19.9.1 24.1.1-20.2.1 20 .1-22.3.1 18.7.1-15.6.1 16 .1-19 .1 11.7.1-6.6.1 10.5.1-10.4.1 10.4.1-9.3.1 5.7.1-5.1.1 6 .1-4.2.1 6.3.1-8.9.1 2.2.1 4.6.1-9.3.1 12.9.1-4.2.1 3.2.1-8.7.1-3.1.1 6.2.1-1 .1 5.2.1-4.6.1-3.4.1 5.9.1 5.4.1-11.1.1 5.6.1-2.8.1-3.5.1 7.1.1-4.8.1 7.7.1-9.8.1 0 .1 7.7.1 5.9.1-.8.1-6.1.1-5.3.1-2.8.1-1.4.1 11.3.1-2.7.1-1.7.1 3 .1-8.7.1-2.8.1 13 .1-7.1.1 3.4.1-4.5.1-23.1.1 34.1.1 12.8.1-26.9.1 19.8.1-21.9.1 20.7.1-21 .1 16.5.1-20.2.1 18.4.1-14.2.1 15.2.1-11.4.1 10.5.1-11.3.1 7.9.1-5 .1 11.1.1-15.5.1 8 .1-2.8.1 5 .1-5.9.1 6.9.1-8.4.1 5 .1-6.3.1 6.8.1-1.1.1 2.7.1-4.3.1 5.4.1-8.3.1 2.9.1 1 .1 7.1.1-6.1.1-7.3.1-.9.1 8 .1 5.8.1-12.4.1 2.4.1 6.9.1-5.9.1 12.5.1-18 .1 7.3.1 4.5.1-4.9.1 11.1.1-14.7.1-5.3.1 8.7.1 5 .1-3.2.1-4.5.1 4.1.1.1.1-2.4.1 2.9.1-4.6.1 1.9.1 4.6.1-12.8.1 8.6.1.4.1-5 .1-45.9.1 90.1.1-19.7.1-55.4.1 60 .1-53.1.1 53.7.1-48.9.1 36.5.1-35.6.1 35 .1-21.7.1 28.2.1-24.2.1 20.4.1-24.3.1 24.6.1-20.3.1 18.4.1-18.6.1 11.7.1-10.8.1 13.4.1-17.9.1 19.1.1-12.1.1 9.2.1-13.4.1 11.5.1-6.5.1 8.5.1-7.6.1.6.1-3.8.1 1.8.1.5.1-2.3.1-8 .1 14.8.1-2.8.1-5.7.1 1.5.1 13.6.1-10.1.1.1.1-2.3.1 5.2.1-9.1.1 12.3.1-4.2.1-1.7.1-14 .1 14.1.1-7.4.1 13.7.1-7.5.1.5.1.6.1.8.1-.7.1 0 .1.5.1-6.5.1-3 .1 12.7.1-8.8.1 2.7.1 3.2.1 2.8.1-10.9.1 8.8.1-1.6.1-4.5.1 7.3.1-3.6.1 5 .1 1.8.1-6.9.1 8.2.1-1.7.1-10.1.1 7.5.1-6.9.1 1.4.1 6.9.1-8.5.1-.2.1 8.2.1-8 .1 3.9.1-6.4.1 14.8.1-11.9.1 13.4.1-10.3.1-.3.1-8.6.1-44.8.1 92.5.1-7.4.1-58.3.1 40.7.1-32.1.1 35.9.1-44.7.1 43.1.1-27 .1 28.4.1-25.6.1 28.8.1-37.6.1 26.7.1-20.7.1 25.6.1-20.2.1 19.6.1-25.3.1 20.4.1-18.5.1 18.8.1-18.7.1 17.2.1-14.2.1 17.5.1-14.4.1 8.1.1-9.3.1 13.2.1-11.6.1 3.9.1 2.7.1-1 .1-3.1.1-2.4.1 2.1.1-3.7.1 8.3.1-8.8.1 2.1.1 6.1.1-7.2.1 8.8.1-4.4.1.6.1 6.6.1-7.5.1-1.6.1 1.7.1 2.3.1-3 .1-.5.1-1.6.1 1.5.1 3.8.1 8.5.1-17.7.1 3.9.1 4.5.1 6 .1-50.7.1 95.4.1-13.8.1-47.5.1 41 .1-48.9.1 43.1.1-44.5.1 35.1.1-28.9.1 28.9.1-24.3.1 31.5.1-32.5.1 26.6.1-22.8.1 18.6.1-22.9.1 16.1.1-12.9.1 14.8.1-12.8.1 9.3.1-12 .1 17.2.1-13.6.1 6.5.1-4 .1 5 .1-5.5.1 5.1.1-7.3.1 10.7.1-4.1.1-5 .1 8.2.1-6.2.1-.4.1 4.7.1-4.5.1-2.2.1 3.4.1 8.6.1-6.9.1 4 .1-2.2.1 1.4.1-9.6.1-.6.1 13.4.1-15.8.1 4.9.1 1.5.1-5.3.1 7 .1-4.2.1 2.6.1-11.8.1 8.5.1.8.1.2.1 3.3.1 3.5.1 1.5.1-10.2.1 3.6.1-5.2.1 10.2.1-13.7.1 8.7.1.8.1-4.3.1-8.2.1 4.9.1 2.6.1 9.9.1.6.1-3.4.1-11.3.1-1.1.1 17.7.1-8.8.1-41.6.1 77.7.1-8.7.1-54.6.1 46.4.1-34.1.1 41.1.1-44.5.1 36.7.1-24.1.1 26.7.1-36 .1 34.4.1-25.6.1 14.8.1-12.4.1 14.3.1-14.8.1 13.7.1-11.9.1 11.3.1-11.9.1 14.8.1-12.8.1 9.3.1-10.6.1 12.4.1-12.3.1 11.2.1-13.3.1 10.4.1-7.1.1 4.3.1-3 .1 3.9.1-1.2.1-1.7.1 7.1.1-19.3.1 3.8.1 3.7.1-1.7.1 9.1.1-.6.1 1 .1-11.7.1 10.4.1 4.7.1-10.2.1 5.6.1-3.3.1 2.2.1-4.2.1 6.6.1-.9.1-5.8.1 4.8.1-5 .1 7.9.1 7.1.1-4.8.1-.5.1-15.6.1.9.1 10.6.1-2.9.1-1.8.1-35.5.1 88.1.1-25.4.1-50.7.1 49.7.1-36.4.1 26.2.1-31.2.1 36.8.1-38.7.1 39.3.1-35.8.1 32.1.1-20.2.1 14 .1-19.4.1 20.1.1-14.4.1 22 .1-24 .1 13.3.1-11.7.1 18.8.1-20.3.1 9.5.1-10.5.1 18.7.1-12.7.1 2.8.1-4.7.1 8 .1-7.4.1-4.4.1 13.4.1-2.8.1-5.9.1-2 .1-3.6.1 13.9.1-3.2.1 4 .1-5.3.1-6.4.1 2.7.1 8.2.1-15 .1 11.4.1 2.5.1-6.3.1 5.3.1 3.6.1-18.6.1 4.3.1 10.8.1 7 .1-14.7.1 6.7.1-8.8.1-2.1.1 10.3.1-15.1.1 12.5.1-4.4.1 16.6.1-9 .1-1.8.1.5.1-.3.1-9.2.1 3.4.1 4.7.1-3.6.1 12.5.1-47.3.1 87.7.1-27.1.1-55.2.1 61.6.1-46.3.1 43.4.1-37.2.1 26.9.1-22.9.1 21.2.1-35.6.1 29.5.1-22.5.1 20.5.1-10 .1 15.1.1-18.1.1 15.8.1-15.8.1 18.2.1-13.6.1 8.7.1-10.3.1 7.9.1-4.8.1 10.2.1-11.5.1 2.7.1-4.4.1 5.5.1-3.7.1-3.1.1-1.2.1 5.7.1 3.5.1-9.4.1 10.8.1-1.1.1-8.1.1 2.9.1-2.7.1-8.3.1 16.9.1-2.3.1-4.5.1 5.6.1.1.1.3.1-6.9.1-2 .1 9.6.1-2.2.1-9.1.1 14.5.1-3.9.1-3.6.1 14.1.1-8.1.1-4.8.1-.2.1 2.6.1-9.3.1 4.5.1 9.6.1.3.1-14.1.1 12.8.1-16.3.1 18.5.1 2.6.1-20.3.1 4 .1 20.7.1-15.3.1 3 .1-59.5.1 128.8.1-36.4.1-86.7.1 85.7.1-70.6.1 52.2.1-32.7.1 45.6.1-45.6.1 25.2.1-35.3.1 33.5.1-32.1.1 39 .1-23.6.1 22 .1-15.9.1 10 .1-11.8.1 24.1.1-33.8.1 28.1.1-23.6.1 23.9.1-30.2.1 25.5.1-20.9.1 17.6.1-17.8.1 13.7.1-6.9.1-4.3.1 9.1.1 8.2.1-14.4.1 1.8.1 3 .1 5.3.1-11.3.1 7.6.1 5.9.1-2.8.1-4.1.1 10.6.1-19.2.1 7.7.1-.4.1-3 .1 17.6.1-10.6.1-13.4.1 2.1.1 14.8.1-12.5.1 4.5.1 12.9.1-2.8.1-5.3.1 6.8.1 1.5.1-.1.1-14.5.1 15.2.1-.4.1-27.5.1 11.7.1 9.5.1-13.9.1.3.1 11.5.1-15.6.1 19.1.1-4.7.1 11.9.1-12.6.1-2.4.1-6.4.1 3.2.1-5.8.1 11.8.1 9.9.1-9.3.1-10.3.1 22.9.1-20.7.1 10.9.1 10 .1-10.3.1-77.9.1 120.8.1-9.8.1-79.6.1 72.1.1-60.4.1 65.1.1-63.7.1 65.4.1-47.8.1 48.5.1-49.8.1 26.9.1-42.7.1 55.7.1-36.3.1 16.6.1-12.7.1 18.7.1-27.9.1 26.6.1-18 .1 20.2.1-21.5.1 17.9.1-15.1.1 16 .1-15.4.1 15.4.1-13.5.1 7.7.1-10.5.1-1.6.1 13 .1 1.4.1-.8.1-15.2.1 24.2.1-23.7.1 10.9.1-12.1.1 11.3.1 17.4.1-16.1.1-4.3.1-4 .1 13 .1-5.6.1 16.3.1-4.8.1-7.5.1 14.6.1-23.6.1-3.2.1 4.1.1-.8.1-5.3.1 13.8.1.1.1 8.3.1-19.5.1-9.3.1 18.6.1 14 .1-19.2.1-3.5.1-1.3.1 15.5.1-9.3.1-.7.1 2.7.1-5.1.1-9.3.1 19 .1 7.7.1-22.1.1 11.7.1-14.3.1 10.4.1-8.7.1 7.6.1-4.8.1-1.9.1 21 .1-4.6.1-18.9.1 28 .1-19.6.1.2.1-7.5.1 10.9.1-17.3.1 23.3.1 6.9.1-24.3.1 11.9.1 7.2.1-30.2.1 7.7.1 14.1.1-6 .1 4.3.1 4.8.1-4.8.1-2.2.1 8.1.1-2.3.1-9.7.1 1.8.1 7.7.1-3 .1-.5.1 9.3.1 1.8.1-24.4.1 23.5.1-6.5.1-4.6.1 17.8.1-2.2.1-14.4.1 1.9.1-1.7.1 7.7.1 11.4.1-20 .1 1.6.1 3.5.1 9.3.1-1.1.1.2.1-3 .1 8.4.1-97.9.1 135.4.1-7.5.1-75.3.1 72.7.1-64.8.1 56.7.1-80.3.1 65.1.1-53.1.1 51.9.1-53.1.1 56.6.1-49 .1 53.4.1-51.9.1 44.3.1-35.2.1 29.7.1-26 .1 21.2.1-22.2.1 24.8.1-16.4.1 21.9.1-23.8.1 14 .1-16.5.1 15.1.1-14.2.1 14.3.1-11.4.1.4.1 11.5.1-2.4.1 8.9.1-16.7.1 4.7.1-4.8.1-8.9.1 25.7.1-16.4.1 9.8.1-13.1.1 6.4.1-6.9.1-5.6.1 17.6.1 5.7.1-1.7.1-18.3.1 1.8.1 1.7.1 3.7.1-1.5.1 6.3.1 4.6.1-8.5.1-2.2.1-5.9.1 7.1.1 13.2.1-10 .1-3.5.1-.4.1 6.5.1 3.4.1 4.8.1-30.5.1 18.5.1 17.2.1-36.7.1 14.2.1.9.1-5 .1-25 .1 39.5.1 18 .1-31.8.1 14.2.1-13.2.1 16.5.1-21.9.1 28.5.1-19.8.1 12.8.1-18.8.1 19.1.1-15.9.1 13.4.1-12 .1 15.1.1-19.5.1 14.8.1-12.3.1 7.2.1-5.9.1 10.3.1-10.6.1 11 .1-6.2.1 6.9.1-11 .1 7.9.1-8.5.1 7.2.1-5.7.1-1.6.1-.2.1 8.1.1-11.5.1 7.6.1 9.1.1-7.1.1-2.7.1-73.1.1 152.4.1-20.8.1-86.3.1 64.3.1-65.8.1 51.8.1-56.1.1 75.3.1-72.4.1 53.1.1-54.4.1 53.6.1-32.8.1 25.2.1-20.4.1 21.3.1-31.2.1 37.2.1-35 .1 27.8.1-21.6.1 23.4.1-24.4.1 21.1.1-20.8.1 18.4.1-10.5.1 10.5.1-15.4.1 13 .1-11.2.1 10.9.1-.4.1-10.1.1-2.1.1 12.1.1-8.9.1 8.4.1-5.4.1-5.7.1-4.1.1 12.1.1-3.4.1-4.5.1 16.9.1-7.9.1-3.6.1-6.1.1 5.1.1 16.9.1-11.8.1-5.9.1-.9.1 2.9.1.9.1 7.3.1-2.7.1-3 .1 5.4.1-4.6.1 5.9.1 1.8.1-12.3.1 11 .1-14.2.1 6 .1-1.9.1-.6.1 2.3.1-6.6.1 1.2.1 6.1.1-2.1.1 1.6.1 2.4.1-.1.1 3.2.1-1.1.1.9.1-11.8.1 14.2.1-8.2.1-4.7.1 1.8.1 8.3.1 1.7.1 3.9.1-5.8.1-10.6.1 2.4.1 4.4.1-3.4.1 5.5.1 2.9.1-11.9.1-.2.1 10.4.1 3 .1-10.8.1-5.3.1 4.5.1-3 .1 10.8.1.4.1-4.2.1-1.2.1 1.2.1 1 .1-12.6.1 14.8.1-27.1.1 55.5.1-21.7.1-26.3.1 37.5.1-30 .1 18 .1-21.9.1 29.3.1-24.1.1 15.7.1-15.7.1 16.1.1-17.6.1 15.5.1-10.9.1 10.4.1-11.4.1 11.6.1-9.8.1 10.5.1-9.3.1 8.7.1-7.9.1 8.3.1-12.4.1 14 .1-11.6.1 10.7.1-7.3.1 6.7.1-9.4.1 6.4.1-4.4.1-4.4.1 3 .1 7.7.1-12.9.1 8.7.1 6.3.1-2.3.1.9.1-11 .1 5 .1 5.4.1 3.5.1-4.1.1-3.1.1-6.5.1 3.6.1 5.7.1-8.5.1 14 .1-11.5.1-8.9.1 11.2.1.9.1 4.4.1-9.7.1 6.9.1 2.7.1-3.8.1-7.3.1 5.2.1-1.2.1-3.4.1 10.5.1-1.2.1-8.6.1-.9.1 1.5.1 6.3.1-6.3.1-3.3.1 7 .1-42.4.1 39.4.1 32.4.1-53.8.1 38.4.1-31.4.1 29.4.1-29.3.1 28.8.1-25 .1 28.3.1-33.8.1 31.5.1-27.8.1 22.4.1-20.7.1 22.5.1-18.6.1 18.5.1-15.9.1 16.4.1-16.5.1 12.7.1-8.4.1 6.1.1-7.7.1 8 .1-9.8.1 11.1.1-7.1.1 7.8.1-6.5.1 4.1.1-14.3.1 9.8.1 1 .1.3.1-5.8.1 17.3.1-8 .1-3.3.1 5.6.1-19.3.1 12.7.1-3.1.1 11.9.1-9.5.1 2 .1-1.8.1 1.3.1-4.5.1 6.8.1-6.1.1 5.4.1 5.4.1-9.9.1 6.8.1-4.6.1-4.1.1 13.7.1-11.5.1 6 .1-11.4.1 7.8.1 3.5.1 5.2.1-15 .1 6.7.1 1.5.1 3.6.1 1.7.1-42.7.1 76.6.1-11.8.1-44 .1 28 .1-23.2.1 28.1.1-35.8.1 26.7.1-20 .1 22 .1-27.7.1 22.9.1-16.1.1 21.8.1-23 .1 14.9.1-11.7.1 15.6.1-13.7.1 11.7.1-9.3.1 6.5.1-9 .1 7.5.1-4.5.1 5.5.1-2.8.1 4 .1-7.2.1 8 .1-5.3.1 7.2.1-10.3.1 6.2.1.2.1-1 .1-4.7.1-.1.1 2 .1-2.1.1-1.6.1.7.1 3.8.1 3.2.1-4.2.1-3.8.1 4.1.1 3.3.1.1.1-2.4.1 4.4.1-3.2.1 3 .1-6.5.1-1.3.1 1.1.1 2.5.1 7.9.1-7.4.1 8 .1-9.1.1-4.2.1 6.4.1-.9.1-12 .1 6.8.1 12.5.1-4.1.1-.3.1-3.1.1-.9.1 1.8.1.8.1-2.9.1 4.9.1-48.3.1 85.4.1-7.5.1-47.1.1 42.8.1-48.7.1 35.7.1-30.4.1 36.3.1-37.7.1 29.3.1-29.3.1 22.2.1-21.6.1 25.4.1-22.2.1 26.5.1-22.8.1 16.7.1-16 .1 16.6.1-13.5.1 9.9.1-9.8.1 10.6.1-8.5.1 9.1.1-12.7.1 9 .1-9.3.1 10 .1-9.7.1 7.6.1-3.9.1 6.1.1-1.3.1.6.1-8.2.1 4.3.1-6.9.1 12.5.1-.9.1-.7.1-2.3.1-7.7.1 5.7.1-2.7.1 6.2.1 6.2.1-8.2.1 2.5.1 1.3.1-2.9.1 1.7.1 0 .1 2.8.1-9 .1 6.4.1-2 .1-2.2.1 2.1.1-3.3.1 2.3.1-.4.1-31.1.1 72.1.1-13.9.1-48.2.1 32 .1-28 .1 32.5.1-27.3.1 23 .1-20.1.1 16.8.1-16 .1 20.3.1-25.3.1 28.2.1-23.4.1 21.1.1-17.4.1 16.2.1-15.3.1 12.1.1-11.1.1 9.8.1-10.4.1 10.1.1-10.6.1 12.5.1-9 .1 4.5.1-9.1.1 10.1.1-8.1.1 8.5.1.4.1.9.1-10.6.1 11.9.1-3.6.1-2.7.1 1.3.1 2.6.1-3.6.1 9 .1-20.1.1 15.8.1 2 .1-9.9.1 4.4.1 4.4.1-9.7.1-.2.1 9.7.1-3.2.1-.1.1-6.9.1-7.7.1 2.4.1 12.2.1.1.1-2.6.1.6.1-5 .1 12.7.1-12.9.1-5.4.1 3.3.1 4.5.1.7.1 4.4.1 7.3.1-2 .1-2.6.1 5 .1-12.2.1 6.4.1 1.2.1.2.1 3.3.1-12.3.1 5.9.1-8.5.1 6.1.1-.5.1 8.3.1-9.2.1-24.4.1 53.3.1-9.6.1-32.3.1 25.5.1-27.8.1 24.5.1-19.9.1 24.5.1-23.1.1 19.2.1-22 .1 22.9.1-12.4.1 5 .1-8.2.1 7.7.1-5.3.1 9.4.1-13.2.1 9 .1-11.6.1 12.8.1-9.3.1 6.5.1-5.5.1 11 .1-7.5.1 3.9.1-2.7.1 1 .1-5.5.1 6.7.1-8.6.1 4.6.1-.8.1 4.2.1 22 .1-22.2.1-1.7.1.7.1 2.7.1-3.6.1-5.7.1 13.7.1-7.7.1 7.5.1-8.4.1-5.1.1 18.9.1-2.6.1-6.6.1.8.1.3.1.8.1-15.2.1 21.2.1 1 .1-1.8.1-10.9.1 13.4.1-21.8.1 17.1.1 9.1.1-12.3.1.1.1-28.2.1 24.4.1 5.4.1-10.1.1-7 .1 21.2.1-16.2.1 6.3.1 1.4.1-15.4.1-6.6.1-30.1.1 101.4.1-12.1.1-66 .1 45.3.1-51 .1 48.3.1-31.8.1 36.4.1-43 .1 39.1.1-32.3.1 24.6.1-20 .1 30.1.1-38.4.1 28.5.1-16.1.1 15.8.1-19.9.1 20.4.1-17.3.1 14 .1-12.2.1 13.6.1-15.7.1 11.9.1-11.7.1 14.9.1-11.7.1 6.9.1.5.1 7.3.1-11.2.1-14.5.1 24.9.1 0 .1 3.3.1-7.4.1-10.4.1 5.5.1-5 .1 6.6.1-10.1.1 11.7.1 9.3.1-10.9.1 5.4.1-7.5.1-14.6.1-1.5.1 25.3.1-16.6.1 7.7.1-13 .1 6.7.1 8.3.1-1.4.1-19.2.1 14 .1-1.6.1-.6.1-2.6.1 11.2.1-22.5.1 20.7.1-6.2.1 10.4.1 0 .1 6.6.1-12.4.1 18.3.1-18.5.1 24.6.1-23.2.1-4.3.1.8.1 1.6.1-15.4.1 27.8.1-59 .1 96.7.1-12.1.1-73.7.1 66.4.1-50.8.1 44 .1-46.6.1 41.2.1-25.6.1 26.7.1-36 .1 24.9.1-15 .1 14.7.1-22.1.1 25.4.1-12.8.1 13.5.1-20.5.1 17.1.1-17.1.1 12.9.1-5.4.1 12.3.1-16.7.1 11 .1-11.1.1 10 .1-8.5.1 6.6.1-8.6.1-.4.1 15 .1-13.3.1 11.7.1-11.9.1 6.3.1-1.3.1 5.1.1-6.2.1 10.1.1-5.2.1-.7.1-7.9.1-7.9.1 12 .1 1 .1-4.1.1 6 .1 2.6.1-3.5.1-10.9.1 14 .1-5.5.1 5.6.1-12.1.1 5.8.1 0 .1 2.5.1 9.5.1-13 .1 7.2.1-3.3.1 1.7.1-10.8.1-1.2.1 2.6.1 6.7.1 1 .1-5.4.1-22 .1 71.7.1-27.2.1-30 .1 40.6.1-50.3.1 39.3.1-42.7.1 47.3.1-42.5.1 35.8.1-26.4.1 28.5.1-23.2.1 15.3.1-17.1.1 18.2.1-13.8.1 7.3.1-10.8.1 11.9.1-14.5.1 13.6.1-6.4.1 6.5.1-12.3.1 10.1.1-6.6.1 9.4.1-9.3.1 7.3.1-7.5.1 2.8.1 13.3.1-25.5.1 17 .1-6.7.1-2.3.1-1.5.1 15.5.1-17.2.1 5.4.1 1.5.1 3 .1 11 .1-8.4.1-2.3.1-9.9.1 9.9.1 1.5.1-5.7.1-3.5.1 6.4.1-.1.1 6.7.1-9.7.1 3.8.1-3.7.1-1 .1 4.2.1-1.6.1-10.9.1 8.9.1 10.6.1-13.4.1 12.9.1-3.8.1-2.1.1-4.1.1 8.4.1-.2.1-9.3" stroke="#0000ff" stroke-width="0.8" fill="none" stroke-linejoin="bevel"/>
<rect x="88.5" y="522.5" width="672.9" height="316.79999999999995" fill="none" stroke="#888888" stroke-width="1"/>
<path d="M88.5 839.3v-7M88.5 522.5v7M223.1 839.3v-7M223.1 522.5v7M357.7 839.3v-7M357.7 522.5v7M492.2 839.3v-7M492.2 522.5v7M626.8 839.3v-7M626.8 522.5v7M761.4 839.3v-7M761.4 522.5v7M88.5 839.3h7M761.4 839.3h-7M88.5 760.1h7M761.4 760.1h-7M88.5 680.9h7M761.4 680.9h-7M88.5 601.7h7M761.4 601.7h-7M88.5 522.5h7M761.4 522.5h-7" stroke="#888888" stroke-width="1" fill="none"/>
<text x="88.5" y="867.6" font-size="23.8" text-anchor="middle">0</text>
<text x="223.1" y="867.6" font-size="23.8" text-anchor="middle">0.2</text>
<text x="357.7" y="867.6" font-size="23.8" text-anchor="middle">0.4</text>
<text x="492.2" y="867.6" font-size="23.8" text-anchor="middle">0.6</text>
<text x="626.8" y="867.6" font-size="23.8" text-anchor="middle">0.8</text>
<text x="761.4" y="867.6" font-size="23.8" text-anchor="middle">1</text>
<text x="82" y="847.6" font-size="23.8" text-anchor="end">-0.8</text>
<text x="82" y="768.4" font-size="23.8" text-anchor="end">-0.4</text>
<text x="82" y="689.2" font-size="23.8" text-anchor="end">0</text>
<text x="82" y="610" font-size="23.8" text-anchor="end">0.4</text>
<text x="82" y="530.8" font-size="23.8" text-anchor="end">0.8</text>
<text x="424.9" y="897.7" font-size="26.5" text-anchor="middle">Time(s)</text>
<text transform="translate(37 680.2) rotate(-90)" font-size="26.5" text-anchor="middle">Amplitude(m/s<tspan font-size="20.1" dy="-12.7">2</tspan><tspan dy="12.7">)</tspan></text>
<svg x="877.5" y="522.4" width="672.8" height="317.9" viewBox="877.5 522.4 672.8 317.9" overflow="hidden"><polyline points="877.5,810.4 878.2,775.0 878.8,810.6 879.5,825.5 880.2,760.0 880.9,803.6 881.5,815.1 882.2,810.9 882.9,831.0 883.6,689.7 884.2,828.6 884.9,812.7 885.6,788.3 886.2,819.0 886.9,800.5 887.6,828.8 888.3,815.3 888.9,801.1 889.6,809.7 890.3,723.6 891.0,802.1 891.6,800.5 892.3,821.6 893.0,738.0 893.6,823.1 894.3,816.3 895.0,793.1 895.7,831.6 896.3,819.8 897.0,818.7 897.7,799.0 898.4,807.6 899.0,807.0 899.7,745.0 900.4,796.9 901.0,792.6 901.7,809.0 902.4,815.9 903.1,758.5 903.7,802.9 904.4,820.9 905.1,813.1 905.8,819.0 906.4,808.8 907.1,805.8 907.8,796.6 908.4,807.8 909.1,795.2 909.8,794.2 910.5,733.0 911.1,819.4 911.8,826.3 912.5,822.1 913.2,815.1 913.8,793.8 914.5,823.3 915.2,819.5 915.8,786.3 916.5,638.2 917.2,802.8 917.9,816.5 918.5,829.4 919.2,830.5 919.9,829.2 920.6,770.0 921.2,825.5 921.9,809.0 922.6,822.6 923.3,821.5 923.9,799.7 924.6,816.6 925.3,799.5 925.9,814.0 926.6,801.1 927.3,733.6 928.0,803.6 928.6,823.4 929.3,819.8 930.0,815.5 930.7,816.4 931.3,821.9 932.0,817.2 932.7,765.0 933.3,805.9 934.0,801.3 934.7,830.2 935.4,793.8 936.0,815.5 936.7,519.4 937.4,823.0 938.1,837.2 938.7,811.9 939.4,815.4 940.1,826.2 940.7,742.5 941.4,813.5 942.1,804.8 942.8,811.0 943.4,815.8 944.1,820.3 944.8,830.2 945.5,770.0 946.1,834.8 946.8,810.0 947.5,811.3 948.1,823.8 948.8,817.3 949.5,819.7 950.2,796.2 950.8,743.6 951.5,824.2 952.2,777.5 952.9,803.9 953.5,818.9 954.2,739.0 954.9,797.5 955.5,826.6 956.2,807.9 956.9,797.4 957.6,810.4 958.2,775.0 958.9,810.4 959.6,830.2 960.3,824.9 960.9,830.7 961.6,814.9 962.3,785.0 962.9,834.8 963.6,808.3 964.3,830.8 965.0,804.5 965.6,816.2 966.3,824.3 967.0,822.5 967.7,614.9 968.3,829.8 969.0,801.9 969.7,807.3 970.3,811.3 971.0,813.2 971.7,812.6 972.4,826.2 973.0,780.0 973.7,817.2 974.4,827.0 975.1,833.6 975.7,833.2 976.4,827.8 977.1,803.0 977.7,825.3 978.4,822.8 979.1,788.6 979.8,815.1 980.4,836.8 981.1,754.7 981.8,809.3 982.5,800.8 983.1,800.2 983.8,818.2 984.5,816.0 985.1,835.9 985.8,770.0 986.5,816.9 987.2,810.4 987.8,790.8 988.5,829.3 989.2,815.6 989.9,822.0 990.5,814.7 991.2,752.9 991.9,821.7 992.5,827.8 993.2,818.3 993.9,830.6 994.6,817.9 995.2,794.7 995.9,793.0 996.6,823.8 997.3,824.9 997.9,598.7 998.6,826.0 999.3,800.7 999.9,810.9 1000.6,808.3 1001.3,832.2 1002.0,833.7 1002.6,814.9 1003.3,785.0 1004.0,821.1 1004.7,812.5 1005.3,827.0 1006.0,825.3 1006.7,829.1 1007.4,806.0 1008.0,754.0 1008.7,828.4 1009.4,821.7 1010.0,819.9 1010.7,832.4 1011.4,812.3 1012.1,831.2 1012.7,790.0 1013.4,828.6 1014.1,820.8 1014.8,817.0 1015.4,832.2 1016.1,829.5 1016.8,820.0 1017.4,825.7 1018.1,754.7 1018.8,821.3 1019.5,819.6 1020.1,833.0 1020.8,821.6 1021.5,819.4 1022.2,832.1 1022.8,824.2 1023.5,824.5 1024.2,834.9 1024.8,812.6 1025.5,780.0 1026.2,829.8 1026.9,827.6 1027.5,808.3 1028.2,804.5 1028.9,796.6 1029.6,827.9 1030.2,795.0 1030.9,827.1 1031.6,824.5 1032.2,818.2 1032.9,827.6 1033.6,805.5 1034.3,815.7 1034.9,830.1 1035.6,782.9 1036.3,813.9 1037.0,800.9 1037.6,826.5 1038.3,797.8 1039.0,831.3 1039.6,831.4 1040.3,819.1 1041.0,830.0 1041.7,829.0 1042.3,828.2 1043.0,825.0 1043.7,813.3 1044.4,836.2 1045.0,790.0 1045.7,831.5 1046.4,809.0 1047.0,818.8 1047.7,798.3 1048.4,814.3 1049.1,822.7 1049.7,836.7 1050.4,827.1 1051.1,816.1 1051.8,831.0 1052.4,813.0 1053.1,814.1 1053.8,826.3 1054.4,800.4 1055.1,811.0 1055.8,824.6 1056.5,820.8 1057.1,822.4 1057.8,814.7 1058.5,646.6 1059.2,816.0 1059.8,831.5 1060.5,810.2 1061.2,817.6 1061.8,833.9 1062.5,796.8 1063.2,822.6 1063.9,832.1 1064.5,805.6 1065.2,820.8 1065.9,826.3 1066.6,822.5 1067.2,816.4 1067.9,795.5 1068.6,808.5 1069.2,816.9 1069.9,811.8 1070.6,821.0 1071.3,819.8 1071.9,818.7 1072.6,811.4 1073.3,822.3 1074.0,826.7 1074.6,822.2 1075.3,832.5 1076.0,819.7 1076.6,834.1 1077.3,831.8 1078.0,814.8 1078.7,815.5 1079.3,819.4 1080.0,829.6 1080.7,819.6 1081.4,806.8 1082.0,813.2 1082.7,781.3 1083.4,822.1 1084.0,819.0 1084.7,837.7 1085.4,809.7 1086.1,828.9 1086.7,831.1 1087.4,821.6 1088.1,818.8 1088.8,837.4 1089.4,828.0 1090.1,825.1 1090.8,818.9 1091.5,820.9 1092.1,836.1 1092.8,782.4 1093.5,814.8 1094.1,822.5 1094.8,815.8 1095.5,825.8 1096.2,807.6 1096.8,827.1 1097.5,828.4 1098.2,827.5 1098.9,820.3 1099.5,815.1 1100.2,819.6 1100.9,818.9 1101.5,811.8 1102.2,829.4 1102.9,811.9 1103.6,827.6 1104.2,824.5 1104.9,812.1 1105.6,831.2 1106.3,817.6 1106.9,832.7 1107.6,814.4 1108.3,799.5 1108.9,815.0 1109.6,832.1 1110.3,819.4 1111.0,812.5 1111.6,815.0 1112.3,824.1 1113.0,824.4 1113.7,825.1 1114.3,796.4 1115.0,817.8 1115.7,820.7 1116.3,815.8 1117.0,824.1 1117.7,798.7 1118.4,829.4 1119.0,722.5 1119.7,816.3 1120.4,831.2 1121.1,822.1 1121.7,819.3 1122.4,821.9 1123.1,837.1 1123.7,823.4 1124.4,811.1 1125.1,826.1 1125.8,818.9 1126.4,823.4 1127.1,835.8 1127.8,824.8 1128.5,833.1 1129.1,826.5 1129.8,817.4 1130.5,825.2 1131.1,830.8 1131.8,826.4 1132.5,826.9 1133.2,786.2 1133.8,835.2 1134.5,822.7 1135.2,830.1 1135.9,825.4 1136.5,824.0 1137.2,825.0 1137.9,810.9 1138.5,825.5 1139.2,815.9 1139.9,819.8 1140.6,810.2 1141.2,825.8 1141.9,827.5 1142.6,829.6 1143.3,820.7 1143.9,831.7 1144.6,825.0 1145.3,813.5 1145.9,823.0 1146.6,819.1 1147.3,825.8 1148.0,819.8 1148.6,831.5 1149.3,820.8 1150.0,765.1 1150.7,823.8 1151.3,824.0 1152.0,818.9 1152.7,830.0 1153.3,819.2 1154.0,818.0 1154.7,836.8 1155.4,833.9 1156.0,832.0 1156.7,831.1 1157.4,828.0 1158.1,811.3 1158.7,824.2 1159.4,827.7 1160.1,820.0 1160.7,822.0 1161.4,820.9 1162.1,814.8 1162.8,829.3 1163.4,814.6 1164.1,813.7 1164.8,831.7 1165.5,812.7 1166.1,811.9 1166.8,827.7 1167.5,817.6 1168.1,832.1 1168.8,820.1 1169.5,833.0 1170.2,825.5 1170.8,828.2 1171.5,827.4 1172.2,833.4 1172.9,822.5 1173.5,831.4 1174.2,832.0 1174.9,821.3 1175.6,828.1 1176.2,833.7 1176.9,827.5 1177.6,833.7 1178.2,829.6 1178.9,828.8 1179.6,822.5 1180.3,726.5 1180.9,807.9 1181.6,821.0 1182.3,824.8 1183.0,831.0 1183.6,825.3 1184.3,817.1 1185.0,813.4 1185.6,816.6 1186.3,826.9 1187.0,827.5 1187.7,825.2 1188.3,813.1 1189.0,837.7 1189.7,828.7 1190.4,834.5 1191.0,827.8 1191.7,824.1 1192.4,835.8 1193.0,818.9 1193.7,829.0 1194.4,827.5 1195.1,830.1 1195.7,834.2 1196.4,835.1 1197.1,819.3 1197.8,825.2 1198.4,827.0 1199.1,831.8 1199.8,831.4 1200.4,821.3 1201.1,833.5 1201.8,828.8 1202.5,821.2 1203.1,817.1 1203.8,830.5 1204.5,823.6 1205.2,825.5 1205.8,835.9 1206.5,823.9 1207.2,833.9 1207.8,827.5 1208.5,827.6 1209.2,827.1 1209.9,831.6 1210.5,818.3 1211.2,837.8 1211.9,832.8 1212.6,828.6 1213.2,833.8 1213.9,831.5 1214.6,834.0 1215.2,829.6 1215.9,835.8 1216.6,835.8 1217.3,817.5 1217.9,831.3 1218.6,827.1 1219.3,833.7 1220.0,835.6 1220.6,824.9 1221.3,835.7 1222.0,826.3 1222.6,818.3 1223.3,826.5 1224.0,825.8 1224.7,806.0 1225.3,831.8 1226.0,820.1 1226.7,835.3 1227.4,835.3 1228.0,831.1 1228.7,826.6 1229.4,832.2 1230.0,818.3 1230.7,837.2 1231.4,823.7 1232.1,827.9 1232.7,834.2 1233.4,829.0 1234.1,830.5 1234.8,823.3 1235.4,828.4 1236.1,831.4 1236.8,834.5 1237.4,834.6 1238.1,824.5 1238.8,829.7 1239.5,819.3 1240.1,827.0 1240.8,740.0 1241.5,832.6 1242.2,821.8 1242.8,833.9 1243.5,829.4 1244.2,819.7 1244.8,824.3 1245.5,833.5 1246.2,824.9 1246.9,823.4 1247.5,826.1 1248.2,819.1 1248.9,830.0 1249.6,832.4 1250.2,831.3 1250.9,824.5 1251.6,836.4 1252.2,835.0 1252.9,816.5 1253.6,837.8 1254.3,822.0 1254.9,828.0 1255.6,825.1 1256.3,825.1 1257.0,832.7 1257.6,832.9 1258.3,832.4 1259.0,834.8 1259.7,814.4 1260.3,832.9 1261.0,827.2 1261.7,831.4 1262.3,827.3 1263.0,827.0 1263.7,828.3 1264.4,833.1 1265.0,829.2 1265.7,823.4 1266.4,828.4 1267.1,832.7 1267.7,833.3 1268.4,836.9 1269.1,836.9 1269.7,830.1 1270.4,819.8 1271.1,832.0 1271.8,838.1 1272.4,830.6 1273.1,828.3 1273.8,823.0 1274.5,825.0 1275.1,832.6 1275.8,826.8 1276.5,835.9 1277.1,835.8 1277.8,827.3 1278.5,826.6 1279.2,821.0 1279.8,816.3 1280.5,830.6 1281.2,824.4 1281.9,830.7 1282.5,819.2 1283.2,828.8 1283.9,835.4 1284.5,827.1 1285.2,827.7 1285.9,827.9 1286.6,835.5 1287.2,833.1 1287.9,826.9 1288.6,836.6 1289.3,832.5 1289.9,831.7 1290.6,836.4 1291.3,827.6 1291.9,830.5 1292.6,829.7 1293.3,824.1 1294.0,835.1 1294.6,838.6 1295.3,830.6 1296.0,831.9 1296.7,827.7 1297.3,826.0 1298.0,820.4 1298.7,832.2 1299.3,833.4 1300.0,834.2 1300.7,761.4 1301.4,819.8 1302.0,832.3 1302.7,827.0 1303.4,826.7 1304.1,832.7 1304.7,829.4 1305.4,832.1 1306.1,824.6 1306.7,824.6 1307.4,834.3 1308.1,826.2 1308.8,832.0 1309.4,825.8 1310.1,826.5 1310.8,827.4 1311.5,835.8 1312.1,828.4 1312.8,830.7 1313.5,828.3 1314.1,827.4 1314.8,832.1 1315.5,835.9 1316.2,803.0 1316.8,831.8 1317.5,835.7 1318.2,823.8 1318.9,837.1 1319.5,822.5 1320.2,832.3 1320.9,817.4 1321.5,826.5 1322.2,834.6 1322.9,823.6 1323.6,826.4 1324.2,818.1 1324.9,829.9 1325.6,832.9 1326.3,834.4 1326.9,835.1 1327.6,826.7 1328.3,829.1 1328.9,822.3 1329.6,829.6 1330.3,819.6 1331.0,833.2 1331.6,831.5 1332.3,821.3 1333.0,832.1 1333.7,831.7 1334.3,838.6 1335.0,828.5 1335.7,826.0 1336.3,821.5 1337.0,832.3 1337.7,822.7 1338.4,811.1 1339.0,834.2 1339.7,830.7 1340.4,828.3 1341.1,835.0 1341.7,834.6 1342.4,835.2 1343.1,829.2 1343.8,831.8 1344.4,826.0 1345.1,825.8 1345.8,832.6 1346.4,834.7 1347.1,820.8 1347.8,834.4 1348.5,832.5 1349.1,832.3 1349.8,832.0 1350.5,836.6 1351.2,825.8 1351.8,832.0 1352.5,831.9 1353.2,828.8 1353.8,833.1 1354.5,830.7 1355.2,824.2 1355.9,833.7 1356.5,826.1 1357.2,832.2 1357.9,836.4 1358.6,830.6 1359.2,830.9 1359.9,837.2 1360.6,823.8 1361.2,779.4 1361.9,825.3 1362.6,823.6 1363.3,833.4 1363.9,827.4 1364.6,827.0 1365.3,830.5 1366.0,829.9 1366.6,811.4 1367.3,835.1 1368.0,839.0 1368.6,833.2 1369.3,828.7 1370.0,833.5 1370.7,822.5 1371.3,829.7 1372.0,833.8 1372.7,827.5 1373.4,836.7 1374.0,834.7 1374.7,829.1 1375.4,837.9 1376.0,834.9 1376.7,835.6 1377.4,826.2 1378.1,838.4 1378.7,836.7 1379.4,830.0 1380.1,832.8 1380.8,837.4 1381.4,831.7 1382.1,833.7 1382.8,828.0 1383.4,831.2 1384.1,833.6 1384.8,819.9 1385.5,833.1 1386.1,836.5 1386.8,828.2 1387.5,809.2 1388.2,831.4 1388.8,831.1 1389.5,823.3 1390.2,828.0 1390.8,826.9 1391.5,834.6 1392.2,826.1 1392.9,826.1 1393.5,828.7 1394.2,826.1 1394.9,833.5 1395.6,826.4 1396.2,831.7 1396.9,829.2 1397.6,831.1 1398.2,827.9 1398.9,825.2 1399.6,826.2 1400.3,830.7 1400.9,831.2 1401.6,826.4 1402.3,831.9 1403.0,827.9 1403.6,832.2 1404.3,836.7 1405.0,832.8 1405.6,821.4 1406.3,830.8 1407.0,832.0 1407.7,832.9 1408.3,825.6 1409.0,827.0 1409.7,821.6 1410.4,832.8 1411.0,828.3 1411.7,831.5 1412.4,827.3 1413.0,826.2 1413.7,833.2 1414.4,828.0 1415.1,833.7 1415.7,834.5 1416.4,832.3 1417.1,825.6 1417.8,835.3 1418.4,833.2 1419.1,832.2 1419.8,820.0 1420.4,823.1 1421.1,838.0 1421.8,828.3 1422.5,809.8 1423.1,836.1 1423.8,832.1 1424.5,824.9 1425.2,831.6 1425.8,834.6 1426.5,835.4 1427.2,830.2 1427.9,832.6 1428.5,831.5 1429.2,830.8 1429.9,835.5 1430.5,834.4 1431.2,835.3 1431.9,825.6 1432.6,828.7 1433.2,831.9 1433.9,834.8 1434.6,831.6 1435.3,829.2 1435.9,832.8 1436.6,828.9 1437.3,831.8 1437.9,828.2 1438.6,827.8 1439.3,826.0 1440.0,829.0 1440.6,834.1 1441.3,835.1 1442.0,834.3 1442.7,829.6 1443.3,835.6 1444.0,836.6 1444.7,826.4 1445.3,832.4 1446.0,826.8 1446.7,830.0 1447.4,832.4 1448.0,837.6 1448.7,822.5 1449.4,833.9 1450.1,831.0 1450.7,831.2 1451.4,831.0 1452.1,822.6 1452.7,826.8 1453.4,830.1 1454.1,827.8 1454.8,836.5 1455.4,830.5 1456.1,828.7 1456.8,830.3 1457.5,833.3 1458.1,830.1 1458.8,828.7 1459.5,832.0 1460.1,835.0 1460.8,836.3 1461.5,820.9 1462.2,829.8 1462.8,829.1 1463.5,837.3 1464.2,833.6 1464.9,820.4 1465.5,836.7 1466.2,819.5 1466.9,829.1 1467.5,834.1 1468.2,826.4 1468.9,825.2 1469.6,833.5 1470.2,833.5 1470.9,829.3 1471.6,822.4 1472.3,835.6 1472.9,825.9 1473.6,831.5 1474.3,838.9 1474.9,831.1 1475.6,832.9 1476.3,827.2 1477.0,823.6 1477.6,822.7 1478.3,821.7 1479.0,828.8 1479.7,834.0 1480.3,829.3 1481.0,831.8 1481.7,826.8 1482.3,807.5 1483.0,829.6 1483.7,830.9 1484.4,833.3 1485.0,829.5 1485.7,825.6 1486.4,835.8 1487.1,827.5 1487.7,831.0 1488.4,831.1 1489.1,827.4 1489.7,836.3 1490.4,836.1 1491.1,834.7 1491.8,831.1 1492.4,830.3 1493.1,829.3 1493.8,827.4 1494.5,827.9 1495.1,826.2 1495.8,830.7 1496.5,821.9 1497.1,830.2 1497.8,836.1 1498.5,829.6 1499.2,822.5 1499.8,828.5 1500.5,830.0 1501.2,830.6 1501.9,832.9 1502.5,828.8 1503.2,829.4 1503.9,838.7 1504.5,827.5 1505.2,827.9 1505.9,832.1 1506.6,833.4 1507.2,831.3 1507.9,833.2 1508.6,833.4 1509.3,829.4 1509.9,834.5 1510.6,825.5 1511.3,833.1 1512.0,827.3 1512.6,831.8 1513.3,832.6 1514.0,834.2 1514.6,831.4 1515.3,834.4 1516.0,835.5 1516.7,821.9 1517.3,829.4 1518.0,825.0 1518.7,834.5 1519.4,827.7 1520.0,834.5 1520.7,832.8 1521.4,830.8 1522.0,832.3 1522.7,825.9 1523.4,834.2 1524.1,837.1 1524.7,833.1 1525.4,835.2 1526.1,833.0 1526.8,836.2 1527.4,835.0 1528.1,831.7 1528.8,826.4 1529.4,827.5 1530.1,824.6 1530.8,834.1 1531.5,832.7 1532.1,837.7 1532.8,831.6 1533.5,836.3 1534.2,819.2 1534.8,829.5 1535.5,833.7 1536.2,838.0 1536.8,828.3 1537.5,835.8 1538.2,826.6 1538.9,826.9 1539.5,836.5 1540.2,836.1 1540.9,836.1 1541.6,836.4 1542.2,827.7 1542.9,828.0 1543.6,832.5 1544.2,833.8 1544.9,829.5 1545.6,832.7 1546.3,829.3 1546.9,832.0 1547.6,836.4 1548.3,822.3 1549.0,837.4 1549.6,827.4 1550.3,836.3" stroke="#0000ff" stroke-width="1.1" fill="none" stroke-linejoin="round"/></svg>
<rect x="877.5" y="522.4" width="672.8" height="316.9" fill="none" stroke="#888888" stroke-width="1"/>
<path d="M877.5 839.3v-7M877.5 522.4v7M1012.1 839.3v-7M1012.1 522.4v7M1146.6 839.3v-7M1146.6 522.4v7M1281.2 839.3v-7M1281.2 522.4v7M1415.7 839.3v-7M1415.7 522.4v7M1550.3 839.3v-7M1550.3 522.4v7M877.5 839.3h7M1550.3 839.3h-7M877.5 695.8h7M1550.3 695.8h-7M877.5 552.3h7M1550.3 552.3h-7" stroke="#888888" stroke-width="1" fill="none"/>
<text x="1012.1" y="867.6" font-size="24" text-anchor="middle">200</text>
<text x="1146.6" y="867.6" font-size="24" text-anchor="middle">400</text>
<text x="1281.2" y="867.6" font-size="24" text-anchor="middle">600</text>
<text x="1415.7" y="867.6" font-size="24" text-anchor="middle">800</text>
<text x="1550.3" y="867.6" font-size="24" text-anchor="middle">1000</text>
<text x="870.5" y="847.7" font-size="24" text-anchor="end">0</text>
<text x="870.5" y="704.2" font-size="24" text-anchor="end">0.01</text>
<text x="870.5" y="560.7" font-size="24" text-anchor="end">0.02</text>
<text x="1213.9" y="897.5" font-size="26.5" text-anchor="middle">Frequency(Hz)</text>
<text transform="translate(822 680.8) rotate(-90)" font-size="26.5" text-anchor="middle">Amplitude(m/s<tspan font-size="20.1" dy="-12.7">2</tspan><tspan dy="12.7">)</tspan></text>
<text x="908.2" y="578.7" font-size="23" fill="#ff0000"><tspan font-style="italic">f</tspan><tspan font-style="italic" font-size="17" dx="1.5" dy="12.5">b</tspan></text>
<path d="M916.4 595.0L916.4 625.1" stroke="#ff0000" stroke-width="0.75" fill="none"/>
<path d="M916.4 634.0L912.7 621.5L916.4 625.1L920.1 621.5Z" fill="#ff0000"/>
<text x="982.6" y="545.4" font-size="23" fill="#ff0000"><tspan font-style="italic">f</tspan><tspan font-style="italic" font-size="17" dx="1.5" dy="12.5">o</tspan></text>
<path d="M979.9 542.7L947.7 541.8" stroke="#ff0000" stroke-width="0.75" fill="none"/>
<path d="M938.8 541.6L951.4 538.2L947.7 541.8L951.2 545.6Z" fill="#ff0000"/>
<text x="961.5" y="569.8" font-size="23" fill="#ff0000"><tspan font-style="italic">f</tspan><tspan font-style="italic" font-size="17" dx="1.5" dy="12.5">i</tspan></text>
<path d="M967.9 586.5L967.9 603.1" stroke="#ff0000" stroke-width="0.75" fill="none"/>
<path d="M967.9 612.0L964.2 599.5L967.9 603.1L971.6 599.5Z" fill="#ff0000"/>
<text x="1032.5" y="557.3" font-size="23" fill="#ff0000"><tspan>2</tspan><tspan font-style="italic">f</tspan><tspan font-style="italic" font-size="17" dx="1.5" dy="12.5">o</tspan></text>
<path d="M1030.9 573.8L1008.6 587.1" stroke="#ff0000" stroke-width="0.75" fill="none"/>
<path d="M1000.9 591.6L1009.8 582.0L1008.6 587.1L1013.5 588.4Z" fill="#ff0000"/>
<text x="1069" y="589.5" font-size="23" fill="#ff0000"><tspan>3</tspan><tspan font-style="italic">f</tspan><tspan font-style="italic" font-size="17" dx="1.5" dy="12.5">o</tspan></text>
<path d="M1082.6 604.9L1064.6 638.1" stroke="#ff0000" stroke-width="0.75" fill="none"/>
<path d="M1060.4 645.9L1063.1 633.1L1064.6 638.1L1069.6 636.7Z" fill="#ff0000"/>
<text x="1003.7" y="645" font-size="23" fill="#ff0000"><tspan>2</tspan><tspan font-style="italic">f</tspan><tspan font-style="italic" font-size="17" dx="1.5" dy="12.5">i</tspan></text>
<path d="M1028.7 641.9L1048.7 644.4" stroke="#ff0000" stroke-width="0.75" fill="none"/>
<path d="M1057.5 645.5L1044.6 647.6L1048.7 644.4L1045.6 640.3Z" fill="#ff0000"/>
<text x="1105.8" y="647.3" font-size="23" fill="#ff0000"><tspan>4</tspan><tspan font-style="italic">f</tspan><tspan font-style="italic" font-size="17" dx="1.5" dy="12.5">o</tspan></text>
<path d="M1119.2 664.1L1119.2 706.9" stroke="#ff0000" stroke-width="0.75" fill="none"/>
<path d="M1119.2 715.8L1115.5 703.3L1119.2 706.9L1122.9 703.3Z" fill="#ff0000"/>
<text x="1141.3" y="688.7" font-size="23" fill="#ff0000"><tspan>3</tspan><tspan font-style="italic">f</tspan><tspan font-style="italic" font-size="17" dx="1.5" dy="12.5">i</tspan></text>
<path d="M1151.8 705.4L1151.8 747.6" stroke="#ff0000" stroke-width="0.75" fill="none"/>
<path d="M1151.8 756.5L1148.1 744.0L1151.8 747.6L1155.5 744.0Z" fill="#ff0000"/>
<text x="1166.3" y="651.7" font-size="23" fill="#ff0000"><tspan>5</tspan><tspan font-style="italic">f</tspan><tspan font-style="italic" font-size="17" dx="1.5" dy="12.5">o</tspan></text>
<path d="M1178.9 668.1L1178.9 710.3" stroke="#ff0000" stroke-width="0.75" fill="none"/>
<path d="M1178.9 719.2L1175.2 706.7L1178.9 710.3L1182.6 706.7Z" fill="#ff0000"/>
<text x="1228.2" y="665.7" font-size="23" fill="#ff0000"><tspan>6</tspan><tspan font-style="italic">f</tspan><tspan font-style="italic" font-size="17" dx="1.5" dy="12.5">o</tspan></text>
<path d="M1241.0 683.3L1241.0 724.8" stroke="#ff0000" stroke-width="0.75" fill="none"/>
<path d="M1241.0 733.7L1237.3 721.2L1241.0 724.8L1244.7 721.2Z" fill="#ff0000"/>
<text x="1289" y="687.1" font-size="23" fill="#ff0000"><tspan>7</tspan><tspan font-style="italic">f</tspan><tspan font-style="italic" font-size="17" dx="1.5" dy="12.5">o</tspan></text>
<path d="M1302.4 704.5L1302.4 746.4" stroke="#ff0000" stroke-width="0.75" fill="none"/>
<path d="M1302.4 755.3L1298.7 742.8L1302.4 746.4L1306.1 742.8Z" fill="#ff0000"/>
<text x="1349.7" y="705.1" font-size="23" fill="#ff0000"><tspan>8</tspan><tspan font-style="italic">f</tspan><tspan font-style="italic" font-size="17" dx="1.5" dy="12.5">o</tspan></text>
<path d="M1362.5 722.5L1362.5 764.9" stroke="#ff0000" stroke-width="0.75" fill="none"/>
<path d="M1362.5 773.8L1358.8 761.3L1362.5 764.9L1366.2 761.3Z" fill="#ff0000"/>
<path d="M94.6 1193.7l.1.9.1.5.1-3.8.1-3.1.1 4.4.1 6.6.1-.4.1-2.8.1-4.4.1-3.1.1 3.7.1-4.1.1 4.4.1-1.9.1-1.2.1 3.4.1-5.6.1-3 .1 4.6.1 4.7.1-2.5.1-4.8.1 4.8.1 1.9.1 1.6.1-2.2.1-.3.1 8.2.1-11.9.1 9.9.1-11.2.1 21.8.1-16.6.1-6 .1.5.1 13.8.1-1.3.1-9.4.1 9.1.1-11.5.1-2.9.1 13.6.1.8.1-4.3.1-48.1.1 92.1.1-30.6.1-36 .1 45.2.1-47.6.1 35.1.1-31.7.1 32.9.1-29.8.1 37.9.1-31.7.1 25.2.1-20.2.1 17.5.1-22.4.1 21.4.1-23.1.1 25.8.1-24.4.1 13.2.1-4.1.1 10 .1-11.3.1 13.3.1-11.9.1 11.2.1-13.7.1 8.9.1-10 .1 6 .1-3.3.1.2.1-.9.1 22.7.1-21.9.1 6.9.1 4 .1-11 .1-7.7.1 17.8.1-6.2.1 5.2.1-1.8.1-9.2.1 9.2.1-1.4.1-1.1.1 8.4.1-6.2.1-6.3.1-.2.1 4.5.1-6.6.1-1.6.1 18.3.1-9.2.1-3.7.1-2.4.1 3.8.1-5.5.1 8.5.1-8.2.1 10.1.1 2.3.1-15.5.1 6.6.1 1.4.1 8.1.1-13.9.1 7.5.1-6 .1 6.1.1.3.1 2.2.1-1 .1-3.4.1-.3.1.2.1 2.9.1-4.2.1-2.2.1 6.8.1-6.2.1-5 .1 22.4.1-19.9.1 12.5.1-15 .1 6.3.1-4.8.1 9.5.1-2.9.1 8.8.1-8.4.1-2.7.1-2.9.1 8.5.1-6.4.1 5.5.1-7.5.1-1.7.1 7.6.1-.1.1-2.7.1 12.6.1-6 .1-7.2.1 4.2.1-9.9.1 16.5.1-14.2.1 9.4.1 3.7.1-9.5.1 6.4.1 3.6.1-11 .1 9.2.1.3.1-8.6.1 6.7.1-2.2.1-15.2.1 9.1.1 4.5.1 15.4.1-14.8.1.5.1-3.7.1 7 .1-14.7.1 10.5.1 1.7.1-12.2.1 7.7.1 2 .1 4.4.1-4.8.1 3.8.1 4.4.1-11.1.1 2.2.1-1.4.1 1.5.1 2.8.1 5.1.1-6.7.1 4.2.1-11.2.1-3.6.1 23 .1-10.9.1 3 .1-4.5.1-9.6.1 5.8.1 18.9.1-20.6.1 11.1.1-5.8.1 6.6.1.3.1-.4.1-5.4.1-9.8.1 13.4.1.3.1 4.7.1-5.5.1-2.8.1 5 .1-8.8.1 8.8.1-3.5.1-11.6.1-5.3.1-.2.1 20.8.1-1.5.1 4.7.1-1.2.1-4.5.1-9.6.1-1.6.1 14.1.1-2.6.1-9.1.1-1.4.1-64.2.1 156.5.1-56.1.1-92.5.1 101.2.1-63.9.1 63.9.1-69.6.1 79 .1-71.3.1 39.2.1-34.3.1 39.7.1-32.1.1 35.5.1-34 .1 31.5.1-45.3.1 35.6.1-35.2.1 37.5.1-19.6.1 13.9.1-27.5.1 28.5.1-23.1.1 17.6.1-17.3.1 24.4.1-13 .1 9.9.1-15.9.1 20.9.1-19.8.1 7.7.1-1.6.1 2.2.1 8.5.1-26.2.1 30.2.1-9.4.1 10.2.1-14.4.1-1.2.1 25.7.1-25.1.1 5 .1-8.2.1 6.8.1 8.6.1-8.6.1 5.8.1-12.3.1-5.8.1-.7.1 14.3.1 6.8.1-7.5.1-11.7.1 8.1.1-7.5.1 11.3.1-1.1.1-2.9.1-4.8.1-29.2.1 22.3.1 16.1.1-5.1.1 8.3.1-13.5.1 3 .1 7.7.1-3.7.1 4.7.1.4.1-14.8.1 11.4.1 6.3.1 3.5.1-2.7.1 1.3.1-16.6.1 14.5.1-8.9.1 1.2.1-4.2.1 15.4.1-4.4.1-13.9.1 1.4.1 13.1.1-21.3.1 11.5.1 3.7.1-3.3.1 11.7.1-12.1.1 1.1.1-23.3.1 28 .1-4 .1 16.6.1-2 .1-12.5.1-21 .1 24.1.1-11.6.1 5.9.1-4.8.1-6.1.1-80 .1 223.5.1-73.9.1-125.3.1 125.8.1-100.2.1 94.4.1-96.4.1 77.5.1-92.9.1 103.6.1-76.2.1 63 .1-77.4.1 72.1.1-53.2.1 71.4.1-63.3.1 36 .1-27.5.1 32.7.1-44.9.1 46.7.1-29.7.1 29.4.1-47.3.1 31.5.1-12.9.1 15.7.1-17.5.1 16.8.1-18.8.1 4.4.1 8.8.1-8 .1-10 .1 23.2.1-9 .1-2 .1 4.9.1 1.8.1 20.4.1-19.5.1-7.6.1-1.2.1-16.6.1 33.3.1 4.4.1-75.6.1 117 .1-17.3.1-76.8.1 64.7.1-58.5.1 47.8.1-46.9.1 46.4.1-31.6.1 23.9.1-19.5.1 28.4.1-33 .1 25.8.1-28.8.1 22.9.1-10.2.1 13.3.1-14.6.1 14.1.1-23 .1 17.5.1-15 .1 15.7.1-22.3.1 23.1.1-16.4.1 15.4.1-7.1.1.3.1.7.1 15.2.1-22.6.1 4.1.1 16.4.1-25.4.1 10.8.1 6.7.1-7.1.1 1.7.1 7.2.1-9.3.1 10.6.1-12.9.1-14 .1 8 .1 5.3.1 4.2.1-27 .1 32 .1 9.7.1-20.4.1 7.7.1-5.7.1 11.3.1 16 .1-24.2.1-13.1.1 30.1.1-20.3.1-5.7.1 7.3.1-12 .1 13 .1-106.9.1 243.5.1-57.9.1-153.2.1 145.6.1-130.5.1 105.9.1-69.9.1 91.7.1-106.3.1 90.9.1-85.5.1 57.2.1-47.4.1 59.6.1-73.9.1 55.6.1-47.1.1 48.3.1-32.4.1 36.3.1-39.5.1 44.8.1-37.7.1 36.6.1-28.2.1 22.8.1-24.2.1 24.2.1-24.4.1 18.2.1-24.2.1 22.2.1-17.8.1-6 .1 8.8.1 7.1.1-4.2.1-7.7.1 14.7.1-8.1.1 19.4.1-17.8.1-3.1.1-19.5.1 5.5.1-.6.1 27.7.1-3.3.1-21.8.1 10.8.1 11 .1 13.6.1-28 .1 10.6.1 8.1.1-18.2.1 3.7.1-6.1.1 2.8.1 10.9.1 7.7.1-21.6.1-4.3.1 11.7.1 5.2.1-12 .1 4 .1-5.2.1 14.4.1-4.6.1 13 .1.1.1-2.9.1-11.4.1-4.4.1-18 .1 30.4.1.1.1-19.7.1 29.8.1-5.8.1-14.8.1 1.2.1 12.9.1-27.1.1 1.3.1 26.4.1-2.8.1 7.4.1-18 .1 4.4.1 2.2.1-32 .1 25.1.1 17.9.1-6.9.1-10.6.1 2.2.1-8.4.1 3.3.1-10.4.1-2.3.1 4.2.1-1.3.1 28.2.1-11.9.1-8.7.1-7.2.1 22.3.1-23.1.1 24.5.1-11.8.1-13.6.1 19.1.1-8.6.1 18.1.1-16.5.1-4.9.1 3.6.1 2.6.1 6.7.1 8.4.1-16.5.1 11.5.1-6.9.1 4.1.1-17.4.1.8.1-5.8.1 11.6.1 18.2.1-11.8.1 4.6.1 9.4.1-14 .1 9.9.1-70 .1 201.9.1-88.8.1-104.3.1 128.2.1-132.3.1 121.1.1-120.8.1 103.5.1-77.4.1 73.4.1-72.5.1 48.7.1-55.9.1 53 .1-41.7.1 44.1.1-56.6.1 55.1.1-38.3.1 38.7.1-41.9.1 41.5.1-36.4.1 40.8.1-40.3.1 42.3.1-29.2.1 11.4.1-28.4.1 28.7.1-7.8.1-7.2.1 15.3.1-27.1.1 4.5.1 3.8.1-4.2.1 6.9.1 2 .1 8.2.1-2.2.1-2.9.1 7.1.1 7.2.1-14.6.1 13.9.1-26.3.1-1.5.1 8.7.1 10.1.1-7.1.1 1 .1-6.7.1 28.3.1-33.3.1 7.8.1 3 .1 10 .1 4.2.1-14.2.1 9.9.1 16.5.1-11.8.1-6.4.1 12.6.1-1.8.1-16.8.1 12.3.1-5.7.1-8.4.1 11.9.1-3.7.1-11.9.1-2.4.1 31.5.1-23.1.1-5.6.1 10.7.1.1.1 5.7.1-17.2.1 13.9.1-13 .1 2.3.1 16.9.1-12.1.1 9.4.1-11.3.1 9.8.1 2.8.1-17 .1 7.3.1.1.1-4.6.1.6.1 5.5.1.8.1-.9.1-1.5.1.8.1-10.9.1 12.5.1.6.1-16.2.1-21.4.1 82.8.1-8.8.1-51.6.1 37.4.1-37.7.1 30.8.1-37.3.1 36.7.1-29.1.1 25.5.1-22.3.1 25.8.1-21 .1 17.5.1-22.4.1 24.2.1-22.1.1 17.1.1-21.9.1 19.4.1-16.4.1 11.1.1-4.2.1 6.2.1-14.7.1 17.4.1-8.7.1 8.8.1-11.9.1 10.2.1-11.8.1 17.2.1-14.1.1-1.3.1 2.6.1 1.8.1-5 .1 7.6.1-4.9.1 0 .1-1.2.1 7.2.1-11.4.1 19.3.1-5.3.1-10 .1 3.8.1 7.6.1-9.3.1 8 .1-4.1.1-8.1.1-1.3.1.6.1 11.8.1-5.4.1-13.9.1 16.6.1-12.2.1 10.2.1-.3.1 3.8.1-2 .1-1.4.1 3.9.1-3.6.1-14.3.1 18.7.1 1.6.1 3.9.1 2.1.1-20.4.1.8.1-.4.1 1.3.1-4.3.1 3.9.1-1.2.1-2.5.1.5.1 1.2.1 1.9.1 9.5.1-1.5.1-6.8.1-4.6.1 18.8.1-19.8.1 6.2.1-3.8.1 11.1.1-2.4.1 2.8.1-6.7.1 5.5.1 5.6.1-7.4.1-.7.1-1.8.1 5 .1-4.6.1-2.1.1-6.4.1 9.4.1 2.8.1-3.5.1 9.8.1 4.1.1-15.2.1.2.1 3.4.1 8.5.1-14.7.1 10.8.1-15.7.1 6.5.1 3.7.1-2.6.1 5.3.1.3.1-.5.1 2.5.1 0 .1.5.1-4.3.1 16.9.1-8.6.1-5.3.1-5.9.1 5.7.1-2.6.1 12.6.1-17.7.1 6.8.1 3.4.1-3.8.1-6.9.1 2.7.1-1.1.1-1.7.1 9.7.1-9.4.1 17.7.1-6.6.1-8.8.1-1.2.1 10.4.1-7 .1-3.9.1 5.9.1-2.5.1-.4.1-5.3.1 11 .1 3.7.1-15.7.1 5.9.1 13.2.1-11.6.1 7.7.1 5.9.1-24.8.1 11.8.1-6 .1 16.4.1-11.2.1 3.5.1-1.2.1-9.6.1 13.3.1 7.1.1-16.7.1 12.7.1-14 .1.3.1 14.7.1-12 .1 2 .1 14 .1-5.1.1-7.4.1-1.5.1 1.8.1-5.4.1 12.6.1-9.5.1 1.7.1 6.6.1-1.4.1-7.6.1-1.9.1 2.2.1-1.7.1-3.5.1 6.6.1 2.9.1 9 .1-19.9.1 11.1.1-4.2.1 2.1.1 1.1.1.7.1-1.1.1-1.5.1-.3.1 11 .1-16 .1 9.9.1-5.1.1 1.2.1-7.4.1 6.4.1-.1.1-49.4.1 103.9.1-27.7.1-52.2.1 46.6.1-42.2.1 50.1.1-58.5.1 39.6.1-33.2.1 33.8.1-29.7.1 31.1.1-24.3.1 28.2.1-32.3.1 28.2.1-23.4.1 21 .1-26.4.1 29.1.1-18 .1 13.8.1-18 .1 21.1.1-17.8.1 14 .1-14.8.1 13 .1-9.3.1 7.9.1-7.7.1 13 .1-13.4.1 9 .1-6.2.1-9.4.1-.8.1 9.8.1 1.9.1 5.5.1-6.3.1 0 .1 8.7.1-6 .1-4.3.1-.7.1 8.1.1-2.2.1 2.7.1-9.8.1 8.5.1-6.9.1 3.2.1-4.7.1-8.2.1 17.7.1-6.6.1 2.7.1-10.2.1 4.9.1 4.7.1.9.1-11.4.1-3.2.1 21.9.1-8 .1 6.2.1-6 .1-.5.1 3.5.1-11.3.1 11.4.1-8.4.1 15.2.1-6.1.1-6 .1-4 .1 9.1.1-9.9.1 4.4.1 10.7.1-21.5.1 19.2.1-17.7.1 19.8.1-15.2.1.1.1.6.1 7.5.1-6.2.1 20.1.1-15.9.1 1.3.1 1.8.1-13.5.1 6.5.1.4.1 1.5.1-.6.1-.8.1 14 .1-9.7.1-10.4.1 10.1.1 4.8.1-4 .1-.9.1-.5.1-1.5.1-.8.1-2.2.1 11.7.1-2.7.1 4.4.1-6.6.1-8.4.1 2.7.1 11.3.1 3.6.1-3.2.1-13.6.1-.5.1-2.7.1 23.1.1 3 .1-27.6.1 12.6.1-1.6.1-.4.1 4.3.1-6.3.1 14.5.1 1.6.1-6 .1-.4.1-8.1.1 5.4.1 6.7.1-13.8.1 14.7.1-15.5.1-5.5.1 2.1.1 12.7.1-12.3.1 15.9.1-11.5.1 11.5.1-6.9.1 7.4.1-13.1.1 5.7.1 2.4.1-5.1.1 3.8.1-5.4.1 11.1.1-17.5.1 18.5.1-8.1.1-13.2.1 9.9.1 14.2.1-4.1.1-8.6.1 9.3.1-3.8.1-3.6.1-1.5.1 5.2.1-7.2.1 2.6.1-9 .1 19.9.1-.6.1 0 .1 1.6.1-4.5.1 3 .1-6.6.1 6.5.1-29.3.1 25.5.1-12.9.1 10.6.1 2.7.1 2.9.1-9.9.1 2.5.1 8 .1-12 .1.5.1 1.9.1 8.9.1-10.3.1-6.4.1 9 .1 6.8.1-1.3.1-27.7.1 21 .1 1.2.1-4.4.1 8.1.1 5.1.1-11.9.1-2 .1-3.4.1 5.3.1.2.1-1.1.1-4.5.1 7.3.1 11.3.1-8.9.1-13.2.1 4.1.1.1.1 9.1.1-4.9.1 1.4.1 1.4.1-6.4.1 6.9.1-7.6.1 3.5.1 4.4.1-4 .1 5.9.1 1.7.1-8.3.1-8.3.1-39.1.1 103.4.1-25 .1-52.9.1 55.8.1-53.4.1 49.3.1-59.3.1 43.6.1-36.1.1 45 .1-43.3.1 43.2.1-40.8.1 33.7.1-20 .1 10.5.1-16.9.1 15.3.1-15.3.1 22.1.1-20.5.1 19 .1-13.5.1 8.5.1-11.2.1 11.3.1-12.2.1 7.2.1-2.7.1 5.2.1-8.2.1-1.7.1 2.9.1-8.1.1 25 .1-12.3.1-8.3.1 24.3.1-22.6.1 23.3.1-23.7.1-6 .1 21.6.1-25.4.1 26.8.1-19.7.1 13.4.1 2.6.1 11.2.1 0 .1-21.7.1 1.2.1-26.4.1 47.3.1-20.5.1-8.1.1 9.3.1-7.6.1 28.2.1-14 .1 1.7.1-20.3.1 17.3.1-2.4.1-4.2.1 8.2.1-.1.1 10.5.1-32.6.1 22.7.1-24.5.1 14.5.1-5 .1 2.2.1-9.5.1 33.2.1-43.1.1 17.8.1 18.5.1-19 .1 15.7.1-18.3.1 14.9.1-8.2.1-3.7.1 31.3.1-34.9.1 10.4.1-4.6.1 4.6.1-5 .1 1.6.1 8.1.1-3.5.1-19.1.1 18.4.1 7.5.1-14.2.1 14.4.1-97.9.1 244.2.1-37.8.1-173.9.1 138.6.1-161.8.1 136.2.1-89.9.1 83.3.1-80.1.1 72 .1-67.8.1 52.4.1-79.7.1 100.2.1-66.4.1 42.5.1-49 .1 49.4.1-43 .1 52.9.1-45 .1 42.1.1-47.7.1 35.9.1-37.7.1 38.1.1-29.2.1 35.1.1-32.5.1 25.3.1-33.4.1 30.2.1-23.7.1 12.3.1-16.3.1 5.9.1-5 .1-4.1.1 24.2.1-19 .1.5.1 2.2.1 16.4.1-60.2.1 51.3.1 25 .1-45.7.1 52.2.1-51.4.1 34.6.1-30.2.1 35.4.1-42.4.1 34.7.1-21.5.1 26.4.1-34.6.1 34.1.1-29.7.1 24.7.1-20.5.1 16.5.1-11.9.1 18.2.1-15.4.1 7.4.1-5.2.1 10.5.1-18 .1 17.5.1-13.2.1 14.3.1-11.6.1 6.9.1-8.1.1 6.1.1-12.5.1 4.1.1 9.8.1-15.3.1 14 .1 19.5.1-51.5.1 37 .1-15.6.1 11.8.1-7 .1-.5.1-9.7.1-2.6.1 26.5.1-26.3.1 9.4.1-4.7.1 16.1.1-2.9.1-3.8.1-7 .1 13.2.1-10.4.1-5.2.1 5 .1 8.6.1-.5.1 5 .1-16.1.1 8.6.1 4.2.1-9.9.1.1.1-3.1.1 27.5.1-33.4.1 3.9.1 3.8.1 13.3.1-1.5.1 4.3.1-4.5.1-7 .1 27.4.1-20.9.1-19.1.1 22.1.1-3.4.1-16.2.1 15.9.1-9.4.1 9.2.1-8.1.1 14.4.1-9.6.1-9.6.1 13.7.1-17.9.1 17.8.1-6.7.1-7.1.1-1.3.1 11 .1-.7.1 10.2.1-14.2.1-22.2.1 31.7.1-2.6.1-2.4.1-3.2.1 12 .1-.6.1-44 .1 99.8.1-30.1.1-57.5.1 51.5.1-56.7.1 52.4.1-42.4.1 54 .1-60.6.1 38.4.1-33.6.1 46.5.1-45.6.1 39.5.1-36.8.1 30.5.1-20 .1 18.8.1-24.3.1 25.5.1-19.9.1 16.1.1-15.1.1 11.4.1-10.8.1 9.3.1-13.5.1 16.2.1-14.9.1 11.3.1-3.3.1 5.2.1 6.7.1-5 .1-5.1.1 9.3.1 7.7.1-10.6.1-6 .1 15 .1-17.8.1 11.4.1-3.2.1-.9.1 4.5.1 1.7.1-15.1.1 5.5.1-6 .1 2.6.1 11.5.1-16.9.1 10.6.1-4.4.1-12.5.1 11.6.1 2.5.1.8.1-1.6.1-1.6.1 14.7.1-10.6.1 6.4.1 4.3.1-27.9.1 10.4.1 9.7.1.1.1 4.6.1-13.9.1 25.9.1-4.5.1-14.1.1-8.3.1 4.9.1 9.4.1-8.3.1 2.8.1-1.8.1-12.6.1 3.1.1 4.7.1 1.9.1-1 .1-2.3.1 3.7.1-11.9.1 23 .1-9.3.1 11.1.1-24.8.1 22 .1-17.2.1.9.1 11.1.1-10.6.1 4.5.1-1.2.1 1.7.1 2.9.1 8.5.1-22.6.1 20 .1-13.8.1-9.7.1 19.7.1-10.3.1-5.8.1 14.8.1-10.6.1 10.7.1-5.4.1 6.1.1.8.1-4 .1-2.1.1-.4.1-5.5.1-2.4.1 15.5.1 2 .1-6.3.1 3.1.1-12.6.1 18.1.1-18.2.1 11.9.1-1.2.1-.8.1-5.8.1 5 .1-1.2.1 2.3.1 3.7.1-3.9.1 1.3.1 4.7.1-31.8.1 21 .1-7.9.1 9.5.1-8.2.1 5.2.1 13.8.1-21.9.1 30.5.1-28.6.1-.1.1 8.7.1 2.3.1-8.4.1 4 .1 6.5.1 13.2.1-20.2.1-.1.1 16.8.1-4.7.1 1.5.1-2.2.1-2.4.1 2 .1-16.4.1 6.5.1 6.2.1 4.1.1 1.2.1-8.4.1-16.4.1 9.5.1 15.8.1-13.7.1.9.1 5.1.1-.6.1 15 .1-5.8.1-19.7.1 17.6.1-14.4.1-.4.1-5.5.1 8.2.1 14.7.1-5.8.1-8.2.1 3 .1-2.1.1 2 .1 5.8.1-1.3.1 9.2.1 4.1.1-19.5.1-66.5.1 156.9.1-46.2.1-87.8.1 77.3.1-49.2.1 51.8.1-72.4.1 63.9.1-47.2.1 41.8.1-50.2.1 47.2.1-47.6.1 58.2.1-50.4.1 41.6.1-44.8.1 39.3.1-26.6.1 29.4.1-21.1.1 21.8.1-30.8.1 19.8.1-5.4.1 12.7.1-27.9.1 26.2.1-23.1.1 17.2.1-13.7.1 1.9.1 6.1.1 7.8.1-2.8.1-28.2.1 13.2.1-2.5.1 23.5.1-5.7.1 1.5.1 3.5.1 6 .1-20.3.1 11.1.1 8.3.1-7.1.1-15.4.1 10.1.1-.5.1 17.2.1-17 .1-14 .1 10.8.1-3 .1 32.9.1-27 .1 14.5.1-12.3.1 4.2.1 3.3.1-4.7.1-1.3.1-16 .1 10.3.1 8.7.1 7 .1-21.9.1 16.5.1-35.6.1 7.3.1-2.3.1 16.4.1-8.2.1 31.5.1-24.5.1 7.1.1-.5.1 9.5.1-9.7.1-21.9.1 13.1.1 7.2.1-6 .1 2.6.1 15.3.1-14.7.1-8 .1 41.1.1-12.9.1-39.4.1 14.5.1 15.4.1 9.2.1-15.5.1 1.8.1-20.4.1 38.7.1-12.2.1-24 .1-1 .1 17.7.1 7.8.1-95 .1 201.9.1-39.2.1-112.1.1 106.5.1-116.7.1 73.4.1-78.2.1 86 .1-73.1.1 77.1.1-75.8.1 48.4.1-40.8.1 58.7.1-55.4.1 46.1.1-55.9.1 44.4.1-34.7.1 46.7.1-32.8.1 30.3.1-33.5.1 34.5.1-21.2.1 14.1.1-21.8.1 18.9.1-21.9.1 22.5.1-18.2.1 24.6.1-21.8.1 9.5.1-.7.1 8.6.1-15.2.1 20.9.1-16.2.1-3.6.1 23.2.1-28.4.1-7.1.1-5.9.1 14 .1 9.6.1 5.8.1-7 .1-9.2.1 14.2.1-11.4.1-8 .1 9.6.1-2.3.1-.8.1-61.7.1 164.8.1-49.2.1-78.8.1 60.7.1-89.7.1 107.2.1-90.6.1 79.6.1-71.9.1 60.7.1-57.4.1 56.4.1-43.2.1 38 .1-42.2.1 42.6.1-48.8.1 53.2.1-43.3.1 26.4.1-28.1.1 23.4.1-16.7.1 19.5.1-16.1.1 20 .1-16.5.1 19.5.1-22.5.1 12.9.1-12.3.1 1.3.1-1 .1-13.2.1 17.6.1-6.3.1-9.3.1 13.8.1-4.6.1-2.2.1 20.2.1-26 .1 26.4.1-2.5.1-6.2.1-4.1.1.1.1 16.9.1-16.2.1-15.8.1 13.4.1 7.5.1-7.3.1-4.7.1 2.8.1 8.6.1-25.1.1 16.8.1.1.1-13.6.1 13.4.1-1.5.1-.6.1 11.9.1-6.9.1-85.3.1 208.8.1-41.8.1-120.9.1 116.7.1-99.8.1 56.7.1-66.8.1 61.8.1-75 .1 99.8.1-74.7.1 65.9.1-71.7.1 56.1.1-46.2.1 46.1.1-48.3.1 39.8.1-48.1.1 48.3.1-32.5.1 32.9.1-38 .1 31.7.1-28.5.1 26.5.1-25.1.1 35.1.1-29.4.1 17.1.1-12.1.1 2.5.1 11.7.1-7.6.1 3 .1 8.1.1-18.4.1-1 .1 9.5.1 5 .1-2 .1-10.5.1 17.1.1-20.7.1 10.6.1.9.1-.5.1-11.9.1-.7.1 6.7.1 13.7.1-15 .1 9.2.1 7.6.1-7.6.1 5.1.1-13.5.1-6.9.1 7.2.1-12.8.1 17.1.1-5.4.1 8.7.1-3.4.1-6.8.1-5.1.1 18.3.1-8.9.1-5.3.1 10.7.1-10.8.1 11.1.1-7.3.1-5.1.1 8.8.1 8.2.1-12.4.1 16.1.1 3.9.1-18.4.1 3.8.1-.5.1-7 .1-3.6.1-10.9.1 13.9.1 7.6.1 4 .1-8.3.1 8 .1-16.1.1 11 .1-7 .1 7.3.1 3.4.1 9 .1-6.3.1-4 .1-5 .1 16.8.1-26 .1 5.3.1-4.6.1 19.6.1-7.6.1 4.9.1-5.4.1-1.5.1-3.4.1-5.3.1 31.7.1-27.6.1 6.8.1 6.6.1-10.6.1-.1.1.8.1 12.7.1-24 .1 8 .1 19.7.1-12.9.1-2.3.1-10.2.1 6.4.1-2.6.1.9.1 6.8.1-81.4.1 205.3.1-72 .1-85.7.1 79.8.1-113.5.1 109.2.1-92.3.1 99.7.1-71.9.1 40.3.1-44.9.1 51 .1-61.4.1 71.6.1-55.8.1 51.4.1-55.7.1 54.5.1-42.1.1 45.2.1-46.4.1 28.6.1-33.9.1 38.1.1-32.8.1 22 .1-19.8.1 30.1.1-25 .1 14.4.1-13.4.1 1.2.1-6 .1 23.7.1-7.5.1-1.5.1-1 .1-9.7.1 2.6.1 4.1.1-5.7.1 6 .1-4 .1.2.1 12.3.1 6.7.1-15.4.1.5.1-2.6.1-.1.1 4.4.1-12.5.1 15.5.1-4.2.1.3.1 5.1.1-14.3.1 12.8.1-18.9.1 18.5.1-4.6.1 2.1.1-5.4.1-5.2.1 8.7.1-3.7.1 2 .1-1.1.1 3.1.1-4.8.1 8.2.1-14.8.1 3.9.1 3.8.1-7.8.1 10.3.1 1.2.1-2.8.1-9.7.1 14.2.1-4.4.1 7.8.1-3.8.1.9.1 11.1.1-16.5.1 5.5.1-5.4.1-4.7.1-5 .1 11.5.1 2.7.1-5.1.1-1.5.1 6.5.1-4.7.1 2.1.1-34.5.1 74.4.1-23.1.1-32.7.1 38.5.1-43.8.1 32 .1-24.2.1 30.1.1-33.5.1 25.3.1-14.7.1 14.7.1-14.2.1 17.1.1-17 .1 14.1.1-12.2.1 10.8.1-14.4.1 16 .1-11.3.1 7.5.1-9.8.1 11.6.1-7.8.1 8.1.1-6.9.1 4.1.1-5.9.1 5.1.1-3 .1-4 .1 9 .1-6.2.1-3.2.1 9.9.1-7.2.1 8.6.1-3.1.1-4.2.1-2.9.1 8.4.1-6 .1.6.1 5.4.1 3.3.1-9.1.1 2.8.1-.3.1 1.8.1-.5.1-7.6.1 12.6.1-10.7.1-2.6.1 3 .1 3.2.1-11.4.1 10.4.1 4.5.1-8.2.1 9.1.1-6.8.1 10 .1-16.9.1 17.7.1-8.3.1-14.8.1 13.2.1 11.9.1-5.6.1-12.3.1 10.1.1-14.2.1 24.5.1-8 .1-44.5.1 37.7.1 16.9.1-35.1.1 30.3.1-28.9.1 35.7.1-34.7.1 33.1.1-29.3.1 19.7.1-20.5.1 28.1.1-20 .1 20 .1-25.3.1 17.7.1-19.6.1 18.5.1-11.7.1 16.1.1-16.6.1 12 .1-12.8.1 10 .1-2.8.1 5.4.1-7.3.1 10.1.1-7.7.1 5.1.1-6.3.1 2.9.1 4.8.1-7.2.1 4.6.1 3.3.1-.9.1.7.1-6.7.1 1.9.1-1.6.1 5.9.1-12.1.1-.1.1 15.5.1 0 .1-5.3.1 8 .1-4.9.1 4.7.1-16.1.1 12.3.1-4.5.1-4 .1.4.1 1.4.1-5.5.1-14.5.1 17.8.1 6.3.1-3.6.1 3.5.1-5.4.1 10.1.1-12.4.1-.6.1 6 .1-1.2.1 4.2.1 2 .1-9.5.1 8.6.1-12.1.1 6.8.1-.5.1 2.4.1-5 .1 4.4.1-5.5.1 1 .1 2.3.1 6.1.1-.3.1-5.3.1-4.9.1 6.6.1 3.9.1-13.5.1 11.2.1-17.6.1 14.1.1 0 .1-4.9.1 12.4.1-4.2.1-5 .1-3.8.1-2.3.1 5.9.1 4.9.1-6.3.1 12.6.1-2.7.1-4.1.1-9.1.1 7.2.1 8.1.1-3.7.1-13 .1 11.7.1 1.3.1-8.5.1 4.2.1-11.5.1 14.9.1-7.9.1 9.4.1-6.4.1 2.4.1-6 .1 1.2.1 4.9.1-9.7.1 13.2.1-8.4.1 1.3.1 5.3.1-1 .1 1.4.1-1.9.1-3.5.1 2.8.1-2.1.1.4.1-8.7.1 8.1.1 4.5.1.6.1-5 .1 2.9.1-5.2.1 10.5.1-8.5.1-4.7.1-31.4.1 82.8.1-16.3.1-45.3.1 43.5.1-45.1.1 40.5.1-32.1.1 19.7.1-21.5.1 27.5.1-32.8.1 29.5.1-26.4.1 20.9.1-20.4.1 25.3.1-20.9.1 21.3.1-18.2.1 16.8.1-14.1.1 10.4.1-15.4.1 12.7.1-9.6.1 8.3.1-9.3.1 6.7.1-6.1.1 10.8.1-4.2.1-3.7.1.6.1 3.9.1-4.2.1 3.3.1 0 .1-8.5.1 13.6.1-19.4.1 10.3.1 5.7.1-7.4.1 3.7.1-1.2.1 5.5.1-9 .1 7.7.1-4.6.1-8.6.1 1.4.1.8.1 8.7.1-6.8.1 20.6.1-6.8.1-12.7.1 2.6.1-1.7.1 15.5.1-5.6.1-10.4.1 2 .1-2 .1-3.5.1 9.2.1-5.9.1 7.2.1 8.1.1-14.4.1 3.4.1-3.1.1 2 .1-1.8.1 6.2.1-9 .1 13.2.1-1 .1-5.2.1-38.8.1 79.5.1-23.8.1-45.7.1 50.6.1-48.8.1 49.1.1-29.7.1 27.9.1-34.9.1 27.3.1-23.8.1 21.3.1-19.5.1 20.3.1-13.8.1 10.8.1-18.5.1 17.5.1-14.3.1 10.9.1-8.2.1 9.3.1-11.6.1 13.3.1-15.8.1 13.7.1-4.2.1 7.4.1-15.3.1 12 .1-6.8.1 2.4.1-2.2.1.8.1 7.4.1 2.5.1-12.3.1 7.5.1-12.4.1 10.3.1.2.1.4.1-2.8.1 6.7.1 1.4.1-7.9.1 7.6.1-12.8.1 11.2.1 6.3.1-17.1.1 3.4.1-3.9.1 10.4.1 3.2.1-2.4.1-8.1.1 6.4.1-6 .1 3.9.1-16.5.1 23.4.1-15.7.1 18.3.1-16.5.1 3.8.1-7 .1 20.8.1-17.8.1 7.3.1 8 .1-6.7.1-17.1.1 6.4.1 6.5.1 9.2.1-7.5.1-7.9.1-1.6.1-3.9.1 3 .1 6.9.1-6.7.1 9.4.1.6.1-5.1.1 19.5.1-9.5.1-13.1.1 16 .1-12.6.1 4.6.1-3.5.1 18.1.1-4.8.1-11.1.1 3.5.1-6 .1-.3.1-5.3.1 8.8.1-7.1.1 2.8.1-6.5.1-.4.1-4.8.1 24.2.1-12.8.1-9.5.1 20.3.1-8.8.1-.8.1-7.8.1 6.8.1 10 .1-4.3.1 5.2.1-9.4.1-2.9.1 9.3.1 6.1.1-26.5.1 12.2.1-5.4.1 12 .1 4.2.1-4.1.1-8.9.1-.8.1 1.3.1 11.7.1 1.1.1.2.1-16.5.1 19.3.1-7.2.1-9.9.1 15.1.1 4.4.1-17.4.1 2.5.1-15 .1 15.5.1-18.3.1 26.3.1-15.6.1 21.4.1-10 .1-5.1.1-11.6.1 5.1.1 8.1.1 9.9.1 4.6.1-18.6.1 9.9.1-22.1.1 34.1.1-99.9.1 178.2.1-62.9.1-57.3.1 57.9.1-74.1.1 83.3.1-78.6.1 76.3.1-78.9.1 62.2.1-43.7.1 57.1.1-50.4.1 33.5.1-41 .1 35.9.1-34 .1 42.1.1-38.4.1 38 .1-29.6.1 14.5.1-13.3.1 23.2.1-34.6.1 25.8.1-14.1.1 12.7.1-17.3.1 17.8.1-13.1.1 18.3.1-33.3.1 20.8.1-1.9.1-4 .1 3.8.1-14.7.1 10.4.1 18.1.1-3.8.1 4.5.1-21.6.1 20.2.1-13.3.1-8.1.1 12.2.1 8.3.1-13.4.1.2.1-4.7.1.6.1 12.8.1-17 .1 28 .1-8.1.1-10.5.1 8.2.1-4.7.1 9.6.1-4 .1-12.6.1 8.3.1 20.1.1-9.9.1-8.8.1-1.2.1.7.1.3.1-13.1.1 11.5.1 15.1.1-21.8.1 8.7.1-2.2.1-3.8.1 15.2.1-8.5.1 10.1.1-23.5.1 19.5.1-10.1.1-2.1.1-13.1.1 13.4.1 11.7.1-29.7.1 18.2.1 15.2.1-21.6.1 12.8.1-4.4.1 7 .1-9.9.1 17.1.1-12.5.1-15.2.1-1.5.1 4.3.1-51.3.1 209.7.1-89.5.1-119.2.1 148.2.1-155.4.1 130.2.1-103.7.1 116.6.1-114.5.1 66.1.1-88.7.1 103.9.1-85.8.1 85.2.1-82.4.1 64.2.1-39.6.1 32.6.1-49.7.1 46.2.1-28.3.1 42.4.1-37.6.1 21.6.1-32.8.1 47.5.1-38.4.1 29.6.1-30.7.1 26 .1-24.9.1 29.3.1-14.8.1 6.6.1-11.4.1-.6.1-20.4.1 38.3.1-15.7.1 18.1.1-8.8.1-17.5.1 5.3.1-9 .1 27.9.1-27.4.1 22.2.1-28.5.1 8 .1 9.1.1 17.5.1-3.5.1-23.4.1 6.8.1 17.8.1-2.4.1 1.9.1-27.7.1 13.3.1 10.5.1-7.9.1 8.2.1-28.1.1 18.5.1 4.9.1-26.4.1 24.3.1 11.6.1-10.1.1-5.5.1.8.1-9 .1 26.9.1-29.5.1 12.1.1 7.9.1-16 .1 20.5.1-22.6.1 7.1.1-6.7.1 18.9.1 4.3.1-7 .1-20 .1 12.4.1 15 .1-4.9.1-22.9.1-.6.1 17.5.1 8.3.1-3 .1-8.2.1-7.2.1 3.8.1 5.6.1-15.7.1 2.8.1 13.5.1-9.3.1-10.3.1-10.6.1 42.1.1.6.1-13.7.1 3.8.1 8.3.1.9.1-3.4.1-28.4.1 23.4.1-11.2.1 3.6.1 6.6.1-19.6.1 11.9.1 5.8.1-8.1.1 7.5.1-.1.1 9.1.1-20.9.1 11.3.1-8.7.1.3.1 5.3.1-3.3.1-3.6.1 6.7.1-9.4.1-5.2.1 22.9.1-4.5.1-9.2.1 12.8.1-10.8.1 13.7.1-14.8.1 18.9.1 3.6.1-14 .1-16 .1-20.2.1 72.6.1-22.8.1-46 .1 39.8.1-16.3.1 19.2.1-25.8.1 25.4.1-23.7.1 22.2.1-19.8.1 19.5.1-25 .1 27.4.1-18.9.1 14.8.1-20.6.1 21.8.1-17.3.1 11.1.1-7.5.1 4.5.1-6.5.1 10.8.1-9 .1 7.2.1-8.9.1 7.7.1-8.9.1 13.6.1-10 .1 11.6.1-3.1.1-12.9.1-5.7.1 10.3.1-2.6.1-2.7.1-1 .1 7.1.1 8 .1-11.8.1 9.8.1.1.1 12.1.1-14 .1-13.7.1 13 .1-3.1.1-6.9.1 13.8.1.2.1-6.4.1-4.7.1 10.1.1 8.6.1-14.3.1 2.4.1 10.2.1-6.3.1-3.4.1-3.3.1 7.4.1-8.6.1 3.5.1 9.4.1-12.3.1 4.5.1-7.6.1-4.7.1 7.3.1 3 .1 4.5.1-9.8.1-.9.1 1.4.1 6.2.1-4.7.1-4.2.1-4.4.1-5.9.1 23.9.1-10.8.1 17.5.1-17.1.1 1.2.1 5 .1-9.2.1 6.3.1-8.2.1 13.4.1-8.6.1 9.7.1.8.1-9.8.1-.8.1-11.7.1 27.3.1.2.1-30.7.1 21.6.1-6.7.1-.6.1 13.5.1-4.3.1-7.5.1-3.9.1 15.2.1-17.2.1 12.1.1-9.1.1 11.8.1-18.3.1 7.8.1-4.7.1 10.5.1-15.6.1 12.3.1-1.4.1-6 .1 9.6.1 1 .1 10.1.1-7.4.1.7.1-3.5.1 2.3.1-9.5.1 10.6.1-2.9.1-13.6.1 9.4.1-7.5.1 10.5.1-6.9.1 11.9.1-12.9.1-8.9.1 32.1.1-28.4.1 2.1.1 9.5.1 11.9.1-13.8.1-3.1.1.6.1 9.9.1-10.7.1 20.2.1-17.8.1-13.5.1 20.4.1 1.6.1-3.1.1-4.4.1 8.4.1 1.1.1-10.5.1 6.4.1-.6.1 2.1.1-4.3.1-10.4.1 17.6.1-12.7.1 6.9.1-1.7.1-3.1.1-7.4.1 8.6.1 6.6.1-.4.1-6.4.1 6.5.1-15.8.1 11.8.1 11.8.1-10.1.1-15 .1 9.7.1-1.2.1 13.3.1-4.5.1 5 .1-16.4.1 11.5.1-2.4.1 4.8.1-14.3.1 9.2.1 1.2.1-1.1.1-6.9.1 18.7.1-6.8.1-1 .1-15.5.1 15 .1-10.3.1-64.7.1 149.7.1-25.9.1-82.2.1 49.3.1-42.2.1 51.5.1-74.2.1 75 .1-53.4.1 52.6.1-49.8.1 50.2.1-42.1.1 26.2.1-33.8.1 35.9.1-35.7.1 38 .1-31.8.1 24 .1-18.1.1 18.2.1-24.8.1 31.3.1-18.3.1 11.7.1-14.6.1 12.6.1-20 .1 20.2.1-9.6.1 8 .1-1.8.1-7.3.1 5.1.1 3.4.1-6.2.1-20.4.1 10.9.1 10.6.1-.9.1 12.6.1-9.2.1.4.1 7.4.1-19.2.1 10.9.1 3.3.1-1.8.1-14.5.1 3.8.1.7.1 9.6.1-6.4.1 11.1.1-7.8.1-3.1.1-10.1.1 2.5.1-4.9.1 12.5.1 4.4.1-3.6.1-.9.1-12.1.1 16.1.1-4.9.1 5.9.1 3.5.1 2.7.1 11 .1-15.2.1.1.1-7 .1 10.8.1 1.3.1-19.9.1 19.3.1 5.7.1-30.6.1 7.1.1 12.7.1.3.1 16.7.1-31.5.1 18.3.1-16.4.1 21.1.1 5.7.1-25.7.1-8.3.1 2.5.1-10.2.1 18.4.1 6.6.1 1.3.1-4.8.1-24.4.1 14.4.1 20.4.1-33.9.1 24.9.1 10.3.1-16.3.1 19.1.1-10.7.1-64.5.1 156.5.1-54.3.1-81 .1 80.3.1-72.2.1 75 .1-87.9.1 64.1.1-51.4.1 60.5.1-65.8.1 77.1.1-59.1.1 53 .1-49.3.1 39 .1-31.4.1 31.8.1-40.5.1 30.1.1-23.6.1 26.6.1-28 .1 11.3.1-11.9.1 24.4.1-23.3.1 26.5.1-26.9.1 16.2.1-15 .1-9.7.1 12.2.1 0 .1-4.9.1 19.7.1-12.6.1-17.5.1 7.8.1 31.3.1-16.7.1-1.1.1-1.1.1-53.7.1 114.5.1-19.5.1-44.2.1 38.8.1-47.3.1 46.3.1-57.1.1 41.9.1-38.4.1 47.3.1-31.9.1 24.2.1-36 .1 31 .1-26.1.1 28.4.1-22.8.1 18.2.1-26.4.1 18.4.1-10.2.1 19.9.1-18.2.1 19.4.1-18.8.1 13.6.1-9.1.1 1.7.1-1 .1 6.6.1-.4.1-12.5.1 15.6.1 8.5.1-26.7.1 5.3.1-11.1.1 27.2.1-17.3.1 18 .1-11.1.1 7.7.1 8.6.1 6.7.1-27.9.1 29.1.1-7.4.1-19.5.1.6.1 1.9.1-6 .1 3.1.1 5 .1 2.5.1-.9.1-13.5.1-2.4.1 26.2.1-28.1.1 19.8.1-21.1.1-5.4.1 15.2.1 3.4.1 8.8.1-5.7.1-1.4.1 20.4.1-8.9.1 11.3.1-12.2.1-11.9.1 17.5.1-32.6.1 14.2.1-9.5.1 6.5.1-75 .1 187.1.1-42.1.1-115.4.1 103.4.1-101.8.1 100.8.1-98.9.1 66.5.1-51.5.1 61.6.1-61.8.1 47.8.1-39.4.1 46.8.1-48.1.1 43.6.1-51.1.1 41.9.1-16.2.1 24.1.1-37.8.1 28.2.1-23.1.1 24.6.1-16.4.1 20 .1-27.1.1 19.9.1-15.9.1 16.7.1-17.5.1-.5.1 20.5.1-2.8.1-18.3.1 2.9.1-17.1.1 17.8.1-5.3.1 13.2.1-16.2.1 14.1.1 4.1.1-15.3.1 13.4.1 2.2.1 6.4.1 4.1.1-36.1.1 1.9.1 26.2.1-15.9.1 21 .1-24.5.1 3.7.1 22.2.1-29.4.1 12.3.1 22.2.1-18 .1-17.2.1 14.2.1 0 .1 12.7.1-15.2.1 25.2.1-1.1.1-8.4.1-5.1.1 13.4.1-30.6.1 20.6.1-12.3.1 12.8.1-21.5.1 31.1.1-24.4.1-4.2.1 15.9.1 1.6.1-14.8.1 23.5.1-10.9.1-2.9.1 2.9.1-3.5.1-1 .1-3.9.1 1.6.1 4 .1 7.4.1-10.3.1-3.6.1 23.2.1-21.4.1 5.3.1-8.6.1-15.9.1 19.9.1 14 .1-24 .1 28.2.1-14.8.1-1.9.1 14.2.1-25.3.1 25.6.1-36.9.1 33.8.1-13.6.1 9.1.1 8.7.1-6.4.1-13.4.1 17.2.1-20 .1.1.1 15.1.1 6.9.1-16.7.1 6.9.1-23.8.1 16.2.1 6.7.1 4.1.1-5.8.1-3.5.1-54.1.1 169.4.1-77.1.1-92.7.1 113.5.1-109.1.1 110.9.1-85.4.1 69.5.1-96.7.1 79.9.1-55.6.1 62.8.1-57.1.1 52.9.1-52.5.1 33.4.1-20.3.1 34.2.1-42.8.1 38.3.1-40.7.1 42 .1-35 .1 24.6.1-21.8.1 20.7.1-21.1.1 23.1.1-17.7.1 10.1.1-10.3.1-33.8.1 97.6.1-40.3.1-33.2.1 49.6.1-52.3.1 52.8.1-62.2.1 42.6.1-29 .1 27.4.1-22.9.1 32.4.1-40.5.1 29.2.1-16 .1 22.9.1-30.7.1 19.8.1-11.7.1 17.5.1-18.5.1 13.4.1-8.7.1-30.4.1 68.8.1-11 .1-39.3.1 29 .1-24.1.1 20.4.1-30.7.1 38.4.1-29.7.1 18.4.1-15 .1 12.9.1-17.4.1 14.6.1-9.4.1 11.6.1-12.6.1 14.9.1-13.1.1 9.6.1-7.6.1 7.2.1-3.1.1 9 .1-16.2.1 12.6.1-10 .1 11.3.1-12.6.1 7.1.1-5.6.1-9.2.1 17 .1-5.6.1 2.6.1-2.2.1 3.2.1-9.6.1-.3.1 15.5.1-14.2.1 9 .1-3.6.1-5.1.1 5.3.1-8.5.1 11.5.1-12.7.1-1.6.1 16.2.1-14.3.1 12 .1-16.6.1 26.1.1 4.8.1-23.3.1 15.5.1-1.1.1-13.9.1-8.9.1 14 .1-1.1.1 13 .1-20.6.1 14.3.1-2.2.1-8.9.1-10.6.1 17.9.1-11.9.1 6 .1-7.8.1 20.1.1-5.1.1-7.6.1-2.8.1-4.2.1 18.1.1-12.4.1 15.3.1-10.5.1-6.6.1 2.6.1-6.8.1 24.9.1-13.9.1 5.1.1 2.7.1-16 .1 14.7.1-5.2.1-5.6.1 17.7.1-23.2.1 4.7.1-2.1.1-4.3.1 11.8.1 4.3.1 1.6.1-7.6.1 3.7.1 6.4.1-11.3.1 5.6.1-4.2.1-.4.1 7.2.1-3.2.1-4.2.1.7.1 2.4.1 6.7.1-4.9.1 6.8.1-19 .1-3.3.1-8.3.1 63.3.1-14.3.1-50.9.1 47 .1-39.9.1 27.6.1-22.8.1 30.1.1-32.1.1 25.1.1-24 .1 22.2.1-14.7.1 13.6.1-17.3.1 20 .1-16.8.1 12 .1-13.4.1 15.8.1-12.8.1 10.7.1-12.3.1 12.7.1-9.4.1 10.1.1-8.9.1 4.2.1-3 .1 6.5.1-9.1.1 11.3.1-2.2.1-4 .1 1.3.1-9.2.1 2.6.1-5.8.1 9.8.1 2.1.1-9.9.1 8.1.1-3.8.1 3.5.1-12.5.1 15.2.1.8.1-10.9.1 7.6.1-3.4.1 3 .1 1.1.1-6.9.1-.6.1 8 .1.8.1-8.3.1 10.7.1 3.9.1-5.2.1-7.7.1 4.1.1-10.2.1 5.2.1 6.9.1 4.6.1-17.8.1 18 .1-2.7.1-6.6.1 1.7.1 1.6.1 2.7.1-6.8.1 7 .1-9.4.1 12.6.1-12.5.1 4.4.1 3.9.1 6.4.1-9.6.1 4.9.1-4.4.1.3.1-.2.1-7.3.1 9.7.1-8.4.1 11.9.1 1.3.1-6.5.1-1.5.1-6.7.1 23.6.1-17 .1 4.2.1 4.9.1-8 .1 4.2.1-4 .1 1.2.1 3.5.1 5.5.1-10.5.1-2.5.1 14.4.1-4.9.1-4.8.1 3.5.1-5 .1 1 .1 5.3.1 2.4.1-15.1.1 3.2.1.7.1 11.2.1-8.3.1 5.3.1-8.1.1 5.6.1-3.6.1-1.6.1 6.3.1-16.9.1 10 .1 11.5.1-5.5.1 3.5.1-8.7.1 13.2.1-13.9.1 13.3.1-9.9.1-.1.1 2.5.1-1.8.1-1.9.1-2.8.1 5.7.1 2.1.1-7.2.1-.1.1 5.6.1-8.5.1 15.5.1-42.3.1 74.4.1-23.3.1-43.9.1 48.4.1-35.6.1 29.4.1-34.3.1 32.9.1-25.9.1 22.7.1-19.5.1 20.2.1-24.6.1 21.3.1-18.3.1 13.2.1-10.4.1 14.3.1-13.7.1 12.1.1-15.1.1 17.5.1-17.6.1 11.9.1-7.8.1 8.3.1-9.9.1 10.1.1-8.3.1 3.3.1-4.5.1-7.4.1 18.9.1-4.2.1 2.9.1-10.5.1 0 .1 2.3.1 3.5.1-5.8.1 1.5.1-.5.1-5.4.1 7.5.1 5.8.1 4.7.1-9.2.1 0 .1 2.8.1 1.6.1-2.8.1 6.9.1-.9.1-16.6.1 14.2.1-4.1.1 3.6.1 4.6.1-4.9.1-3.3.1-9 .1 14 .1 6.4.1-9.7.1-7.2.1 9.6.1 6.4.1-3.4.1-9.1.1 3.2.1 1.1.1-5.3.1 1.1.1-3.5.1 3.5.1.5.1 10.9.1-33.1.1 52.2.1-10.2.1-28.6.1 18.1.1-15.5.1 18.6.1-24.7.1 19.7.1-20.8.1 21.9.1-18.5.1 20.3.1-13.6.1 11.1.1-12.7.1 16.2.1-12 .1 11.5.1-11.6.1 8.8.1-9.4.1 11.2.1-10.8.1 8 .1-7.5.1 6.9.1-3.7.1 3.3.1-5 .1 2.9.1-2.6.1-1.7.1 9.8.1-3.1.1 7.9.1-9.2.1-7.6.1 14.2.1-17.2.1 15.1.1-.7.1 2.6.1-6.6.1-.1.1 4.5.1-16.4.1 19.5.1-8 .1-9.7.1 14.4.1-6.8.1-1.9.1-7.1.1-3.1.1 12.4.1-.2.1 13.1.1-17.7.1 6.5.1-7 .1 4 .1 4.6.1-12.9.1 11.1.1.1.1-1.9.1-7.2.1 1 .1 5.4.1 5.5.1-6.2.1-.8.1 7.8.1-7.5.1-3.7.1 11.9.1-4.7.1-14.7.1 12.1.1 2.6.1 3.1.1-2.5.1 10.3.1-16.4.1-5.2.1 3.4.1 18.5.1-18.7.1 8.4.1-10.5.1-.2.1 15.7.1-9 .1 5.8.1-3.4.1-12.5.1 11.5.1 3.7.1 6.1.1 3.8.1-19 .1 2.3.1 13.8.1-12.3.1 20.3.1-18.1.1 5.6.1-8.5.1 6 .1-6 .1-11.1.1 9.8.1-8.2.1 24.4.1-11.2.1-2 .1-15.3.1 18.8.1-8.2.1 4.2.1 5.9.1 6.5.1-7.1.1 4.6.1-30.7.1 30 .1 17.1.1-34.5.1 16.2.1-12.4.1-.1.1 10.1.1 4.3.1-15.6.1 1.6.1 21.9.1-22.7.1 5.2.1 14.8.1-14.6.1-11.2.1 22.7.1-13.4.1-4.4.1 7.1.1-1.4.1-2.6.1-4.1.1 11.9.1 3.4.1-114.4.1 225.5.1-75.3.1-126.1.1 136.1.1-90.4.1 83.2.1-102.9.1 96.1.1-85.5.1 64.9.1-55.8.1 77.9.1-81.4.1 80.3.1-76.1.1 47.4.1-31.4.1 39.5.1-37.9.1 35.6.1-28 .1 28.1.1-35 .1 23.3.1-22.8.1 29.9.1-24.2.1 26.9.1-21 .1 9.3.1-14.6.1 14.1.1-12.4.1 2.2.1 3.8.1 13.8.1 9.7.1-14 .1-13.4.1 9.4.1-11.5.1 10.8.1 3.3.1 9.7.1-21.6.1-1.5.1 8.6.1-6.8.1-2.8.1-2.5.1-1.3.1 13 .1 1.2.1-15.5.1-.3.1 28 .1-10.6.1-13.1.1 16.9.1-13.8.1 13.2.1-.2.1 4.7.1-8 .1 12.1.1 17.7.1-42.5.1 20.4.1-6.7.1-10.7.1 7.2.1 10.3.1-8.1.1 11.1.1-19.1.1.7.1 19.2.1-6.6.1-6.5.1-11.8.1 12.6.1 8.7.1-10 .1-12.8.1 12.4.1 3.1.1-2.6.1-2.8.1-6.7.1 4 .1 6.2.1-7.4.1 6 .1 9.5.1 1.7.1-20.9.1 18.7.1-21.2.1 2 .1-57.5.1 201.3.1-88.6.1-118.8.1 116.7.1-91.2.1 124.9.1-147.8.1 126 .1-88.4.1 74 .1-59.8.1 67.9.1-93.1.1 65.5.1-45 .1 39.4.1-49.3.1 58 .1-50.5.1 40.3.1-36.2.1 33.3.1-19.5.1 27.2.1-36.2.1 30.2.1-24.4.1 21.5.1-27.7.1 29.1.1-28 .1 28.6.1-4.8.1-14.4.1 17.7.1-8.4.1-5.7.1 7.8.1-2.3.1-15.6.1 23.5.1-9.5.1-13.4.1 16.9.1-16.9.1 5.4.1 5 .1 5.3.1 2.1.1-17.8.1 5 .1 12.5.1-45.1.1 40.4.1 6.8.1-26.2.1 43.9.1-50.5.1 40.4.1-34.9.1 41.5.1-37.1.1 38.4.1-36.6.1 30.3.1-31.9.1 26.2.1-10.1.1 8.6.1-21.1.1 22.1.1-16.4.1 8.7.1-5.2.1 9.9.1-9 .1 5.4.1-7.1.1 9.7.1-14.5.1 14.5.1-9.2.1 3.4.1-5.9.1 8.3.1-6.9.1 1.7.1 5.8.1-9.4.1 6.3.1 7.6.1.9.1-18.1.1 12.9.1 4.8.1-15.3.1-2.4.1 1 .1 3.1.1-8.8.1 18.5.1-9.3.1 6.5.1-10.8.1 10.1.1 1.6.1-14.7.1 10.1.1-7.9.1.4.1 3 .1 8.8.1-15.8.1 17.4.1-7.7.1-3.8.1 19.5.1-20.1.1 20 .1-9.3.1-3.8.1 5.8.1-10.1.1.1.1 11.9.1 1.2.1-9.6.1 3.3.1-9.6.1 23.6.1-3.7.1 8 .1-10.2.1-13.7.1.8.1 20.5.1-12.6.1-4.7.1 7.3.1 4.6.1-11.2.1-1.4.1 1.3.1-.4.1 4.3.1 0 .1-11.5.1 3 .1-3.8.1 13.1.1-10.3.1 6.2.1 9.6.1-10.6.1-9.1.1 10.9.1 4.9.1-11.5.1 15 .1-17.5.1 15.2.1-6.3.1-10.6.1 1.3.1 9.5.1 6.5.1-13.6.1 18.8.1-15 .1-2.8.1 4.6.1 5.6.1-13.1.1 8 .1-9.2.1 21.2.1-6.1.1-4.6.1-6.4.1 2.7.1 3.7.1 8.7.1-14.5.1 14.1.1 1.3.1-15 .1-4.3.1 1 .1 5.7.1 1.8.1 3.6.1-7.4.1 7.3.1-12.7.1-1.6.1 19.4.1-8.8.1 8.8.1-1.9.1.5.1-15.3.1 7.3.1-9.5.1-27.2.1 74.3.1-18.4.1-35.9.1 33.3.1-36.9.1 31.7.1-27 .1 31.2.1-27.2.1 28.9.1-25.6.1 19.4.1-13.3.1 9 .1-13.6.1 14.8.1-14.4.1 12.4.1-10.1.1 11.8.1-8.6.1 4.3.1-10.2.1 13.3.1-9 .1 3.5.1-4.9.1 10 .1-8.1.1 7.7.1-10.7.1 2.2.1 21 .1-19 .1.7.1 3.3.1-6.4.1 3.8.1-5.5.1 4.5.1 8.5.1-12 .1-2.8.1 19 .1-.3.1-8.1.1-1.3.1 2.3.1-2.1.1 1.5.1-8.7.1 1.1.1 11.9.1-13.5.1 21.8.1-17.9.1 3.9.1-.9.1.3.1-1.8.1.3.1-2.1.1 2.8.1.6.1 14 .1-13.9.1-.3.1 14.8.1-23.4.1 15.9.1.5.1 1.8.1 1.9.1-15.7.1 4.3.1 7.7.1 1.5.1-21.2.1 8.6.1 20.3.1-22.4.1 10.9.1-1 .1-7.5.1 12.6.1-1.7.1-5.7.1-16.8.1 16.8.1 4.3.1-4.5.1-6.1.1 6.5.1-13.2.1-5.2.1 23.1.1-8.2.1-5.9.1 13.2.1-15.2.1 22 .1-11.4.1 3.9.1-13.5.1 22 .1-7.9.1-2.5.1 16.9.1-16.9.1 3.7.1 4.3.1 7.4.1-14.1.1-1.2.1-.4.1-10.5.1 13.3.1 4.9.1.8.1-1.9.1-15.5.1 9.5.1-1.6.1 5.1.1-.9.1.3.1-6.5.1-7.4.1 10.3.1-1.1.1.3.1 5.2.1-.9.1-11.2.1 7.4.1-7.2.1 6.1.1-3.4.1-6.1.1 12.4.1-12.6.1 16.6.1-.3.1-80.7.1 160.2.1-31.8.1-88.6.1 55.9.1-75.4.1 72.1.1-62.3.1 69.7.1-59.7.1 71.2.1-51.5.1 34.8.1-46.9.1 45.8.1-37.4.1 43.7.1-48.8.1 34.9.1-23.8.1 27.9.1-30.9.1 17.7.1-18.5.1 18.3.1-13 .1 14 .1-12.2.1 18.2.1-18.3.1 16.6.1-14 .1 11.4.1-18.3.1 13.6.1-9.3.1 8.9.1-2.7.1-1.3.1 1.5.1.3.1 2.2.1 7.5.1-13.3.1-.5.1 13.7.1-10.2.1 5.8.1-10.3.1 20.5.1-7.5.1-9.9.1-.2.1-12.1.1-3.1.1 15.2.1-4.1.1-2.6.1 37.3.1-20.3.1-14.4.1 15 .1-22.2.1-3.6.1 15.4.1-4.4.1 18.2.1-29.9.1 9.5.1 23.2.1 2.2.1-28.3.1 35.4.1-21.3.1-15.3.1 0 .1 20.1.1-7.7.1 7.3.1 3.3.1-11.7.1 31.1.1-37 .1-2 .1 15 .1 4.4.1-17 .1-.9.1-7 .1 19.9.1.5.1-9.1.1-2.1.1-2.5.1 13 .1-14.9.1 12.8.1-12.8.1 7.1.1-6.3.1-54.3.1 160.3.1-32.6.1-106 .1 99.7.1-82 .1 60.9.1-77.4.1 89.7.1-94.6.1 66.9.1-50.4.1 62.4.1-52 .1 29.3.1-22.4.1 21.8.1-28.9.1 33.7.1-24.8.1 18.7.1-25 .1 30.2.1-22.4.1 19.7.1-21.9.1 22.7.1-18.9.1 10 .1-10 .1 10.6.1-8 .1 6.9.1 11.5.1-10.5.1-15.8.1 18.1.1 7.7.1-17.3.1.1.1 8.5.1-3.7.1-11.6.1 13.9.1-34.2.1 26.3.1 5.9.1-11.9.1 15.4.1 21.1.1-20.4.1-6.9.1-5.2.1 3.8.1 12.6.1-13.9.1 2.4.1-5.8.1 14.1.1-18 .1 25.9.1-22.1.1 14 .1 19.1.1-39.4.1 9 .1-7.8.1 9.2.1 2.2.1 4.1.1-6 .1-8.2.1 3.8.1-14.5.1 25.1.1-1.2.1 6 .1-8.4.1 2.9.1-8 .1 17.2.1-7.5.1-10 .1 2 .1-16 .1 29.2.1-4.6.1-8.1.1 10.5.1 5.4.1-30.4.1 16.8.1 19.2.1-13.1.1-5.8.1-15.2.1 34.8.1-21.8.1 8.7.1-3.3.1-16 .1 2 .1 0 .1.2.1 23.3.1-16.5.1 11.8.1 4.9.1-19.2.1-12.3.1 9.9.1-.7.1-8.4.1 19 .1-13.5.1 20.7.1-5.8.1 12.6.1-27.7.1 16.6.1-6.6.1 1.9.1-.8.1 15.2.1-24.8.1 24.9.1-4.6.1-6.9.1-10.1.1-4.6.1 6.8.1 7.8.1 3.2.1-85.7.1 188.2.1-26.6.1-132.9.1 83.7.1-88.9.1 83.7.1-78.4.1 107.3.1-94.2.1 80.5.1-61 .1 27.2.1-45.6.1 65.3.1-39.6.1 27.6.1-34 .1 35.4.1-31.1.1 32.5.1-30.3.1 21.5.1-26.2.1 37.2.1-29.8.1 15.4.1-16.9.1 18.5.1-23.9.1 21.1.1-7.3.1-14.7.1-2.5.1 31.1.1-22.6.1 23.8.1-11 .1-6.3.1-1.8.1-9.4.1 10.8.1-1.7.1-16 .1 21.7.1-8.1.1 3.5.1-8.9.1.8.1 7.9.1 12.5.1-10.9.1-12 .1 11.5.1 10.1.1 8.3.1-16.1.1 8.7.1-20.7.1 19.1.1 1 .1 5.1.1-11.6.1 15.2.1-9.5.1-8 .1 9.2.1-3.9.1 7.5.1-16.9.1 6.3.1-1.7.1-9.4.1 3.9.1-9.2.1 22.6.1.4.1-3.2.1-8.6.1-.7.1 3.3.1-2.2.1 7.1.1-18.1.1 1.3.1 14.9.1 7.4.1-6.2.1 12.7.1-7.4.1 12.2.1-3.4.1-2.1.1-1.6.1 3.8.1-21.5.1 13.6.1 17.6.1-24.4.1-16 .1 13.4.1 9.9.1-15.3.1 3.9.1-7.9.1-7.1.1 27 .1 5.1.1-15.7.1 7.1.1-1.9.1-13.3.1 5.5.1 10.1.1 15 .1-29.4.1 12.6.1-6.4.1-3.4.1 8.5.1 4.8.1-5.9.1-50.9.1 156.2.1-30.3.1-149.1.1 107.6.1-76.3.1 78.2.1-86.3.1 98.1.1-83 .1 76 .1-60.7.1 38.7.1-49.6.1 43.8.1-38.5.1 34.1.1-39.7.1 45.1.1-24.1.1 19.3.1-26.5.1 24.7.1-23.1.1 27.6.1-22.2.1 24 .1-26.1.1 19.3.1-21 .1 16.3.1-6.3.1 2.9.1 3.7.1-13.5.1 16.3.1-19.6.1 15.1.1-15.4.1 9.6.1.8.1 6.3.1 5.9.1-24.1.1 11.9.1-.6.1-9.6.1.2.1 6.4.1-2 .1-2.7.1 10.2.1-18.1.1 22.9.1-5.1.1 8.1.1-20.3.1-.2.1 4.7.1 8.6.1-8.2.1 9.6.1-4.5.1-12 .1 20.4.1-4.1.1-4.5.1.1.1 18.1.1-12.5.1 8.3.1-27.4.1 15.4.1 1 .1 1 .1 4.7.1 6 .1-9.1.1-10.6.1 16.1.1 5.1.1-4.9.1-8.2.1-2.1.1 2.6.1 5.4.1-11.5.1 9.2.1-7.3.1-3.6.1 1.1.1 2.6.1-1.8.1 13 .1-11.6.1.4.1 9.8.1 6.4.1-12.7.1 1.7.1 4.4.1-4.3.1 7 .1-7.9.1 3 .1-34 .1 33 .1 12 .1-26.3.1 31.9.1-36.8.1 22.5.1-23.2.1 33.4.1-24.7.1 16.9.1-15.3.1 18 .1-9.7.1 6.9.1-13.7.1 15 .1-12.5.1 6.4.1-5.5.1 5.4.1-3.1.1 4.7.1-3.9.1 5.1.1-4.8.1 4.5.1-6.4.1 6.9.1-6 .1 2.5.1-1.2.1-13.2.1 5.9.1-6 .1 16.6.1-16.3.1 13.4.1.4.1 2 .1-6.5.1-4.3.1 7.3.1 7.4.1 1.9.1-7.3.1-1.2.1-5.8.1 7.3.1 3.5.1-20 .1 12.2.1-12.3.1 12.8.1 12.1.1-20.7.1 22.2.1-24 .1 9.9.1 8.5.1-8.7.1-4 .1.5.1-4.9.1 15.8.1-3.2.1-11.1.1 15.7.1 4.3.1-12.9.1 1.3.1 8.7.1-9.7.1-2.3.1-5.3.1 7 .1 11.8.1-25.5.1 10.4.1.6.1 9.3.1-7.5.1 10.6.1-9.2.1-5.2.1 6.8.1-1 .1-10.2.1 11.8.1-2.7.1 6.1.1-9.6.1-1.8.1 7.4.1 11.5.1-26.3.1 17.3.1 1.5.1 8.2.1 4.8.1-24.9.1 18.6.1-7.8.1 5.2.1-8.5.1 5.4.1 3 .1-15 .1 9.3.1-7 .1 6.1.1-1.7.1 0 .1 1.7.1-.7.1-5.9.1 6.1.1-3.5.1 6.7.1-8.3.1 2.4.1 2.8.1 2 .1-8.1.1 3.3.1 3.7.1-.9.1-5.2.1 1.9.1-8.1.1 12.3.1-2.1.1-5 .1 4.9.1 6.5.1-1.7.1-3 .1-7.3.1 5.8.1 6.7.1-4.2.1.5.1-8.5.1 7.8.1-3.3.1-9.8.1 20.6.1-4.9.1 6.3.1-5.6.1-4 .1 2.7.1-4.4.1-7.3.1.9.1 3 .1 3.1.1 2 .1 4 .1-1.3.1 3.9.1-10.2.1 9.7.1-9 .1 2 .1 3.7.1-2.8.1-.3.1 1.2.1 6.1.1-.9.1-9.7.1 2.3.1-7.1.1.4.1 11.8.1 1.6.1-8.7.1-.9.1 4.8.1 5.7.1 3.6.1 1.6.1-6.5.1-5.8.1-4.1.1-3.2.1-3 .1 16.7.1-4.2.1-5.8.1 3.8.1 8 .1-14.6.1 12.1.1-1 .1-4.1.1-9.3.1 8.2.1.9.1.2.1 5.9.1-15 .1 5.5.1 2.7.1 6.3.1-5.6.1-5.8.1 11.6.1-1.6.1-6.5.1-3.3.1.7.1 8 .1.8.1-.1.1-3.7.1.2.1-3.4.1 7.6.1-9.5.1 9.1.1 1 .1-8.5.1-26.3.1 76.1.1-29 .1-50.1.1 53.8.1-38.3.1 37.8.1-35.2.1 32.4.1-33.6.1 35.6.1-28.2.1 17.5.1-17.7.1 17.7.1-20.4.1 21 .1-18.2.1 16.6.1-10.8.1 7.1.1-11.5.1 16.2.1-17 .1 14.2.1-12.6.1 13 .1-8.3.1 7 .1-8.4.1 7.1.1-7.8.1 14.2.1-9.2.1 10.3.1-11.5.1 2.4.1-.7.1 3.1.1-14.3.1 23.1.1-8.3.1 4.8.1-8.4.1-1 .1 7.3.1-7.4.1 3.5.1 5.7.1-10.6.1 6.3.1 11.1.1-15.3.1.6.1 8.8.1-8.9.1 2.3.1-1.1.1 2.6.1 2.2.1-3.2.1 14.2.1-19.3.1 16 .1-14.8.1 4.1.1-39.9.1 35.5.1 19.6.1-27.5.1 18 .1-22.6.1 24.5.1-28.1.1 33.5.1-26.2.1 16.9.1-14.7.1 17.8.1-19.5.1 19.5.1-18.9.1 13.2.1-10.6.1 17.3.1-16.3.1 11.8.1-13 .1 2.7.1-1.8.1 10.1.1-5.5.1.7.1-5.9.1 7.7.1-5.9.1 1.4.1-1.3.1-2.7.1 12 .1-4.1.1 7.1.1 0 .1-12.3.1 12.3.1-2.3.1-1.1.1-5.8.1 6.4.1.2.1-3.3.1-.3.1-.6.1-3.6.1 9.4.1-15.5.1 9.7.1 3.3.1-4.4.1-8.8.1 10.7.1-9.6.1-3.5.1 15.5.1-5.4.1-2.2.1-7.7.1 13.5.1 2.2.1-5.8.1-8.6.1 3.6.1 11.4.1-9.9.1 4.7.1 7.6.1-19.4.1 9.7.1-.6.1-5.9.1 12.3.1-2.7.1-7.7.1-6.9.1 16.8.1-19 .1 22.8.1-7 .1-6.4.1 9.7.1.4.1-11.9.1 3.2.1-.1.1-8.5.1 14.4.1-2.9.1-6.9.1 5.8.1 11.8.1-12.7.1 7.2.1.3.1-9.3.1-1.8.1 3.3.1-3.6.1 18.5.1-29 .1 16.5.1-2 .1-11.1.1 4.5.1 17.9.1 1.4.1-20.1.1 11.4.1-3.9.1 3.4.1 1.4.1-.5.1.6.1-6.3.1-10.6.1 12.2.1 15.9.1-7.9.1-6.9.1 4.5.1-19.1.1 32.3.1-26.7.1 18.5.1-17.4.1 24.5.1-16.1.1-3.9.1-.2.1-2 .1 10.9.1-25.1.1 18.7.1-22.2.1 18.8.1 12.5.1-4.1.1-11.5.1-.5.1 18.7.1-9.6.1 18.1.1-10.2.1-13.4.1-7.7.1 18.4.1-24 .1 10.1.1 17.7.1-.9.1-22.6.1 11.7.1 2.9.1-5.3.1 12.4.1-21.7.1 18 .1-70.5.1 144.2.1-53.2.1-49 .1 45.9.1-43.9.1 60.4.1-77.4.1 59.6.1-47.8.1 57.2.1-55.6.1 53.3.1-47.7.1 42.4.1-48 .1 38.7.1-38.2.1 39.8.1-35.5.1 29.8.1-17.9.1 23.4.1-24.3.1 17.2.1-17.3.1 21.5.1-18.2.1 14.5.1-24.1.1 21.2.1-8.7.1-22.7.1 19.7.1 8 .1.2.1 2.7.1 15.9.1-18.4.1 1.4.1-.9.1-2.8.1 8.6.1-21.9.1 10.1.1 5.7.1-7.4.1-3.7.1-5.4.1 10.5.1 6.7.1 2.1.1-16.3.1 8.9.1-6 .1 5.2.1-1.2.1-.3.1-1.4.1 28.2.1-19.3.1-29.3.1 33.3.1-11.3.1 12.5.1-12 .1-2.1.1 17.9.1-3.5.1-17.9.1 9.5.1-.7.1-8.6.1-7.8.1 19.6.1 9.3.1-16.5.1 8 .1 0 .1 5.2.1 10 .1-24.4.1 17.5.1-13 .1-3.4.1 23.7.1-15.4.1-6.5.1 4 .1.1.1-9.7.1 11.3.1 6.3.1.7.1 4.6.1-6.6.1 1.3.1 4.6.1-78.1.1 180.8.1-53.1.1-138.5.1 130.3.1-94.3.1 67.7.1-59.1.1 52.4.1-40 .1 57 .1-69.3.1 65.5.1-58.6.1 57.6.1-60.8.1 46.1.1-43.6.1 46.3.1-39.9.1 41.5.1-36.3.1 24.6.1-23.8.1 24.4.1-14.4.1 13.6.1-29.8.1 24.4.1-18.9.1 18.5.1-17.4.1 14.5.1-14.3.1 17.2.1 7 .1-8.5.1-16.7.1 15.6.1.8.1-4 .1-.9.1-1.1.1 6.8.1-5.6.1-11.5.1 7.9.1.8.1 18.1.1-15.2.1-4.3.1 3.5.1-14.8.1 13.2.1 7.1.1-5.3.1-14 .1 23.8.1-8.9.1-8.5.1 3 .1-2.9.1 18.9.1-10.4.1-8.6.1 11.6.1-1.2.1-21.1.1 18.7.1-5.3.1-9.3.1 5.8.1 3.2.1 1.2.1-.5.1 6.7.1-3.1.1-.2.1-7.9.1 12.5.1 11.7.1-22.8.1-4.2.1 18.9.1.2.1-8.9.1 4.5.1-4.8.1-6.2.1 1.2.1 2.8.1 9.1.1-4.7.1 2.7.1-8.4.1-4.9.1 10.9.1-8.6.1-.3.1 2.5.1 11.3.1-.3.1-4.9.1-4.4.1 7 .1.3.1-16.2.1 11.9.1-11 .1 13.4.1.5.1-5.6.1 3.2.1 10.5.1-25.9.1 15.5.1-18.5.1 28.4.1-12.5.1-1.2.1-8 .1.9.1 13.9.1 1.8.1-6.1.1-.4.1-1.7.1 21.9.1-19 .1-3.5.1 10.5.1-6.7.1 3.2.1 3.6.1-2.7.1-1.5.1-2.8.1.2.1 1.6.1-1.3.1 0 .1.8.1 2.6.1-6.1.1 13.3.1-18.7.1 7.8.1 11.9.1-9.4.1-2.7.1.3.1 1.5.1.6.1 1.5.1 3.8.1 2.9.1-14.4.1 1.8.1 4.8.1-10.2.1 13.4.1-14.3.1 13.7.1-12.7.1 3.7.1 12.7.1-9.2.1 1.2.1 6 .1-.1.1 4.8.1-11.3.1-1.6.1-.5.1 12.1.1-9.6.1-.2.1-1 .1 10.6.1-5.6.1 3.1.1 7.5.1-15.3.1 3.8.1 3.1.1-3.8.1 4 .1-6.7.1 12 .1-9.1.1 2.1.1.6.1-4.2.1-6.8.1 17.5.1-9.7.1-4.2.1 1.2.1 11.9.1-13.5.1-3.5.1 13.7.1-11.8.1 2.3.1 10.2.1-10.7.1-27.4.1 58.1.1-14.6.1-23.8.1 19.3.1-27.3.1 30.4.1-24.9.1 30.2.1-27.2.1 22.9.1-20.1.1 19.3.1-20.5.1 19.1.1-9.1.1 10.8.1-17.6.1 12.8.1-9.2.1 7.4.1-9.3.1 6.3.1-3.6.1 3.7.1-2.3.1 6 .1-8.3.1 6.2.1-6.2.1 1 .1.1.1-3.8.1 7.5.1 10.9.1-17.9.1 7.4.1-1.7.1-.9.1 12.2.1-8.5.1-4.8.1 6.1.1 8 .1-21.7.1 7.5.1 8.2.1-15.3.1 10.3.1 11.2.1-8.6.1-5.9.1 3.9.1-18 .1 21.3.1-10.8.1 8 .1 1.4.1-8.1.1 4.8.1 2.4.1-6.5.1 7 .1-9.2.1 17.2.1-11.3.1 1.9.1 2.6.1-16.1.1 7.8.1-.2.1 23.1.1-16.4.1-12.6.1 17.5.1-.8.1-9.6.1 11.1.1-11.6.1-1.8.1 7.6.1 7 .1-14.5.1-5.4.1 6 .1.7.1 11.4.1-1.4.1.1.1-5.9.1 9.8.1-19.8.1 11.5.1 10.2.1-16.5.1 12.9.1-22.1.1 12.4.1 8.8.1-17.1.1 13.3.1-1.6.1-7.9.1-3.3.1 14.5.1-7.6.1-.5.1 9.9.1-11.3.1 7.2.1 2.5.1-5.1.1 10.5.1-10.7.1-1.6.1 7.3.1-19.9.1 12 .1-8.1.1 8.2.1 4 .1 14.1.1-24.1.1 9.8.1-3.3.1 2.7.1-9.9.1 22.7.1-13.2.1-4.6.1 4.2.1-2.1.1 13.7.1-9.4.1 6.6.1-16.5.1 6.9.1-3.2.1 2.4.1 3.3.1.8.1 3.1.1-13.2.1 26.8.1-10.2.1-32.9.1 24.9.1-10.2.1 24.2.1-19.1.1 1.5.1 16.6.1-15.7.1 6 .1 10.3.1-19.7.1-68 .1 164 .1-32.8.1-108.4.1 100.8.1-76 .1 70.1.1-67.1.1 46.8.1-56.5.1 74.8.1-70.8.1 57.4.1-47.8.1 34.5.1-33.6.1 37.6.1-44.2.1 38 .1-21.3.1 24.4.1-32.1.1 26.6.1-26.6.1 23.7.1-15.5.1 13.8.1-14.6.1 12.3.1-9.2.1 18.4.1-21.1.1-1.3.1 11.2.1 6 .1-11 .1 7.8.1-18.6.1 10.6.1-11.2.1 13.5.1-7.9.1 10.9.1 3.8.1-12.7.1 13.2.1-16.2.1 13.4.1 8 .1-26.3.1 13.9.1-2.4.1 6.5.1-.1.1 11 .1-22.8.1-2 .1 4.3.1.2.1 12.6.1 9.2.1-13.6.1 16.6.1-32 .1 1.2.1 10 .1 8.2.1-15 .1 5.4.1 16.5.1-40.3.1 61.2.1-34.9.1-.2.1-5.5.1-6.3.1-3.9.1 14.1.1 21.2.1-35.2.1 19.7.1-9.8.1 8.1.1-.5.1 21.8.1-16.3.1 4.2.1-26.2.1-49.5.1 185.7.1-71.5.1-121.8.1 149.2.1-111 .1 100.6.1-99.1.1 83.8.1-96.7.1 95.4.1-72 .1 47.3.1-38 .1 32.3.1-59.2.1 60 .1-35.6.1 45.1.1-45.7.1 33.9.1-41.9.1 46 .1-34.9.1 23.3.1-20.5.1 21.9.1-29 .1 27.2.1-16 .1 11.3.1-12.6.1 13.1.1-3.5.1-8.4.1-1 .1-9.1.1-1.1.1 8.1.1 13.4.1 3.7.1 6 .1-19.9.1 6 .1 4.5.1-2.1.1-6.5.1-21 .1 12.6.1 1.5.1-4.5.1 22.7.1-15.6.1-4 .1 49.5.1-47.3.1 1.7.1 24 .1-19.8.1 13.5.1-15.4.1-1.6.1-5 .1 6.7.1 12.3.1 17.7.1-17.3.1-9.2.1-3.4.1 4.4.1-8.1.1.7.1 0 .1 19.1.1-7.4.1-2.6.1-8.5.1 19.8.1.7.1 2.2.1-41.8.1 30.8.1-3.1.1-38.1.1 37.5.1-2.1.1 0 .1 4.1.1 1.8.1-7.9.1 16.7.1-3.5.1-24.5.1 37.9.1-18.5.1-5 .1-12.8.1 6.9.1-9.6.1 24.7.1-3.1.1-26.8.1 22.5.1-4.3.1 8.1.1.3.1-8.2.1-.9.1 3.8.1-2.6.1 0 .1-4.9.1 4.5.1-11.7.1 13.6.1-12.1.1 22.8.1-4.7.1-25.3.1 25.1.1-12.8.1-5.2.1 31.4.1-5.1.1-9.9.1-12 .1 7.8.1.1.1-5.9.1-15.7.1-2.7.1 10 .1 6.9.1 4.4.1-87.1.1 204.2.1-74.1.1-114.2.1 118.6.1-89.3.1 78.3.1-59.2.1 83.2.1-77 .1 66.6.1-87.3.1 68.7.1-50.6.1 37 .1-30.5.1 49.5.1-60.1.1 48.8.1-38.3.1 33.7.1-21.3.1 18.4.1-23.4.1 18.8.1-23 .1 17.2.1-11.1.1 19.1.1-23 .1 15 .1-15.2.1 14.4.1-12.4.1-2.5.1 11.6.1-6.5.1-1.8.1-.6.1 16.2.1-1.8.1 7.3.1-9.6.1 3.8.1-6.8.1 5.3.1-3.8.1 5.8.1-5.1.1-11.1.1 5.6.1-3.2.1 6.6.1-1.8.1 8.4.1-.6.1-20.6.1 7.8.1-7.4.1 15.2.1-3.6.1 9.3.1-8.4.1 8.3.1-4.1.1 3 .1 12.2.1-1.5.1-17.8.1 2.6.1 4.3.1-15 .1 24.5.1-23.6.1-12.2.1 19.5.1 4.9.1-5.6.1-7.3.1 19.1.1-7 .1 3.5.1-22.3.1 19.1.1-9.4.1 10.2.1-19.5.1 16 .1 5.7.1-18.3.1-1.3.1 13.1.1-.7.1 13.6.1-5.8.1 12.1.1-24.2.1 16.6.1-7.2.1-4.3.1 5.6.1-10.6.1.4.1 10.4.1-20 .1 18.6.1-10.9.1-9.6.1 15.5.1 11.8.1-8.1.1.1.1 6.2.1 5.3.1-23.9.1 1.2.1 7 .1 17.4.1-14.2.1 8.9.1-3.6.1-2.2.1-4.3.1-16.7.1 23.5.1-.6.1 8.5.1-20.5.1-55.2.1 138.7.1-54 .1-70.5.1 73.4.1-52.1.1 59.5.1-76.1.1 68.1.1-55.3.1 67.6.1-57.8.1 31.4.1-37.7.1 37.9.1-27.6.1 34.5.1-30.7.1 30.1.1-28.8.1 24.8.1-31.5.1 21.9.1-16.4.1 19.9.1-10.6.1 14.9.1-20.6.1 20.1.1-15.7.1 11.6.1-9.9.1.9.1-4.3.1 8 .1 2.9.1-7.9.1 7.2.1 7.1.1-8 .1-11.9.1 14.9.1 1.5.1-1.5.1 3.6.1-3.4.1-.3.1-5.4.1-2.5.1-3.3.1 6 .1 7.7.1-1.5.1-12.2.1 13.1.1-3.7.1-5.2.1-10.1.1 22.8.1-3.9.1-4 .1 7.5.1-9.2.1 0 .1-1.8.1 10.3.1-5.7.1-3.8.1-1.6.1 10.1.1-.1.1-15.2.1 4.1.1 2 .1-.3.1-.2.1 3.9.1-4.5.1-2.4.1-2.5.1 13.9.1-4.3.1-4 .1 4 .1 0 .1-14 .1 2.9.1 5.5.1-5.2.1 7 .1 1.3.1-3.2.1 1 .1 4.3.1-9.3.1.6.1-.2.1-1.5.1-3.6.1 13.5.1 3 .1-3 .1 4.5.1-7.4.1-8.3.1-3.5.1 14.6.1-13 .1 5 .1 6.4.1-6.5.1 10.3.1-9 .1 2.2.1 0 .1.9.1.7.1-1.6.1-9.3.1 5 .1-2.4.1 9.6.1 5.9.1-12.6.1 5 .1-7.9.1-1.5.1-1.3.1 7.7.1 2.1.1-5.2.1-1.9.1 4.4.1 3.1.1.2.1 2.4.1-.3.1-2.5.1-9.2.1.7.1-2.8.1 9 .1-1.4.1 1.8.1 8.4.1-6.6.1-10.5.1 11.4.1 6.9.1-12.7.1 6.4.1-6.7.1 8.3.1-9 .1-.7.1 14.1.1-11.5.1 6.8.1.1.1-6.8.1 9 .1-13.9.1 17.3.1-1.1.1-2.4.1-13.1.1 11.9.1 2.7.1-1.7.1 4 .1-1.1.1-4.3.1-7.7.1 13 .1-7.2.1-8.4.1-1.7.1 12.8.1-4.1.1 1.2.1-2.6.1 3.7.1-2.6.1 8.8.1-17.5.1 2.4.1-4.6.1 10.5.1-2.3.1 3.3.1 5.1.1 9.2.1-14.6.1 3.3.1-.4.1-12.1.1 16.5.1-2.8.1-3.4.1-3.1.1 6.3.1-4.7.1-16 .1 11.9.1-4.5.1 9.9.1.4.1 4.5.1-5.3.1-2.6.1 6.4.1-6 .1 14 .1-2.2.1-4.5.1-10.2.1 7.1.1-4.5.1 8.7.1-6.8.1-3.1.1-9 .1 4.9.1 8.3.1 2.3.1.4.1-.1.1-5.7.1 4.5.1-5.5.1 7.6.1-8.3.1 1.9.1 9 .1-4.5.1.5.1-11.3.1 15.7.1-9 .1-3.2.1 5.9.1 5.3.1-12 .1-6.4.1 7.6.1 12 .1-3.5.1 8.5.1-10.2.1-.4.1-8.3.1 11.2.1-10.3.1 11.3.1-3 .1-4.9.1 1.4.1 8.5.1-3.2.1-3.3.1.1.1 5.6.1-1.2.1-8.8.1-.8.1 7 .1-5 .1 3.8.1-7.6.1 9.2.1-6.8.1-7.6.1-.3.1 24.3.1-15.2.1 7.3.1-5.9.1-5.3.1 3.2.1-3.2.1 8.4.1 5.5.1-10.5.1-4.7.1 8.9.1-7.6.1-1 .1 7.9.1-2.3.1-2.8.1 1.6.1-1 .1 3.6.1-1.6.1 1.7.1-3.1.1 9.6.1 2.4.1-11.1.1 6.4.1-8.9.1 11.1.1-9.9.1-5.1.1 3.1.1 2.9.1-.2.1 10.1.1-8.6.1-6.3.1 7.9.1 1.1.1 7.3.1-10.1.1 3 .1-1.5.1-3 .1 2.9.1 3.4.1 5.5.1 3.4.1-14.9.1-2.5.1-9.6.1 14.5.1 10.5.1-48.9.1 81.7.1-17.4.1-41.7.1 33.3.1-34.8.1 33 .1-38.6.1 34.9.1-28.8.1 27.9.1-20.8.1 25 .1-21 .1 16.5.1-19.4.1 23.6.1-19.4.1 14.9.1-18.9.1 17.3.1-12.6.1 8.5.1-7.4.1 1.9.1-5.5.1 13.5.1-14.9.1 11 .1-10.5.1 14 .1-8.2.1 4.9.1 2.8.1-2.5.1-3.1.1 8.2.1-9.1.1-3.2.1-1.5.1 4.3.1 0 .1-3.5.1.9.1 6.8.1 6.1.1-19 .1 21.9.1-9.5.1-10.9.1 15.9.1-12.5.1-5.6.1 11.4.1-10.6.1 11.6.1-2.1.1-17.8.1 4.1.1 15.8.1-4.4.1 2.7.1 10.8.1-13.3.1 2.9.1-7.7.1 4.1.1-1.2.1 15.8.1-16.5.1-4.8.1 7.2.1 4.1.1-7.3.1-5.9.1 1.9.1 10.3.1-10.3.1 9.5.1-19.3.1 16.3.1 7.4.1-4.7.1-2.3.1-2.4.1 12.5.1-11.5.1 8.7.1-3.9.1-7.7.1.2.1 18.4.1.6.1-11.2.1 3.4.1-2.7.1-3.3.1-6.2.1 5 .1-24.4.1 42.2.1-18.3.1-4.8.1 1 .1 10.6.1.2.1 8.3.1-21.7.1-.5.1 9.3.1-6.5.1 9.3.1-11.8.1 9.5.1.4.1-.8.1-8.5.1 17.7.1-29.8.1 12.7.1 5.2.1-3.7.1-13.7.1 9.9.1 9.7.1-16 .1 18.9.1-3.8.1 3.4.1-6.3.1 22.1.1-23 .1 6.8.1-6.9.1 16.3.1-11.9.1-9.8.1 14.4.1 9.1.1-9.7.1-7.7.1-4.4.1 15.7.1-16.5.1 19.5.1-18.4.1.5.1 4.6.1-14.6.1 9.1.1 9.8.1-2.2.1-14.1.1 33.1.1-25.3.1 13 .1-5.9.1-.4.1 4.1.1-20.6.1 16.8.1-1.2.1 4.8.1-8.1.1 5.2.1-.8.1 2.8.1-9.6.1.2.1 20.2.1-4.4.1-16.1.1 6.9.1-2 .1 6.8.1-8.6.1 7 .1 1 .1 18.5.1-.7.1-19 .1-21.9.1 14.8.1 4.3.1-5.4.1-4.9.1 9.7.1 5.2.1 1.5.1-5.3.1 4.1.1 2.5.1-13 .1 23 .1-3 .1-19.4.1 3.8.1-.2.1-3.2.1-.1.1-8.1.1 26 .1-14.3.1 17.6.1-27.9.1 2.5.1 1.3.1 19.2.1-21.1.1 38.3.1-34.5.1 8.9.1 11.1.1-2.6.1-26.1.1 23.8.1-7.8.1 1.8.1-55 .1 125.9.1-35.4.1-86.4.1 72.9.1-70.5.1 83.2.1-70 .1 64.2.1-64.6.1 53 .1-92.9.1 172.4.1-46 .1-81.1.1 86.6.1-105.3.1 89.2.1-70.3.1 72.1.1-59.7.1 32.3.1-36.2.1 46.5.1-51.5.1 41.3.1-47.3.1 48 .1-32.9.1 34.8.1-38.3.1 26.1.1-24.5.1 34.3.1-26.1.1 23.3.1-24 .1 22.1.1-24.3.1 18 .1-10.3.1 11.2.1-10.3.1 24.3.1-35.1.1 4.3.1-.8.1-.3.1 22.7.1-26.7.1 22.9.1-7.4.1 7.5.1-11.5.1 6.1.1-21.5.1 21.2.1-3 .1-14.8.1 28.7.1-14.8.1 25.9.1-25.7.1-1.1.1-2 .1 18.7.1-18.9.1-1.2.1 18.3.1-11.1.1-9.1.1-.5.1 3.3.1-15.7.1 18.4.1.2.1-2.3.1 19 .1-4.2.1 2.6.1-1.4.1-19.2.1 4.3.1-2.2.1-15 .1 17 .1 23.9.1-13.5.1-4.7.1 10.7.1-21.1.1 17.6.1-18.2.1 1.7.1 21 .1-15.2.1 4.5.1-19.7.1 23 .1 2.1.1-63.7.1 127 .1-52.5.1-45.9.1 53.6.1-49.6.1 62.4.1-61.7.1 56.2.1-60.7.1 51.8.1-37 .1 39.4.1-42 .1 39.1.1-48.2.1 39.2.1-33.2.1 28 .1-17.4.1 16.4.1-24 .1 21.3.1-16 .1 22 .1-21.7.1 15.7.1-7.4.1 5.9.1-11.7.1 8.3.1-4.9.1-13.1.1 12.6.1 2.8.1 1.3.1-9.3.1 4.2.1 15.7.1 13.5.1 4.2.1-29.6.1-3.6.1-7.6.1-2.6.1 4.9.1 4.7.1 1.2.1 1.1.1-7 .1 12.2.1-14.6.1-5 .1 23.7.1-15.6.1 10.8.1-12.7.1 22.7.1-22.1.1 12.1.1 0 .1 4.8.1.5.1-32.2.1 27.8.1-16 .1 31.9.1-20.2.1 2.8.1-9.6.1 19.9.1-24.8.1 28.6.1-22.9.1 2.9.1 12.8.1-5.3.1-36.8.1 49.5.1-22 .1 26.3.1-26.4.1 8.1.1-2.7.1-.9.1-11.7.1 18.5.1-16.4.1 9.9.1-8.4.1-3.7.1.3.1 4.1.1 38.2.1-47.5.1 19.8.1-7.5.1-3.6.1 12.2.1-3.5.1 16 .1-8.3.1-3.9.1-4.8.1 13.7.1-22.3.1 1.8.1 22.5.1-2.7.1-27.4.1 12.8.1-1.8.1-1.4.1 3.3.1 20.3.1-22.4.1 6.5.1-4.8.1-10.7.1 19 .1 4 .1-28.2.1 29.5.1 16.2.1-26.1.1-5.5.1 1.2.1-3 .1-5.2.1-6.9.1 9.2.1 2.3.1 14 .1-.2.1 6.2.1-4.1.1-3.7" stroke="#0000ff" stroke-width="0.8" fill="none" stroke-linejoin="bevel"/>
<rect x="94.6" y="1038.1" width="680.9" height="313.3000000000002" fill="none" stroke="#888888" stroke-width="1"/>
<path d="M94.6 1351.4v-7M94.6 1038.1v7M230.8 1351.4v-7M230.8 1038.1v7M367 1351.4v-7M367 1038.1v7M503.1 1351.4v-7M503.1 1038.1v7M639.3 1351.4v-7M639.3 1038.1v7M775.5 1351.4v-7M775.5 1038.1v7M94.6 1351.4h7M775.5 1351.4h-7M94.6 1273.1h7M775.5 1273.1h-7M94.6 1194.8h7M775.5 1194.8h-7M94.6 1116.4h7M775.5 1116.4h-7M94.6 1038.1h7M775.5 1038.1h-7" stroke="#888888" stroke-width="1" fill="none"/>
<text x="94.6" y="1379.3" font-size="24" text-anchor="middle">0</text>
<text x="230.8" y="1379.3" font-size="24" text-anchor="middle">0.2</text>
<text x="367" y="1379.3" font-size="24" text-anchor="middle">0.4</text>
<text x="503.1" y="1379.3" font-size="24" text-anchor="middle">0.6</text>
<text x="639.3" y="1379.3" font-size="24" text-anchor="middle">0.8</text>
<text x="775.5" y="1379.3" font-size="24" text-anchor="middle">1</text>
<text x="85" y="1359.8" font-size="24" text-anchor="end">-0.1</text>
<text x="85" y="1281.5" font-size="24" text-anchor="end">-0.05</text>
<text x="85" y="1203.2" font-size="24" text-anchor="end">0</text>
<text x="85" y="1124.8" font-size="24" text-anchor="end">0.05</text>
<text x="85" y="1046.5" font-size="24" text-anchor="end">0.1</text>
<text x="435.1" y="1410.2" font-size="27.3" text-anchor="middle">Time(s)</text>
<text transform="translate(28.3 1194) rotate(-90)" font-size="27.3" text-anchor="middle">Amplitude(m/s<tspan font-size="20.7" dy="-13.1">2</tspan><tspan dy="13.1">)</tspan></text>
<svg x="900.9" y="1042.7" width="675.6" height="309.5" viewBox="900.9 1042.7 675.6 309.5" overflow="hidden"><polyline points="900.9,1332.6 901.6,1345.3 902.3,1277.0 902.9,1317.8 903.6,1337.3 904.3,1241.8 905.0,1326.5 905.6,1335.3 906.3,1327.4 907.0,1313.6 907.7,1074.0 908.3,1321.5 909.0,1324.7 909.7,1312.2 910.4,1336.0 911.0,1204.2 911.7,1299.7 912.4,1313.0 913.1,1321.5 913.7,1326.3 914.4,1219.0 915.1,1291.7 915.8,1335.1 916.4,1348.8 917.1,1315.7 917.8,1193.1 918.5,1310.1 919.1,1324.3 919.8,1349.0 920.5,1277.7 921.2,1289.6 921.8,1305.4 922.5,1340.2 923.2,1293.7 923.9,1285.3 924.5,1273.6 925.2,1334.7 925.9,1345.3 926.6,1335.1 927.2,1266.6 927.9,1324.7 928.6,1321.8 929.3,1304.6 930.0,1318.5 930.6,1306.1 931.3,1251.0 932.0,1319.8 932.7,1323.9 933.3,1306.2 934.0,1317.4 934.7,1168.2 935.4,1327.2 936.0,1310.1 936.7,1319.8 937.4,1307.9 938.1,1311.0 938.7,1236.0 939.4,1327.7 940.1,1335.7 940.8,1332.6 941.4,1054.2 942.1,1278.8 942.8,1343.6 943.5,1325.8 944.1,1305.7 944.8,1250.0 945.5,1305.7 946.2,1347.5 946.8,1329.7 947.5,1311.0 948.2,1254.4 948.9,1291.6 949.5,1339.0 950.2,1304.1 950.9,1290.9 951.6,1217.1 952.2,1328.4 952.9,1311.4 953.6,1314.2 954.3,1338.9 954.9,1245.0 955.6,1308.0 956.3,1344.2 957.0,1320.6 957.7,1318.2 958.3,1325.5 959.0,1288.4 959.7,1324.1 960.4,1290.2 961.0,1333.7 961.7,1135.9 962.4,1338.6 963.1,1313.8 963.7,1325.4 964.4,1338.0 965.1,1240.0 965.8,1329.6 966.4,1295.4 967.1,1320.3 967.8,1339.6 968.5,1331.0 969.1,1308.0 969.8,1255.0 970.5,1321.1 971.2,1320.2 971.8,1339.4 972.5,1317.1 973.2,1330.0 973.9,1322.6 974.5,1333.8 975.2,1234.8 975.9,1309.6 976.6,1321.1 977.2,1304.1 977.9,1309.6 978.6,1291.7 979.3,1311.8 979.9,1340.1 980.6,1335.0 981.3,1328.6 982.0,1231.7 982.6,1322.2 983.3,1329.8 984.0,1339.0 984.7,1318.5 985.4,1338.5 986.0,1328.6 986.7,1250.0 987.4,1332.9 988.1,1312.5 988.7,1330.2 989.4,1342.4 990.1,1321.4 990.8,1324.7 991.4,1311.1 992.1,1318.0 992.8,1140.2 993.5,1341.2 994.1,1312.1 994.8,1320.9 995.5,1336.5 996.2,1347.6 996.8,1260.0 997.5,1310.2 998.2,1288.4 998.9,1321.6 999.5,1341.8 1000.2,1311.7 1000.9,1306.6 1001.6,1340.8 1002.2,1321.9 1002.9,1267.7 1003.6,1335.8 1004.3,1321.5 1004.9,1312.0 1005.6,1264.2 1006.3,1342.4 1007.0,1342.6 1007.6,1334.3 1008.3,1349.1 1009.0,1316.9 1009.7,1275.0 1010.3,1342.7 1011.0,1295.1 1011.7,1306.2 1012.4,1345.4 1013.0,1304.5 1013.7,1328.8 1014.4,1307.7 1015.1,1334.7 1015.8,1306.7 1016.4,1252.4 1017.1,1306.7 1017.8,1293.3 1018.5,1331.1 1019.1,1317.3 1019.8,1317.1 1020.5,1318.1 1021.2,1331.7 1021.8,1303.9 1022.5,1190.8 1023.2,1333.1 1023.9,1310.5 1024.5,1341.5 1025.2,1301.4 1025.9,1335.5 1026.6,1314.7 1027.2,1270.0 1027.9,1314.7 1028.6,1260.1 1029.3,1326.3 1029.9,1311.7 1030.6,1330.5 1031.3,1316.1 1032.0,1333.5 1032.6,1324.2 1033.3,1244.2 1034.0,1317.0 1034.7,1296.0 1035.3,1327.7 1036.0,1312.2 1036.7,1322.5 1037.4,1338.9 1038.0,1333.2 1038.7,1296.8 1039.4,1311.9 1040.1,1334.1 1040.7,1335.3 1041.4,1329.3 1042.1,1317.7 1042.8,1343.3 1043.5,1229.4 1044.1,1346.9 1044.8,1323.1 1045.5,1324.5 1046.2,1339.9 1046.8,1315.3 1047.5,1319.2 1048.2,1280.0 1048.9,1319.2 1049.5,1320.7 1050.2,1329.2 1050.9,1346.4 1051.6,1339.9 1052.2,1317.8 1052.9,1335.2 1053.6,1340.1 1054.3,1336.7 1054.9,1270.0 1055.6,1325.5 1056.3,1320.9 1057.0,1332.6 1057.6,1326.8 1058.3,1318.1 1059.0,1338.7 1059.7,1325.4 1060.3,1342.4 1061.0,1331.0 1061.7,1319.6 1062.4,1341.1 1063.0,1267.7 1063.7,1313.6 1064.4,1333.5 1065.1,1335.3 1065.7,1313.2 1066.4,1318.4 1067.1,1313.0 1067.8,1347.2 1068.4,1317.6 1069.1,1337.2 1069.8,1295.1 1070.5,1316.0 1071.2,1313.0 1071.8,1347.7 1072.5,1344.3 1073.2,1327.8 1073.9,1349.9 1074.5,1335.2 1075.2,1319.3 1075.9,1326.1 1076.6,1288.7 1077.2,1320.8 1077.9,1323.9 1078.6,1347.6 1079.3,1333.8 1079.9,1345.0 1080.6,1301.8 1081.3,1320.2 1082.0,1339.0 1082.6,1331.3 1083.3,1329.2 1084.0,1191.9 1084.7,1326.2 1085.3,1346.1 1086.0,1318.8 1086.7,1333.3 1087.4,1310.9 1088.0,1322.8 1088.7,1339.3 1089.4,1327.6 1090.1,1320.2 1090.7,1321.4 1091.4,1319.1 1092.1,1331.0 1092.8,1340.9 1093.4,1336.1 1094.1,1323.0 1094.8,1285.0 1095.5,1322.7 1096.1,1334.2 1096.8,1325.8 1097.5,1327.1 1098.2,1335.1 1098.9,1341.0 1099.5,1326.2 1100.2,1326.4 1100.9,1324.5 1101.6,1335.3 1102.2,1338.4 1102.9,1325.1 1103.6,1331.9 1104.3,1340.0 1104.9,1325.2 1105.6,1314.2 1106.3,1308.0 1107.0,1305.6 1107.6,1308.8 1108.3,1326.9 1109.0,1321.9 1109.7,1327.9 1110.3,1322.2 1111.0,1339.5 1111.7,1290.0 1112.4,1332.4 1113.0,1299.7 1113.7,1326.2 1114.4,1332.5 1115.1,1347.3 1115.7,1347.5 1116.4,1328.6 1117.1,1337.1 1117.8,1337.2 1118.4,1336.2 1119.1,1332.2 1119.8,1333.9 1120.5,1337.5 1121.1,1324.6 1121.8,1340.3 1122.5,1319.0 1123.2,1336.8 1123.8,1342.3 1124.5,1301.2 1125.2,1338.5 1125.9,1325.7 1126.6,1320.2 1127.2,1280.0 1127.9,1331.6 1128.6,1341.6 1129.3,1306.7 1129.9,1322.4 1130.6,1333.3 1131.3,1300.6 1132.0,1325.5 1132.6,1325.9 1133.3,1337.8 1134.0,1336.4 1134.7,1343.7 1135.3,1330.4 1136.0,1339.3 1136.7,1314.3 1137.4,1331.5 1138.0,1334.9 1138.7,1344.5 1139.4,1315.4 1140.1,1303.4 1140.7,1333.4 1141.4,1336.3 1142.1,1338.6 1142.8,1325.3 1143.4,1324.3 1144.1,1267.7 1144.8,1313.6 1145.5,1324.1 1146.1,1328.1 1146.8,1317.1 1147.5,1306.4 1148.2,1333.3 1148.8,1337.1 1149.5,1335.0 1150.2,1328.9 1150.9,1333.8 1151.5,1334.7 1152.2,1312.3 1152.9,1342.4 1153.6,1328.0 1154.2,1334.1 1154.9,1337.1 1155.6,1296.7 1156.3,1327.5 1157.0,1322.6 1157.6,1344.9 1158.3,1315.9 1159.0,1310.6 1159.7,1330.2 1160.3,1285.0 1161.0,1337.3 1161.7,1333.4 1162.4,1349.6 1163.0,1332.2 1163.7,1324.2 1164.4,1342.7 1165.1,1310.4 1165.7,1323.5 1166.4,1327.2 1167.1,1339.1 1167.8,1324.8 1168.4,1344.7 1169.1,1319.1 1169.8,1331.0 1170.5,1319.0 1171.1,1334.0 1171.8,1324.7 1172.5,1328.9 1173.2,1326.0 1173.8,1348.6 1174.5,1347.6 1175.2,1305.0 1175.9,1240.7 1176.5,1315.0 1177.2,1321.6 1177.9,1317.3 1178.6,1323.6 1179.2,1321.5 1179.9,1326.7 1180.6,1339.9 1181.3,1345.5 1181.9,1335.4 1182.6,1273.0 1183.3,1316.0 1184.0,1340.7 1184.7,1325.2 1185.3,1337.2 1186.0,1329.1 1186.7,1334.6 1187.4,1335.7 1188.0,1325.1 1188.7,1345.2 1189.4,1325.4 1190.1,1327.3 1190.7,1339.4 1191.4,1328.7 1192.1,1339.8 1192.8,1322.9 1193.4,1334.0 1194.1,1338.7 1194.8,1280.0 1195.5,1319.2 1196.1,1339.7 1196.8,1320.7 1197.5,1326.3 1198.2,1318.2 1198.8,1325.9 1199.5,1343.2 1200.2,1312.2 1200.9,1313.3 1201.5,1332.5 1202.2,1342.1 1202.9,1338.5 1203.6,1342.3 1204.2,1334.6 1204.9,1345.3 1205.6,1273.1 1206.3,1328.1 1206.9,1326.6 1207.6,1342.2 1208.3,1330.7 1209.0,1335.8 1209.6,1326.3 1210.3,1347.9 1211.0,1335.1 1211.7,1341.0 1212.4,1326.9 1213.0,1336.3 1213.7,1327.1 1214.4,1323.7 1215.1,1290.0 1215.7,1342.4 1216.4,1340.3 1217.1,1337.0 1217.8,1317.2 1218.4,1348.4 1219.1,1332.7 1219.8,1321.3 1220.5,1322.0 1221.1,1324.0 1221.8,1328.7 1222.5,1339.8 1223.2,1337.2 1223.8,1346.8 1224.5,1327.6 1225.2,1338.8 1225.9,1339.3 1226.5,1336.0 1227.2,1340.3 1227.9,1340.8 1228.6,1320.6 1229.2,1340.0 1229.9,1322.0 1230.6,1330.3 1231.3,1347.3 1231.9,1339.0 1232.6,1345.8 1233.3,1333.1 1234.0,1317.4 1234.6,1342.9 1235.3,1337.6 1236.0,1325.6 1236.7,1324.7 1237.3,1328.0 1238.0,1345.3 1238.7,1344.1 1239.4,1336.2 1240.1,1332.8 1240.7,1337.4 1241.4,1335.3 1242.1,1324.4 1242.8,1304.8 1243.4,1320.5 1244.1,1329.6 1244.8,1338.5 1245.5,1328.6 1246.1,1334.6 1246.8,1341.1 1247.5,1342.4 1248.2,1332.1 1248.8,1324.3 1249.5,1315.5 1250.2,1344.8 1250.9,1338.6 1251.5,1343.2 1252.2,1332.8 1252.9,1350.6 1253.6,1330.2 1254.2,1329.8 1254.9,1329.6 1255.6,1339.9 1256.3,1332.0 1256.9,1341.7 1257.6,1336.9 1258.3,1343.0 1259.0,1340.0 1259.6,1326.4 1260.3,1335.8 1261.0,1342.4 1261.7,1305.8 1262.3,1335.3 1263.0,1326.4 1263.7,1330.3 1264.4,1322.2 1265.0,1342.4 1265.7,1332.4 1266.4,1342.4 1267.1,1332.6 1267.8,1275.3 1268.4,1322.8 1269.1,1324.2 1269.8,1340.0 1270.5,1338.1 1271.1,1337.3 1271.8,1327.4 1272.5,1335.0 1273.2,1343.3 1273.8,1339.8 1274.5,1336.4 1275.2,1328.1 1275.9,1328.9 1276.5,1337.9 1277.2,1335.0 1277.9,1340.1 1278.6,1340.6 1279.2,1333.7 1279.9,1331.0 1280.6,1338.8 1281.3,1331.2 1281.9,1341.7 1282.6,1338.1 1283.3,1344.3 1284.0,1338.0 1284.6,1335.5 1285.3,1329.8 1286.0,1345.8 1286.7,1323.3 1287.3,1338.1 1288.0,1341.9 1288.7,1334.0 1289.4,1347.1 1290.0,1333.6 1290.7,1333.0 1291.4,1329.6 1292.1,1344.4 1292.7,1337.9 1293.4,1341.4 1294.1,1330.3 1294.8,1332.4 1295.5,1334.7 1296.1,1333.3 1296.8,1348.3 1297.5,1350.4 1298.2,1320.6 1298.8,1339.0 1299.5,1341.3 1300.2,1328.7 1300.9,1342.4 1301.5,1340.9 1302.2,1340.0 1302.9,1343.3 1303.6,1340.7 1304.2,1342.4 1304.9,1334.4 1305.6,1339.8 1306.3,1335.1 1306.9,1333.2 1307.6,1349.6 1308.3,1337.3 1309.0,1333.6 1309.6,1346.6 1310.3,1345.6 1311.0,1349.0 1311.7,1337.0 1312.3,1338.9 1313.0,1345.5 1313.7,1346.0 1314.4,1339.4 1315.0,1343.3 1315.7,1341.6 1316.4,1338.3 1317.1,1332.6 1317.7,1345.8 1318.4,1347.0 1319.1,1346.9 1319.8,1339.5 1320.4,1337.8 1321.1,1349.7 1321.8,1328.2 1322.5,1342.9 1323.2,1337.4 1323.8,1341.3 1324.5,1343.2 1325.2,1333.5 1325.9,1329.4 1326.5,1342.2 1327.2,1338.4 1327.9,1333.1 1328.6,1346.3 1329.2,1330.5 1329.9,1343.9 1330.6,1343.3 1331.3,1344.9 1331.9,1343.1 1332.6,1332.3 1333.3,1323.7 1334.0,1341.8 1334.6,1329.7 1335.3,1338.0 1336.0,1342.4 1336.7,1338.4 1337.3,1341.1 1338.0,1332.4 1338.7,1342.7 1339.4,1335.1 1340.0,1340.5 1340.7,1338.5 1341.4,1341.2 1342.1,1337.2 1342.7,1309.0 1343.4,1334.8 1344.1,1339.6 1344.8,1340.5 1345.4,1348.3 1346.1,1334.9 1346.8,1331.8 1347.5,1340.7 1348.1,1345.2 1348.8,1334.1 1349.5,1336.4 1350.2,1346.0 1350.8,1330.5 1351.5,1340.3 1352.2,1337.8 1352.9,1336.6 1353.6,1343.5 1354.2,1335.4 1354.9,1341.8 1355.6,1341.0 1356.3,1333.2 1356.9,1332.2 1357.6,1331.5 1358.3,1326.5 1359.0,1343.8 1359.6,1341.6 1360.3,1337.3 1361.0,1335.6 1361.7,1345.5 1362.3,1319.9 1363.0,1331.8 1363.7,1340.5 1364.4,1333.7 1365.0,1347.0 1365.7,1335.7 1366.4,1336.1 1367.1,1346.6 1367.7,1341.5 1368.4,1346.4 1369.1,1340.9 1369.8,1336.0 1370.4,1342.0 1371.1,1338.4 1371.8,1341.5 1372.5,1335.4 1373.1,1331.9 1373.8,1335.8 1374.5,1338.2 1375.2,1331.1 1375.8,1329.2 1376.5,1334.5 1377.2,1341.2 1377.9,1338.3 1378.5,1335.5 1379.2,1334.5 1379.9,1336.9 1380.6,1350.2 1381.3,1327.1 1381.9,1342.1 1382.6,1341.6 1383.3,1345.0 1384.0,1343.1 1384.6,1343.3 1385.3,1338.8 1386.0,1336.1 1386.7,1330.8 1387.3,1347.3 1388.0,1332.7 1388.7,1347.4 1389.4,1338.9 1390.0,1340.3 1390.7,1337.1 1391.4,1345.3 1392.1,1344.7 1392.7,1337.6 1393.4,1341.1 1394.1,1337.1 1394.8,1346.2 1395.4,1347.4 1396.1,1333.1 1396.8,1342.0 1397.5,1338.3 1398.1,1335.3 1398.8,1339.8 1399.5,1339.3 1400.2,1341.5 1400.8,1342.8 1401.5,1342.5 1402.2,1339.3 1402.9,1344.4 1403.5,1314.0 1404.2,1343.3 1404.9,1342.4 1405.6,1341.2 1406.2,1347.5 1406.9,1341.5 1407.6,1333.6 1408.3,1334.2 1409.0,1344.1 1409.6,1333.3 1410.3,1342.5 1411.0,1327.4 1411.7,1337.8 1412.3,1346.3 1413.0,1332.6 1413.7,1347.5 1414.4,1347.5 1415.0,1336.4 1415.7,1340.2 1416.4,1329.0 1417.1,1329.2 1417.7,1340.6 1418.4,1344.7 1419.1,1344.1 1419.8,1342.5 1420.4,1343.9 1421.1,1326.2 1421.8,1335.7 1422.5,1331.1 1423.1,1346.7 1423.8,1347.5 1424.5,1347.5 1425.2,1334.5 1425.8,1349.0 1426.5,1342.0 1427.2,1331.1 1427.9,1343.7 1428.5,1338.8 1429.2,1336.2 1429.9,1327.3 1430.6,1339.5 1431.2,1326.8 1431.9,1335.2 1432.6,1336.9 1433.3,1332.4 1433.9,1342.4 1434.6,1337.0 1435.3,1329.7 1436.0,1347.5 1436.7,1344.9 1437.3,1331.5 1438.0,1343.2 1438.7,1346.2 1439.4,1345.7 1440.0,1339.9 1440.7,1343.1 1441.4,1337.5 1442.1,1346.7 1442.7,1336.5 1443.4,1334.9 1444.1,1334.2 1444.8,1349.3 1445.4,1342.4 1446.1,1325.3 1446.8,1342.3 1447.5,1336.4 1448.1,1333.6 1448.8,1343.4 1449.5,1349.3 1450.2,1348.5 1450.8,1347.6 1451.5,1347.1 1452.2,1345.3 1452.9,1349.2 1453.5,1337.4 1454.2,1329.5 1454.9,1346.1 1455.6,1343.4 1456.2,1346.7 1456.9,1336.6 1457.6,1340.9 1458.3,1341.4 1458.9,1339.6 1459.6,1343.0 1460.3,1333.9 1461.0,1306.3 1461.6,1346.9 1462.3,1330.0 1463.0,1341.5 1463.7,1338.7 1464.4,1338.4 1465.0,1344.9 1465.7,1342.8 1466.4,1343.4 1467.1,1344.1 1467.7,1333.2 1468.4,1341.6 1469.1,1332.7 1469.8,1346.9 1470.4,1350.8 1471.1,1338.7 1471.8,1333.1 1472.5,1341.5 1473.1,1329.6 1473.8,1338.0 1474.5,1344.8 1475.2,1334.2 1475.8,1329.3 1476.5,1343.4 1477.2,1337.5 1477.9,1307.2 1478.5,1346.5 1479.2,1344.2 1479.9,1339.2 1480.6,1338.4 1481.2,1335.8 1481.9,1343.4 1482.6,1324.9 1483.3,1343.6 1483.9,1338.0 1484.6,1344.4 1485.3,1346.4 1486.0,1342.5 1486.6,1332.3 1487.3,1325.2 1488.0,1342.8 1488.7,1330.5 1489.3,1344.9 1490.0,1343.8 1490.7,1343.5 1491.4,1348.5 1492.0,1349.2 1492.7,1320.9 1493.4,1334.5 1494.1,1327.2 1494.8,1335.2 1495.4,1337.0 1496.1,1344.9 1496.8,1337.6 1497.5,1343.3 1498.1,1338.9 1498.8,1335.6 1499.5,1339.0 1500.2,1335.8 1500.8,1338.7 1501.5,1338.5 1502.2,1336.1 1502.9,1330.0 1503.5,1335.7 1504.2,1329.7 1504.9,1341.4 1505.6,1347.3 1506.2,1328.1 1506.9,1342.9 1507.6,1340.4 1508.3,1336.3 1508.9,1335.1 1509.6,1347.0 1510.3,1343.4 1511.0,1349.3 1511.6,1343.6 1512.3,1301.0 1513.0,1337.5 1513.7,1336.7 1514.3,1341.2 1515.0,1335.8 1515.7,1338.0 1516.4,1345.7 1517.0,1346.2 1517.7,1343.5 1518.4,1340.7 1519.1,1345.3 1519.7,1337.4 1520.4,1346.5 1521.1,1337.5 1521.8,1347.2 1522.5,1345.7 1523.1,1343.9 1523.8,1334.9 1524.5,1328.0 1525.2,1340.0 1525.8,1346.5 1526.5,1342.2 1527.2,1348.7 1527.9,1338.7 1528.5,1338.3 1529.2,1338.5 1529.9,1345.2 1530.6,1346.5 1531.2,1331.6 1531.9,1340.8 1532.6,1338.0 1533.3,1340.7 1533.9,1336.2 1534.6,1335.3 1535.3,1330.9 1536.0,1334.4 1536.6,1344.3 1537.3,1339.4 1538.0,1350.0 1538.7,1340.0 1539.3,1339.8 1540.0,1344.8 1540.7,1328.3 1541.4,1338.9 1542.0,1349.8 1542.7,1341.1 1543.4,1345.3 1544.1,1336.7 1544.7,1340.4 1545.4,1345.8 1546.1,1335.8 1546.8,1344.5 1547.4,1335.3 1548.1,1347.1 1548.8,1333.8 1549.5,1340.4 1550.2,1343.6 1550.8,1345.1 1551.5,1336.5 1552.2,1349.5 1552.9,1339.8 1553.5,1340.9 1554.2,1324.6 1554.9,1324.1 1555.6,1341.4 1556.2,1348.6 1556.9,1342.4 1557.6,1337.1 1558.3,1347.3 1558.9,1336.4 1559.6,1343.4 1560.3,1346.6 1561.0,1345.8 1561.6,1339.1 1562.3,1343.5 1563.0,1348.4 1563.7,1344.2 1564.3,1340.8 1565.0,1346.7 1565.7,1340.1 1566.4,1345.4 1567.0,1334.0 1567.7,1343.4 1568.4,1338.9 1569.1,1341.6 1569.7,1338.7 1570.4,1343.1 1571.1,1342.8 1571.8,1338.4 1572.4,1342.3 1573.1,1344.0 1573.8,1322.1 1574.5,1338.1 1575.1,1342.1 1575.8,1338.2 1576.5,1350.2" stroke="#0000ff" stroke-width="1.1" fill="none" stroke-linejoin="round"/></svg>
<rect x="900.9" y="1042.7" width="675.6" height="308.5" fill="none" stroke="#888888" stroke-width="1"/>
<path d="M900.9 1351.2v-7M900.9 1042.7v7M1036 1351.2v-7M1036 1042.7v7M1171.1 1351.2v-7M1171.1 1042.7v7M1306.3 1351.2v-7M1306.3 1042.7v7M1441.4 1351.2v-7M1441.4 1042.7v7M1576.5 1351.2v-7M1576.5 1042.7v7M900.9 1351.2h7M1576.5 1351.2h-7M900.9 1299.8h7M1576.5 1299.8h-7M900.9 1248.4h7M1576.5 1248.4h-7M900.9 1197h7M1576.5 1197h-7M900.9 1145.5h7M1576.5 1145.5h-7M900.9 1094.1h7M1576.5 1094.1h-7M900.9 1042.7h7M1576.5 1042.7h-7" stroke="#888888" stroke-width="1" fill="none"/>
<text x="900.9" y="1379.3" font-size="24" text-anchor="middle">0</text>
<text x="1036" y="1379.3" font-size="24" text-anchor="middle">200</text>
<text x="1171.1" y="1379.3" font-size="24" text-anchor="middle">400</text>
<text x="1306.3" y="1379.3" font-size="24" text-anchor="middle">600</text>
<text x="1441.4" y="1379.3" font-size="24" text-anchor="middle">800</text>
<text x="1576.5" y="1379.3" font-size="24" text-anchor="middle">1000</text>
<text x="894" y="1359.6" font-size="24" text-anchor="end">0</text>
<text x="894" y="1308.2" font-size="24" text-anchor="end">0.5</text>
<text x="894" y="1256.8" font-size="24" text-anchor="end">1</text>
<text x="894" y="1205.4" font-size="24" text-anchor="end">1.5</text>
<text x="894" y="1153.9" font-size="24" text-anchor="end">2</text>
<text x="894" y="1102.5" font-size="24" text-anchor="end">2.5</text>
<text x="894" y="1051.1" font-size="24" text-anchor="end">3</text>
<text x="1238.7" y="1410" font-size="27" text-anchor="middle">Frequency(Hz)</text>
<text transform="translate(857 1197) rotate(-90)" font-size="27" text-anchor="middle">Amplitude(m/s<tspan font-size="20.5" dy="-13.0">2</tspan><tspan dy="13.0">)</tspan></text>
<text x="902.5" y="1042" font-size="31">×</text>
<text x="921.5" y="1037.2" font-size="24">10<tspan font-size="17" dy="-11.5">-3</tspan></text>
<text x="1001.4" y="1060.8" font-size="23" fill="#ff0000"><tspan font-style="italic">f</tspan><tspan font-style="italic" font-size="17" dx="1.5" dy="12.5">b</tspan></text>
<path d="M999.7 1058.3L951.0 1055.7" stroke="#ff0000" stroke-width="0.75" fill="none"/>
<path d="M942.1 1055.2L954.8 1052.2L951.0 1055.7L954.4 1059.6Z" fill="#ff0000"/>
<text x="952.4" y="1089.6" font-size="23" fill="#ff0000"><tspan font-style="italic">f</tspan><tspan font-style="italic" font-size="17" dx="1.5" dy="12.5">o</tspan></text>
<path d="M960.9 1106.5L960.9 1120.7" stroke="#ff0000" stroke-width="0.75" fill="none"/>
<path d="M960.9 1129.6L957.2 1117.1L960.9 1120.7L964.6 1117.1Z" fill="#ff0000"/>
<text x="986" y="1090.7" font-size="23" fill="#ff0000"><tspan font-style="italic">f</tspan><tspan font-style="italic" font-size="17" dx="1.5" dy="12.5">i</tspan></text>
<path d="M992.0 1108.9L992.0 1123.5" stroke="#ff0000" stroke-width="0.75" fill="none"/>
<path d="M992.0 1132.4L988.3 1119.9L992.0 1123.5L995.7 1119.9Z" fill="#ff0000"/>
<text x="916.5" y="1129.1" font-size="23" fill="#ff0000"><tspan font-style="italic">f</tspan><tspan font-style="italic" font-size="17" dx="1.5" dy="12.5">r</tspan></text>
<path d="M923.7 1146.5L919.6 1180.1" stroke="#ff0000" stroke-width="0.75" fill="none"/>
<path d="M918.5 1188.9L916.3 1176.0L919.6 1180.1L923.7 1176.9Z" fill="#ff0000"/>
<text x="962.7" y="1173.5" font-size="23" fill="#ff0000"><tspan>2</tspan><tspan font-style="italic">f</tspan><tspan font-style="italic" font-size="17" dx="1.5" dy="12.5">b</tspan></text>
<path d="M976.2 1191.2L979.3 1222.4" stroke="#ff0000" stroke-width="0.75" fill="none"/>
<path d="M980.2 1231.3L975.3 1219.2L979.3 1222.4L982.6 1218.5Z" fill="#ff0000"/>
<text x="998" y="1141" font-size="23" fill="#ff0000"><tspan>3</tspan><tspan font-style="italic">f</tspan><tspan font-style="italic" font-size="17" dx="1.5" dy="12.5">b</tspan></text>
<path d="M1011.5 1157.8L1018.5 1177.0" stroke="#ff0000" stroke-width="0.75" fill="none"/>
<path d="M1021.6 1185.4L1013.8 1174.9L1018.5 1177.0L1020.8 1172.4Z" fill="#ff0000"/>
<text x="1034.4" y="1128" font-size="23" fill="#ff0000"><tspan>2</tspan><tspan font-style="italic">f</tspan><tspan font-style="italic" font-size="17" dx="1.5" dy="12.5">o</tspan></text>
<path d="M1048.0 1144.6L1028.4 1178.8" stroke="#ff0000" stroke-width="0.75" fill="none"/>
<path d="M1024.0 1186.5L1027.0 1173.8L1028.4 1178.8L1033.4 1177.5Z" fill="#ff0000"/>
<text x="1075.6" y="1131.6" font-size="23" fill="#ff0000"><tspan>2</tspan><tspan font-style="italic">f</tspan><tspan font-style="italic" font-size="17" dx="1.5" dy="12.5">i</tspan></text>
<path d="M1087.5 1149.3L1086.4 1178.8" stroke="#ff0000" stroke-width="0.75" fill="none"/>
<path d="M1086.1 1187.7L1082.9 1175.1L1086.4 1178.8L1090.3 1175.3Z" fill="#ff0000"/>
<text x="1047.4" y="1204.6" font-size="23" fill="#ff0000"><tspan>4</tspan><tspan font-style="italic">f</tspan><tspan font-style="italic" font-size="17" dx="1.5" dy="12.5">b</tspan></text>
<path d="M1061.6 1221.8L1062.6 1257.7" stroke="#ff0000" stroke-width="0.75" fill="none"/>
<path d="M1062.8 1266.6L1058.8 1254.2L1062.6 1257.7L1066.2 1254.0Z" fill="#ff0000"/>
<text x="1129.8" y="1189.3" font-size="23" fill="#ff0000"><tspan>4</tspan><tspan font-style="italic">f</tspan><tspan font-style="italic" font-size="17" dx="1.5" dy="12.5">o</tspan></text>
<path d="M1143.3 1206.5L1143.3 1252.5" stroke="#ff0000" stroke-width="0.75" fill="none"/>
<path d="M1143.3 1261.4L1139.6 1248.9L1143.3 1252.5L1147.0 1248.9Z" fill="#ff0000"/>
<text x="1163.9" y="1165.7" font-size="23" fill="#ff0000"><tspan>3</tspan><tspan font-style="italic">f</tspan><tspan font-style="italic" font-size="17" dx="1.5" dy="12.5">i</tspan></text>
<path d="M1175.1 1183.0L1175.5 1228.2" stroke="#ff0000" stroke-width="0.75" fill="none"/>
<path d="M1175.6 1237.1L1171.8 1224.6L1175.5 1228.2L1179.2 1224.6Z" fill="#ff0000"/>
<text x="1192.1" y="1194.7" font-size="23" fill="#ff0000"><tspan>5</tspan><tspan font-style="italic">f</tspan><tspan font-style="italic" font-size="17" dx="1.5" dy="12.5">o</tspan></text>
<path d="M1205.2 1211.2L1206.6 1258.8" stroke="#ff0000" stroke-width="0.75" fill="none"/>
<path d="M1206.9 1267.7L1202.8 1255.3L1206.6 1258.8L1210.2 1255.1Z" fill="#ff0000"/>
<text x="1255.3" y="1194.2" font-size="23" fill="#ff0000"><tspan>6</tspan><tspan font-style="italic">f</tspan><tspan font-style="italic" font-size="17" dx="1.5" dy="12.5">o</tspan></text>
<path d="M1268.3 1211.1L1269.4 1258.5" stroke="#ff0000" stroke-width="0.75" fill="none"/>
<path d="M1269.6 1267.4L1265.6 1255.0L1269.4 1258.5L1273.0 1254.8Z" fill="#ff0000"/>
<text x="463.5" y="451.3" font-size="33.6">(a) Time domain waveform and ES of inner race</text>
<text x="462.5" y="967" font-size="33.6">(b) Time domain waveform and ES of outer race</text>
<text x="504.8" y="1479.9" font-size="33.6">(c) Time domain waveform and ES of ball</text>
</svg></body></html>
